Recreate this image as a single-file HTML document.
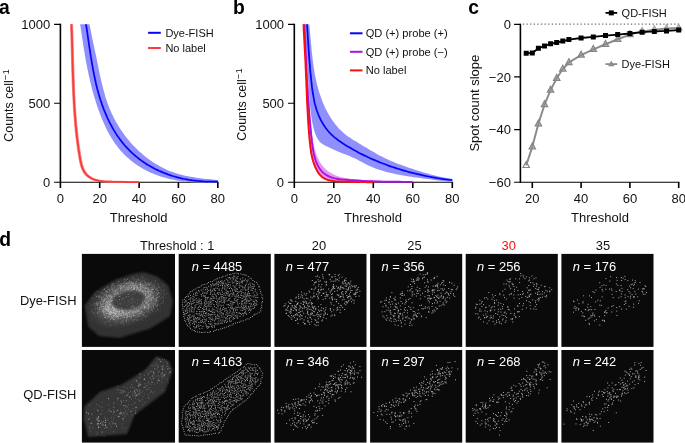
<!DOCTYPE html>
<html lang="en"><head><meta charset="utf-8"><title>Figure</title>
<style>html,body{margin:0;padding:0;background:#fff}svg{display:block}</style></head>
<body>
<svg width="685" height="443" viewBox="0 0 685 443" font-family='"Liberation Sans", sans-serif' fill="#111">
<rect width="685" height="443" fill="#fff"/>
<g id="pa">
<path d="M60.4 23.7V182.8" fill="none" stroke="#000" stroke-width="1.6"/>
<path d="M60.4 182.2H218.6" fill="none" stroke="#000" stroke-width="1.15"/>
<path d="M60.4 182.2v5.9M99.7 182.2v5.9M139.1 182.2v5.9M178.4 182.2v5.9M217.8 182.2v5.9" fill="none" stroke="#000" stroke-width="1.6"/>
<path d="M60.4 182.2h-6.300000000000001M60.4 103.2h-6.300000000000001M60.4 24.3h-6.300000000000001" fill="none" stroke="#000" stroke-width="1.15"/>
<text x="60.4" y="202.9" text-anchor="middle" font-size="13.0">0</text>
<text x="99.7" y="202.9" text-anchor="middle" font-size="13.0">20</text>
<text x="139.1" y="202.9" text-anchor="middle" font-size="13.0">40</text>
<text x="178.4" y="202.9" text-anchor="middle" font-size="13.0">60</text>
<text x="217.8" y="202.9" text-anchor="middle" font-size="13.0">80</text>
<text x="50.2" y="186.9" text-anchor="end" font-size="13.0">0</text>
<text x="50.2" y="108" text-anchor="end" font-size="13.0">500</text>
<text x="50.2" y="29.1" text-anchor="end" font-size="13.0">1000</text>
<text x="138.6" y="221.7" text-anchor="middle" font-size="13.0">Threshold</text>
<text transform="translate(12.9 105.5) rotate(-90)" text-anchor="middle" font-size="12.45">Counts cell<tspan font-size="9.6" dy="-4.3">−1</tspan></text>
<clipPath id="ca"><rect x="60.35" y="24.3" width="170" height="159.89999999999998"/></clipPath>
<g clip-path="url(#ca)">
<path d="M86.9 9.6 L87.2 11.6 L87.5 13.6 L87.9 15.6 L88.2 17.6 L88.6 19.6 L88.9 21.5 L89.3 23.5 L89.7 25.5 L90.1 27.5 L90.5 29.5 L90.9 31.4 L91.3 33.4 L91.7 35.4 L92.1 37.4 L92.5 39.3 L92.9 41.3 L93.3 43.3 L93.8 45.3 L94.2 47.2 L94.6 49.2 L95 51.2 L95.4 53.2 L95.9 55.1 L96.3 57.1 L96.7 59.1 L97.1 61.1 L97.5 63.1 L97.9 65 L98.3 67 L98.7 69 L99.1 71 L99.5 73 L99.9 75 L100.4 76.9 L100.8 78.9 L101.3 80.9 L101.7 82.9 L102.2 84.8 L102.7 86.8 L103.2 88.8 L103.7 90.7 L104.2 92.6 L104.8 94.6 L105.3 96.5 L105.9 98.4 L106.6 100.3 L107.2 102.2 L107.9 104.1 L108.6 106 L109.3 107.9 L110.1 109.7 L110.9 111.6 L111.7 113.4 L112.6 115.3 L113.5 117.1 L114.4 118.9 L115.3 120.6 L116.3 122.4 L117.3 124.1 L118.4 125.9 L119.4 127.6 L120.5 129.3 L121.7 131 L122.8 132.6 L124 134.3 L125.2 135.9 L126.4 137.5 L127.7 139.1 L129 140.6 L130.3 142.2 L131.7 143.7 L133 145.2 L134.4 146.6 L135.9 148.1 L137.3 149.5 L138.8 150.9 L140.3 152.3 L141.8 153.6 L143.3 154.9 L144.9 156.2 L146.5 157.4 L148.1 158.7 L149.7 159.9 L151.4 161 L153 162.2 L154.7 163.2 L156.4 164.3 L158.2 165.3 L159.9 166.3 L161.7 167.3 L163.5 168.2 L165.3 169.1 L167.1 169.9 L168.9 170.7 L170.8 171.4 L172.7 172.1 L174.6 172.7 L176.5 173.4 L178.4 173.9 L180.3 174.5 L182.3 175 L184.3 175.4 L186.2 175.9 L188.2 176.3 L190.2 176.7 L192.2 177 L194.2 177.3 L196.2 177.7 L198.2 177.9 L200.2 178.2 L202.2 178.5 L204.3 178.7 L206.3 178.9 L208.3 179.1 L210.3 179.3 L212.3 179.5 L214.3 179.7 L216.3 179.9 L218.3 180.1 L217.3 182.6 L215.2 182.6 L213.2 182.7 L211.1 182.7 L209 182.7 L206.9 182.7 L204.7 182.7 L202.6 182.6 L200.5 182.6 L198.3 182.5 L196.2 182.4 L194 182.3 L191.9 182.2 L189.7 182 L187.5 181.8 L185.4 181.6 L183.2 181.3 L181.1 181.1 L178.9 180.7 L176.8 180.4 L174.7 180 L172.5 179.6 L170.4 179.2 L168.3 178.7 L166.2 178.1 L164.2 177.6 L162.1 176.9 L160.1 176.3 L158 175.6 L156 174.8 L154 174.1 L152.1 173.2 L150.1 172.4 L148.2 171.5 L146.3 170.5 L144.4 169.5 L142.6 168.5 L140.8 167.4 L139 166.3 L137.2 165.2 L135.5 164 L133.8 162.7 L132.1 161.5 L130.5 160.2 L128.9 158.8 L127.3 157.4 L125.7 156 L124.2 154.5 L122.8 153 L121.4 151.5 L120 149.9 L118.6 148.3 L117.3 146.6 L116.1 144.9 L114.8 143.2 L113.7 141.5 L112.5 139.7 L111.4 137.9 L110.3 136 L109.2 134.2 L108.2 132.3 L107.2 130.4 L106.2 128.5 L105.3 126.5 L104.4 124.6 L103.5 122.6 L102.6 120.6 L101.8 118.6 L101 116.6 L100.2 114.6 L99.5 112.6 L98.7 110.5 L98 108.5 L97.3 106.5 L96.6 104.4 L96 102.4 L95.3 100.3 L94.7 98.3 L94.1 96.2 L93.5 94.2 L92.9 92.1 L92.3 90.1 L91.8 88 L91.3 85.9 L90.8 83.8 L90.3 81.8 L89.8 79.7 L89.3 77.6 L88.8 75.5 L88.4 73.4 L88 71.3 L87.5 69.3 L87.1 67.2 L86.7 65.1 L86.3 63 L85.9 60.9 L85.5 58.8 L85.2 56.7 L84.8 54.6 L84.5 52.5 L84.1 50.4 L83.8 48.3 L83.4 46.2 L83.1 44.1 L82.8 42 L82.5 39.9 L82.1 37.8 L81.8 35.7 L81.5 33.6 L81.2 31.4 L80.9 29.3 L80.6 27.2 L80.3 25.1 L80 23 L79.7 20.9 L79.4 18.8 L79 16.7 L78.7 14.6 L78.4 12.5 L78.1 10.5Z" fill="#9090fc"/>
<path d="M83.5 10.2 L83.9 12.2 L84.3 14.1 L84.6 16.1 L85 18.1 L85.3 20.1 L85.6 22.1 L86 24.1 L86.3 26.1 L86.6 28.1 L86.9 30.2 L87.2 32.2 L87.5 34.2 L87.8 36.3 L88.1 38.3 L88.4 40.4 L88.7 42.4 L89 44.5 L89.3 46.6 L89.6 48.6 L90 50.7 L90.3 52.8 L90.6 54.8 L90.9 56.9 L91.3 59 L91.6 61 L91.9 63.1 L92.3 65.2 L92.7 67.2 L93 69.3 L93.4 71.4 L93.8 73.4 L94.2 75.5 L94.7 77.5 L95.1 79.6 L95.6 81.6 L96 83.7 L96.5 85.7 L97 87.7 L97.5 89.7 L98.1 91.8 L98.6 93.8 L99.2 95.8 L99.8 97.8 L100.4 99.8 L101.1 101.8 L101.8 103.7 L102.4 105.7 L103.2 107.6 L103.9 109.6 L104.7 111.5 L105.5 113.4 L106.3 115.4 L107.1 117.3 L108 119.1 L108.9 121 L109.8 122.9 L110.8 124.7 L111.8 126.5 L112.8 128.3 L113.8 130.1 L114.9 131.9 L116 133.6 L117.1 135.4 L118.3 137.1 L119.5 138.7 L120.7 140.4 L122 142 L123.3 143.6 L124.6 145.2 L125.9 146.7 L127.3 148.2 L128.7 149.7 L130.2 151.1 L131.7 152.6 L133.2 153.9 L134.7 155.3 L136.3 156.6 L137.9 157.9 L139.5 159.2 L141.2 160.4 L142.8 161.6 L144.5 162.7 L146.3 163.9 L148 165 L149.8 166 L151.6 167 L153.4 168 L155.2 169 L157.1 169.9 L159 170.8 L160.9 171.6 L162.8 172.4 L164.7 173.2 L166.7 173.9 L168.6 174.7 L170.6 175.3 L172.6 176 L174.6 176.5 L176.6 177.1 L178.6 177.6 L180.7 178.1 L182.7 178.6 L184.8 179 L186.8 179.4 L188.9 179.8 L191 180.1 L193 180.4 L195.1 180.6 L197.2 180.9 L199.3 181.1 L201.3 181.2 L203.4 181.4 L205.5 181.5 L207.6 181.5 L209.6 181.6 L211.7 181.6 L213.8 181.6 L215.8 181.5 L217.9 181.5" fill="none" stroke="#0505f8" stroke-width="1.75"/>
<path d="M72 9.5 L72.1 11.3 L72.2 13.2 L72.3 15 L72.3 16.9 L72.4 18.7 L72.5 20.6 L72.5 22.4 L72.6 24.3 L72.7 26.1 L72.7 27.9 L72.8 29.8 L72.9 31.6 L72.9 33.5 L73 35.3 L73 37.2 L73.1 39 L73.1 40.9 L73.2 42.7 L73.2 44.5 L73.3 46.4 L73.3 48.2 L73.4 50.1 L73.4 51.9 L73.5 53.8 L73.5 55.6 L73.6 57.5 L73.6 59.3 L73.7 61.2 L73.7 63 L73.8 64.8 L73.8 66.7 L73.9 68.5 L73.9 70.4 L74 72.2 L74 74.1 L74.1 75.9 L74.2 77.8 L74.2 79.6 L74.3 81.5 L74.4 83.3 L74.4 85.1 L74.5 87 L74.6 88.8 L74.7 90.7 L74.7 92.5 L74.8 94.4 L74.9 96.2 L75 98.1 L75.1 99.9 L75.2 101.7 L75.3 103.6 L75.4 105.4 L75.5 107.3 L75.7 109.1 L75.8 111 L75.9 112.8 L76 114.6 L76.2 116.5 L76.3 118.3 L76.5 120.2 L76.6 122 L76.8 123.8 L77 125.7 L77.1 127.5 L77.3 129.3 L77.5 131.2 L77.7 133 L77.9 134.8 L78.1 136.7 L78.3 138.5 L78.6 140.3 L78.8 142.2 L79 144 L79.3 145.8 L79.5 147.6 L79.8 149.5 L80.1 151.3 L80.4 153.1 L80.7 154.9 L81 156.8 L81.3 158.7 L81.7 160.5 L82.1 162.4 L82.5 164.3 L83.1 166.1 L83.7 167.9 L84.4 169.5 L85.3 171.1 L86.3 172.6 L87.4 174 L88.7 175.3 L90.1 176.4 L91.6 177.3 L93.1 178.2 L94.8 178.9 L96.5 179.5 L98.2 180 L100 180.3 L101.9 180.6 L103.7 180.9 L105.6 181 L107.6 181.1 L109.5 181.2 L111.4 181.2 L113.3 181.3 L115.2 181.3 L117.1 181.3 L118.9 181.3 L120.8 181.3 L122.5 181.4 L124.3 181.4 L126.1 181.5 L127.9 181.5 L129.7 181.6 L131.5 181.6 L133.3 181.7 L135.2 181.8 L137.1 181.8 L139 181.9 L139 182.4 L137.1 182.5 L135.1 182.6 L133.2 182.6 L131.4 182.6 L129.5 182.6 L127.7 182.6 L125.9 182.6 L124.1 182.5 L122.3 182.5 L120.5 182.4 L118.7 182.3 L116.9 182.3 L115 182.3 L113.1 182.3 L111.2 182.2 L109.3 182.2 L107.3 182.2 L105.4 182.1 L103.4 182 L101.5 181.8 L99.6 181.6 L97.8 181.3 L96 180.9 L94.2 180.4 L92.5 179.8 L90.9 179.1 L89.3 178.2 L87.8 177.2 L86.4 176.1 L85.2 174.8 L84 173.4 L83 171.9 L82.2 170.2 L81.5 168.5 L80.8 166.7 L80.3 164.9 L79.9 163 L79.5 161.1 L79.1 159.2 L78.8 157.3 L78.5 155.5 L78.2 153.6 L77.9 151.8 L77.6 149.9 L77.4 148.1 L77.1 146.3 L76.9 144.4 L76.6 142.6 L76.4 140.7 L76.2 138.9 L75.9 137 L75.7 135.2 L75.5 133.3 L75.3 131.5 L75.1 129.6 L75 127.8 L74.8 125.9 L74.6 124.1 L74.5 122.2 L74.3 120.4 L74.2 118.5 L74 116.6 L73.9 114.8 L73.7 112.9 L73.6 111.1 L73.5 109.2 L73.4 107.3 L73.3 105.5 L73.2 103.6 L73.1 101.8 L73 99.9 L72.9 98 L72.8 96.2 L72.7 94.3 L72.6 92.5 L72.5 90.6 L72.4 88.7 L72.4 86.9 L72.3 85 L72.2 83.1 L72.1 81.3 L72.1 79.4 L72 77.6 L72 75.7 L71.9 73.8 L71.8 72 L71.8 70.1 L71.7 68.2 L71.7 66.4 L71.6 64.5 L71.6 62.7 L71.5 60.8 L71.5 58.9 L71.4 57.1 L71.4 55.2 L71.3 53.3 L71.3 51.5 L71.2 49.6 L71.2 47.7 L71.1 45.9 L71.1 44 L71 42.2 L71 40.3 L70.9 38.4 L70.9 36.6 L70.8 34.7 L70.8 32.8 L70.7 31 L70.6 29.1 L70.6 27.3 L70.5 25.4 L70.5 23.5 L70.4 21.7 L70.3 19.8 L70.2 17.9 L70.2 16.1 L70.1 14.2 L70 12.4 L69.9 10.5Z" fill="#fb8c8c" stroke="#fb8c8c" stroke-width="1"/>
<path d="M70.9 10 L71 11.9 L71.1 13.7 L71.2 15.6 L71.2 17.4 L71.3 19.3 L71.4 21.1 L71.4 23 L71.5 24.8 L71.6 26.7 L71.6 28.5 L71.7 30.4 L71.8 32.2 L71.8 34.1 L71.9 36 L71.9 37.8 L72 39.7 L72 41.5 L72.1 43.4 L72.1 45.2 L72.2 47.1 L72.2 48.9 L72.3 50.8 L72.3 52.6 L72.4 54.5 L72.4 56.4 L72.5 58.2 L72.5 60.1 L72.6 61.9 L72.6 63.8 L72.7 65.6 L72.7 67.5 L72.8 69.3 L72.8 71.2 L72.9 73 L72.9 74.9 L73 76.8 L73.1 78.6 L73.1 80.5 L73.2 82.3 L73.3 84.2 L73.3 86 L73.4 87.9 L73.5 89.7 L73.6 91.6 L73.7 93.4 L73.7 95.3 L73.8 97.1 L73.9 99 L74 100.9 L74.1 102.7 L74.2 104.6 L74.4 106.4 L74.5 108.3 L74.6 110.1 L74.7 112 L74.8 113.8 L75 115.7 L75.1 117.5 L75.3 119.4 L75.4 121.2 L75.6 123.1 L75.7 124.9 L75.9 126.8 L76.1 128.6 L76.3 130.4 L76.5 132.3 L76.7 134.1 L76.9 136 L77.1 137.8 L77.3 139.6 L77.5 141.5 L77.8 143.3 L78 145.1 L78.3 147 L78.5 148.8 L78.8 150.6 L79.1 152.5 L79.4 154.3 L79.7 156.2 L80 158 L80.3 159.9 L80.7 161.8 L81.1 163.7 L81.6 165.5 L82.2 167.3 L82.9 169.1 L83.7 170.7 L84.6 172.3 L85.7 173.8 L86.9 175.1 L88.2 176.3 L89.7 177.3 L91.2 178.3 L92.8 179 L94.5 179.7 L96.2 180.2 L98 180.6 L99.8 181 L101.7 181.2 L103.6 181.4 L105.5 181.6 L107.4 181.7 L109.4 181.7 L111.3 181.7 L113.2 181.8 L115.1 181.8 L117 181.8 L118.8 181.8 L120.6 181.9 L122.4 181.9 L124.2 182 L126 182 L127.8 182.1 L129.6 182.1 L131.4 182.1 L133.3 182.2 L135.2 182.2 L137.1 182.1 L139 182.1" fill="none" stroke="#f83c3c" stroke-width="1.8"/>
</g>
<text x="-1.1" y="13.9" font-size="19.3" font-weight="bold" fill="#000">a</text>
<path d="M148.1 32.8h12.7" stroke="#0505f8" stroke-width="2"/><text x="165.4" y="36.9" font-size="11">Dye-FISH</text>
<path d="M148.1 48h12.7" stroke="#f83c3c" stroke-width="2"/><text x="165.4" y="52.2" font-size="11">No label</text>
</g>
<g id="pb">
<path d="M294.3 23.7V182.8" fill="none" stroke="#000" stroke-width="1.6"/>
<path d="M294.3 182.2H453.1" fill="none" stroke="#000" stroke-width="1.15"/>
<path d="M294.3 182.2v5.9M333.8 182.2v5.9M373.3 182.2v5.9M412.8 182.2v5.9M452.3 182.2v5.9" fill="none" stroke="#000" stroke-width="1.6"/>
<path d="M294.3 182.2h-6.300000000000001M294.3 103.2h-6.300000000000001M294.3 24.3h-6.300000000000001" fill="none" stroke="#000" stroke-width="1.15"/>
<text x="294.3" y="202.9" text-anchor="middle" font-size="13.0">0</text>
<text x="333.8" y="202.9" text-anchor="middle" font-size="13.0">20</text>
<text x="373.3" y="202.9" text-anchor="middle" font-size="13.0">40</text>
<text x="412.8" y="202.9" text-anchor="middle" font-size="13.0">60</text>
<text x="452.3" y="202.9" text-anchor="middle" font-size="13.0">80</text>
<text x="284.1" y="186.9" text-anchor="end" font-size="13.0">0</text>
<text x="284.1" y="108" text-anchor="end" font-size="13.0">500</text>
<text x="284.1" y="29.1" text-anchor="end" font-size="13.0">1000</text>
<text x="373" y="221.7" text-anchor="middle" font-size="13.0">Threshold</text>
<text transform="translate(246.4 104.5) rotate(-90)" text-anchor="middle" font-size="12.45">Counts cell<tspan font-size="9.6" dy="-4.3">−1</tspan></text>
<clipPath id="cb"><rect x="294.3" y="24.3" width="170" height="159.89999999999998"/></clipPath>
<g clip-path="url(#cb)">
<path d="M307.7 10.1 L308 12.1 L308.2 14.2 L308.5 16.2 L308.7 18.3 L308.9 20.4 L309.1 22.4 L309.3 24.5 L309.5 26.6 L309.7 28.7 L309.9 30.8 L310.1 32.9 L310.3 35 L310.4 37.1 L310.6 39.2 L310.8 41.3 L311 43.4 L311.2 45.6 L311.4 47.7 L311.6 49.8 L311.8 51.9 L312 54 L312.3 56.1 L312.5 58.2 L312.8 60.3 L313 62.5 L313.3 64.6 L313.6 66.7 L313.9 68.7 L314.3 70.8 L314.6 72.9 L315 75 L315.4 77.1 L315.8 79.1 L316.3 81.2 L316.7 83.2 L317.2 85.3 L317.8 87.3 L318.3 89.3 L318.9 91.3 L319.5 93.3 L320.2 95.3 L320.9 97.3 L321.6 99.3 L322.3 101.2 L323.1 103.2 L323.9 105.1 L324.8 107 L325.7 108.9 L326.7 110.8 L327.7 112.7 L328.7 114.5 L329.8 116.3 L330.9 118.1 L332.1 119.9 L333.3 121.6 L334.6 123.3 L335.9 125 L337.2 126.6 L338.6 128.2 L340.1 129.7 L341.6 131.1 L343.1 132.5 L344.7 133.9 L346.3 135.2 L348 136.4 L349.7 137.6 L351.5 138.8 L353.3 139.9 L355.1 141 L356.9 142.1 L358.7 143.2 L360.5 144.3 L362.3 145.4 L364.1 146.4 L365.9 147.5 L367.7 148.6 L369.5 149.7 L371.3 150.7 L373.2 151.8 L375 152.8 L376.8 153.9 L378.6 154.9 L380.5 155.9 L382.3 156.8 L384.2 157.8 L386.1 158.7 L387.9 159.6 L389.9 160.5 L391.8 161.3 L393.7 162.1 L395.7 162.9 L397.6 163.7 L399.6 164.4 L401.6 165.1 L403.5 165.8 L405.5 166.5 L407.5 167.2 L409.5 167.9 L411.5 168.6 L413.5 169.2 L415.5 169.9 L417.5 170.6 L419.5 171.2 L421.5 171.8 L423.5 172.5 L425.6 173.1 L427.6 173.6 L429.6 174.2 L431.6 174.8 L433.7 175.3 L435.7 175.8 L437.8 176.3 L439.8 176.7 L441.9 177.1 L444 177.5 L446 177.9 L448.1 178.2 L450.2 178.5 L452.3 178.8 L452.3 181.6 L450 181.5 L447.7 181.4 L445.4 181.2 L443.1 181 L440.8 180.8 L438.5 180.5 L436.2 180.2 L434 179.9 L431.7 179.6 L429.4 179.3 L427.1 179 L424.8 178.7 L422.6 178.4 L420.3 178.1 L418 177.8 L415.7 177.5 L413.4 177.2 L411.2 176.8 L408.9 176.5 L406.6 176.1 L404.4 175.7 L402.1 175.3 L399.8 174.9 L397.6 174.5 L395.3 174 L393.1 173.5 L390.8 173 L388.6 172.5 L386.4 171.9 L384.1 171.3 L381.9 170.6 L379.8 169.9 L377.6 169.2 L375.4 168.4 L373.3 167.6 L371.2 166.7 L369.1 165.8 L367 164.8 L364.9 163.7 L362.9 162.6 L360.8 161.5 L358.8 160.4 L356.8 159.3 L354.7 158.3 L352.6 157.4 L350.5 156.5 L348.4 155.6 L346.3 154.8 L344.1 154 L342 153.2 L339.9 152.3 L337.8 151.4 L335.7 150.5 L333.5 149.5 L331.4 148.6 L329.2 147.6 L327 146.6 L324.9 145.5 L322.9 144.3 L321.1 143 L319.5 141.4 L318.2 139.7 L317 137.8 L316 135.8 L315.2 133.7 L314.5 131.5 L313.8 129.3 L313.3 127 L312.8 124.7 L312.3 122.5 L311.9 120.2 L311.5 117.9 L311.2 115.6 L310.9 113.3 L310.6 111.1 L310.3 108.8 L310.1 106.5 L309.9 104.2 L309.7 101.9 L309.5 99.6 L309.3 97.3 L309.1 95 L309 92.7 L308.8 90.4 L308.7 88.1 L308.5 85.8 L308.4 83.5 L308.2 81.2 L308 78.9 L307.9 76.6 L307.7 74.4 L307.5 72.1 L307.4 69.8 L307.2 67.5 L307 65.2 L306.8 62.9 L306.7 60.6 L306.5 58.3 L306.3 56 L306.2 53.7 L306 51.4 L305.9 49.1 L305.7 46.8 L305.6 44.5 L305.4 42.2 L305.3 39.9 L305.1 37.6 L305 35.3 L304.9 33 L304.8 30.7 L304.6 28.4 L304.5 26.1 L304.4 23.8 L304.4 21.5 L304.3 19.2 L304.2 16.9 L304.2 14.6 L304.1 12.3 L304.1 10Z" fill="#9090fc"/>
<path d="M306.2 10 L306.4 12.2 L306.5 14.4 L306.6 16.6 L306.8 18.8 L306.9 21 L307 23.2 L307.1 25.4 L307.3 27.6 L307.4 29.7 L307.5 31.9 L307.7 34.1 L307.8 36.3 L307.9 38.5 L308.1 40.6 L308.2 42.8 L308.3 45 L308.5 47.1 L308.6 49.3 L308.8 51.5 L308.9 53.7 L309.1 55.8 L309.2 58 L309.4 60.2 L309.6 62.3 L309.8 64.5 L310 66.7 L310.1 68.9 L310.3 71.1 L310.5 73.3 L310.8 75.4 L311 77.6 L311.2 79.8 L311.4 82 L311.7 84.2 L311.9 86.4 L312.2 88.6 L312.5 90.8 L312.8 93 L313.2 95.2 L313.6 97.4 L314 99.6 L314.4 101.7 L314.9 103.9 L315.5 106 L316.1 108.1 L316.7 110.2 L317.5 112.3 L318.2 114.3 L319.1 116.3 L320 118.3 L320.9 120.2 L322 122.2 L323.1 124 L324.2 125.8 L325.4 127.6 L326.7 129.3 L328.1 131 L329.5 132.6 L331 134.1 L332.6 135.6 L334.2 137.1 L335.9 138.4 L337.6 139.8 L339.4 141.1 L341.2 142.3 L343 143.5 L344.9 144.7 L346.8 145.9 L348.7 147 L350.6 148.1 L352.5 149.2 L354.4 150.3 L356.3 151.3 L358.3 152.4 L360.2 153.4 L362.2 154.4 L364.2 155.4 L366.2 156.3 L368.1 157.2 L370.1 158.2 L372.1 159.1 L374.1 159.9 L376.2 160.8 L378.2 161.6 L380.2 162.5 L382.3 163.3 L384.3 164 L386.4 164.8 L388.4 165.6 L390.5 166.3 L392.5 167 L394.6 167.7 L396.7 168.4 L398.8 169 L400.9 169.7 L403 170.3 L405.1 170.9 L407.2 171.5 L409.3 172.1 L411.4 172.6 L413.5 173.2 L415.7 173.7 L417.8 174.2 L419.9 174.7 L422.1 175.2 L424.2 175.6 L426.4 176.1 L428.5 176.5 L430.6 176.9 L432.8 177.3 L435 177.7 L437.1 178.1 L439.3 178.4 L441.4 178.8 L443.6 179.1 L445.8 179.4 L447.9 179.7 L450.1 180 L452.3 180.2" fill="none" stroke="#0505f8" stroke-width="1.75"/>
<path d="M304.6 10 L304.6 12.1 L304.7 14.2 L304.7 16.4 L304.8 18.5 L304.9 20.6 L304.9 22.7 L305 24.8 L305.1 26.9 L305.2 29 L305.3 31.2 L305.4 33.3 L305.5 35.4 L305.6 37.5 L305.8 39.6 L305.9 41.7 L306 43.9 L306.1 46 L306.3 48.1 L306.4 50.2 L306.6 52.3 L306.7 54.4 L306.8 56.5 L307 58.7 L307.1 60.8 L307.3 62.9 L307.4 65 L307.5 67.1 L307.7 69.2 L307.8 71.3 L307.9 73.5 L308.1 75.6 L308.2 77.7 L308.3 79.8 L308.5 81.9 L308.6 84 L308.7 86.1 L308.8 88.3 L309 90.4 L309.1 92.5 L309.2 94.6 L309.3 96.7 L309.4 98.8 L309.6 100.9 L309.7 103 L309.8 105.1 L309.9 107.3 L310 109.4 L310.1 111.5 L310.2 113.6 L310.3 115.7 L310.4 117.8 L310.5 119.9 L310.7 122 L310.8 124.1 L311 126.2 L311.2 128.3 L311.4 130.4 L311.6 132.5 L311.9 134.6 L312.2 136.7 L312.5 138.8 L312.9 140.9 L313.3 143 L313.7 145.1 L314.2 147.2 L314.8 149.3 L315.4 151.4 L316.1 153.5 L316.8 155.5 L317.6 157.5 L318.5 159.4 L319.5 161.3 L320.6 163.1 L321.8 164.8 L323.1 166.4 L324.6 167.9 L326 169.4 L327.6 170.7 L329.3 171.9 L331 173 L332.9 174 L334.7 174.9 L336.7 175.7 L338.6 176.4 L340.7 177 L342.7 177.5 L344.8 177.9 L346.9 178.3 L349.1 178.6 L351.2 178.9 L353.4 179.1 L355.6 179.3 L357.7 179.4 L359.9 179.6 L362 179.7 L364.1 179.9 L366.3 180 L368.4 180.2 L370.5 180.3 L372.6 180.4 L374.7 180.5 L376.8 180.7 L378.8 180.8 L380.9 180.9 L383 181 L385.2 181.1 L387.3 181.2 L389.4 181.3 L391.5 181.3 L393.6 181.4 L395.7 181.5 L397.9 181.6 L400 181.6 L402.1 181.7 L404.2 181.7 L406.3 181.7 L408.5 181.8 L410.6 181.8 L412.7 181.8 L373 182.2 L371.1 182.2 L369.2 182.2 L367.4 182.2 L365.5 182.1 L363.6 182.1 L361.8 182 L359.9 182 L358.1 181.9 L356.2 181.9 L354.4 181.9 L352.6 181.8 L350.7 181.8 L348.9 181.8 L347 181.7 L345.1 181.7 L343.3 181.7 L341.4 181.6 L339.5 181.5 L337.5 181.4 L335.6 181.3 L333.7 181.1 L331.7 180.8 L329.9 180.4 L328.1 180 L326.3 179.4 L324.7 178.6 L323.2 177.7 L321.8 176.7 L320.5 175.4 L319.3 174.1 L318.2 172.6 L317.3 171.1 L316.4 169.4 L315.6 167.7 L314.8 166 L314.2 164.2 L313.6 162.5 L313 160.7 L312.5 158.9 L312.1 157 L311.7 155.2 L311.3 153.4 L311 151.5 L310.8 149.7 L310.5 147.8 L310.3 145.9 L310.1 144.1 L309.9 142.2 L309.7 140.3 L309.5 138.5 L309.3 136.6 L309.2 134.7 L309 132.8 L308.9 131 L308.7 129.1 L308.6 127.2 L308.5 125.4 L308.3 123.5 L308.2 121.7 L308.1 119.8 L308 117.9 L307.9 116.1 L307.8 114.2 L307.7 112.4 L307.6 110.5 L307.5 108.6 L307.4 106.8 L307.3 104.9 L307.2 103.1 L307.1 101.2 L307 99.4 L307 97.5 L306.9 95.6 L306.8 93.8 L306.7 91.9 L306.7 90.1 L306.6 88.2 L306.5 86.4 L306.4 84.5 L306.4 82.7 L306.3 80.8 L306.2 78.9 L306.1 77.1 L306.1 75.2 L306 73.4 L305.9 71.5 L305.8 69.6 L305.7 67.8 L305.6 65.9 L305.6 64.1 L305.5 62.2 L305.4 60.3 L305.3 58.5 L305.2 56.6 L305.1 54.7 L305 52.9 L304.9 51 L304.8 49.1 L304.7 47.3 L304.6 45.4 L304.5 43.5 L304.4 41.7 L304.3 39.8 L304.2 37.9 L304.1 36.1 L304 34.2 L303.9 32.3 L303.8 30.5 L303.7 28.6 L303.7 26.7 L303.6 24.9 L303.5 23 L303.4 21.2 L303.3 19.3 L303.2 17.4 L303.2 15.6 L303.1 13.7 L303 11.9 L303 10Z" fill="#e49af0"/>
<path d="M303.7 10 L303.8 12.1 L303.9 14.3 L304 16.5 L304.1 18.6 L304.2 20.8 L304.3 23 L304.4 25.1 L304.5 27.3 L304.6 29.5 L304.7 31.6 L304.8 33.8 L304.9 35.9 L305 38.1 L305.1 40.2 L305.2 42.4 L305.3 44.6 L305.4 46.7 L305.5 48.9 L305.6 51 L305.7 53.2 L305.8 55.3 L305.9 57.5 L306 59.6 L306.1 61.8 L306.2 63.9 L306.3 66.1 L306.4 68.2 L306.5 70.3 L306.6 72.5 L306.7 74.6 L306.8 76.8 L306.9 78.9 L307.1 81.1 L307.2 83.2 L307.3 85.4 L307.4 87.5 L307.6 89.7 L307.7 91.8 L307.8 94 L308 96.1 L308.1 98.3 L308.3 100.4 L308.4 102.6 L308.6 104.7 L308.7 106.9 L308.9 109 L309.1 111.2 L309.2 113.3 L309.4 115.5 L309.6 117.6 L309.8 119.8 L310 121.9 L310.2 124.1 L310.4 126.3 L310.6 128.4 L310.8 130.6 L311 132.7 L311.2 134.9 L311.5 137.1 L311.7 139.2 L311.9 141.4 L312.2 143.6 L312.5 145.7 L312.8 147.9 L313.1 150 L313.5 152.1 L313.9 154.3 L314.5 156.3 L315 158.4 L315.7 160.5 L316.5 162.5 L317.3 164.4 L318.3 166.4 L319.4 168.2 L320.6 170 L322 171.6 L323.5 173 L325.2 174.3 L326.9 175.4 L328.8 176.4 L330.8 177.2 L332.8 177.9 L334.9 178.4 L337.1 178.8 L339.2 179.2 L341.4 179.4 L343.7 179.6 L345.9 179.8 L348.1 180 L350.3 180.1 L352.5 180.2 L354.6 180.4 L356.8 180.5 L358.9 180.6 L361 180.8 L363.2 180.9 L365.3 181 L367.4 181.1 L369.5 181.2 L371.7 181.3 L373.8 181.4 L376 181.4 L378.1 181.5 L380.3 181.5 L382.4 181.6 L384.6 181.6 L386.8 181.7 L389 181.7 L391.1 181.7 L393.3 181.8 L395.5 181.8 L397.6 181.8 L399.8 181.8 L402 181.9 L404.1 181.9 L406.3 181.9 L408.4 181.9 L410.6 182 L412.7 182" fill="none" stroke="#a812e2" stroke-width="1.9"/>
<path d="M303 10 L303 11.9 L303.1 13.7 L303.2 15.6 L303.2 17.4 L303.3 19.3 L303.4 21.2 L303.5 23 L303.6 24.9 L303.7 26.7 L303.7 28.6 L303.8 30.5 L303.9 32.3 L304 34.2 L304.1 36.1 L304.2 37.9 L304.3 39.8 L304.4 41.7 L304.5 43.5 L304.6 45.4 L304.7 47.3 L304.8 49.1 L304.9 51 L305 52.9 L305.1 54.7 L305.2 56.6 L305.3 58.5 L305.4 60.3 L305.5 62.2 L305.6 64.1 L305.6 65.9 L305.7 67.8 L305.8 69.6 L305.9 71.5 L306 73.4 L306.1 75.2 L306.1 77.1 L306.2 78.9 L306.3 80.8 L306.4 82.7 L306.4 84.5 L306.5 86.4 L306.6 88.2 L306.7 90.1 L306.7 91.9 L306.8 93.8 L306.9 95.6 L307 97.5 L307 99.4 L307.1 101.2 L307.2 103.1 L307.3 104.9 L307.4 106.8 L307.5 108.6 L307.6 110.5 L307.7 112.4 L307.8 114.2 L307.9 116.1 L308 117.9 L308.1 119.8 L308.2 121.7 L308.3 123.5 L308.5 125.4 L308.6 127.2 L308.7 129.1 L308.9 131 L309 132.8 L309.2 134.7 L309.3 136.6 L309.5 138.5 L309.7 140.3 L309.9 142.2 L310.1 144.1 L310.3 145.9 L310.5 147.8 L310.8 149.7 L311 151.5 L311.3 153.4 L311.7 155.2 L312.1 157 L312.5 158.9 L313 160.7 L313.6 162.5 L314.2 164.2 L314.8 166 L315.6 167.7 L316.4 169.4 L317.3 171.1 L318.2 172.6 L319.3 174.1 L320.5 175.4 L321.8 176.7 L323.2 177.7 L324.7 178.6 L326.3 179.4 L328.1 180 L329.9 180.4 L331.7 180.8 L333.7 181.1 L335.6 181.3 L337.5 181.4 L339.5 181.5 L341.4 181.6 L343.3 181.7 L345.1 181.7 L347 181.7 L348.9 181.8 L350.7 181.8 L352.6 181.8 L354.4 181.9 L356.2 181.9 L358.1 181.9 L359.9 182 L361.8 182 L363.6 182.1 L365.5 182.1 L367.4 182.2 L369.2 182.2 L371.1 182.2 L373 182.2" fill="none" stroke="#fa0f0f" stroke-width="2"/>
</g>
<text x="232.9" y="13.9" font-size="19.3" font-weight="bold" fill="#000">b</text>
<path d="M349.9 33.3h12.6" stroke="#0505f8" stroke-width="2"/><text x="365.7" y="37.1" font-size="11.1">QD (+) probe (+)</text>
<path d="M349.9 51.8h12.6" stroke="#a812e2" stroke-width="2"/><text x="365.7" y="55.6" font-size="11.1">QD (+) probe (−)</text>
<path d="M349.9 70.4h12.6" stroke="#fa0f0f" stroke-width="2"/><text x="365.7" y="74.2" font-size="11.1">No label</text>
</g>
<g id="pc">
<path d="M522.9 24.1H679" stroke="#6e6e6e" stroke-width="1.3" stroke-dasharray="1.3 2.3" fill="none"/>
<path d="M526.2 165.4 L532.3 146.7 L538.4 123.8 L544.5 104.6 L550.6 90.1 L556.7 78.2 L562.8 69 L568.9 62.5 L581.1 55.1 L593.3 49.3 L605.5 44.3 L617.7 39.3 L629.9 34.6 L642.1 31.4 L654.3 29.7 L666.5 28.6 L678.7 28" fill="none" stroke="#8c8c8c" stroke-width="2"/>
<path d="M526.2 161.6L529.4 167.5H523Z" fill="#8c8c8c" fill-opacity="0.0" stroke="#858585" stroke-width="1.2" stroke-linejoin="miter"/>
<path d="M532.3 142.9L535.5 148.8H529.1Z" fill="#8c8c8c" fill-opacity="0.5" stroke="#858585" stroke-width="1.2" stroke-linejoin="miter"/>
<path d="M538.4 120L541.6 125.9H535.2Z" fill="#8c8c8c" fill-opacity="0.5" stroke="#858585" stroke-width="1.2" stroke-linejoin="miter"/>
<path d="M544.5 100.8L547.7 106.7H541.3Z" fill="#8c8c8c" fill-opacity="0.5" stroke="#858585" stroke-width="1.2" stroke-linejoin="miter"/>
<path d="M550.6 86.3L553.8 92.2H547.4Z" fill="#8c8c8c" fill-opacity="0.5" stroke="#858585" stroke-width="1.2" stroke-linejoin="miter"/>
<path d="M556.7 74.4L559.9 80.3H553.5Z" fill="#8c8c8c" fill-opacity="0.5" stroke="#858585" stroke-width="1.2" stroke-linejoin="miter"/>
<path d="M562.8 65.2L566 71.1H559.6Z" fill="#8c8c8c" fill-opacity="0.5" stroke="#858585" stroke-width="1.2" stroke-linejoin="miter"/>
<path d="M568.9 58.7L572.1 64.6H565.7Z" fill="#8c8c8c" fill-opacity="0.5" stroke="#858585" stroke-width="1.2" stroke-linejoin="miter"/>
<path d="M581.1 51.3L584.3 57.2H577.9Z" fill="#8c8c8c" fill-opacity="0.5" stroke="#858585" stroke-width="1.2" stroke-linejoin="miter"/>
<path d="M593.3 45.5L596.5 51.4H590.1Z" fill="#8c8c8c" fill-opacity="0.5" stroke="#858585" stroke-width="1.2" stroke-linejoin="miter"/>
<path d="M605.5 40.5L608.7 46.4H602.3Z" fill="#8c8c8c" fill-opacity="0.5" stroke="#858585" stroke-width="1.2" stroke-linejoin="miter"/>
<path d="M617.7 35.5L620.9 41.4H614.5Z" fill="#8c8c8c" fill-opacity="0.5" stroke="#858585" stroke-width="1.2" stroke-linejoin="miter"/>
<path d="M629.9 30.8L633.1 36.7H626.7Z" fill="#8c8c8c" fill-opacity="0.5" stroke="#858585" stroke-width="1.2" stroke-linejoin="miter"/>
<path d="M642.1 27.6L645.3 33.5H638.9Z" fill="#8c8c8c" fill-opacity="0.5" stroke="#a4a4a4" stroke-width="1.2" stroke-linejoin="miter"/>
<path d="M654.3 25.9L657.5 31.8H651.1Z" fill="#8c8c8c" fill-opacity="0.5" stroke="#a4a4a4" stroke-width="1.2" stroke-linejoin="miter"/>
<path d="M666.5 24.8L669.7 30.7H663.3Z" fill="#8c8c8c" fill-opacity="0.5" stroke="#a4a4a4" stroke-width="1.2" stroke-linejoin="miter"/>
<path d="M678.7 24.2L681.9 30.1H675.5Z" fill="#8c8c8c" fill-opacity="0.5" stroke="#a4a4a4" stroke-width="1.2" stroke-linejoin="miter"/>
<path d="M526.2 53.2 L532.3 53 L538.4 48.2 L544.5 45.9 L550.6 43.8 L556.7 42.5 L562.8 41.1 L568.9 39.6 L581.1 38 L593.3 36.9 L605.5 35.6 L617.7 34.6 L629.9 33.5 L642.1 32.2 L654.3 31.4 L666.5 30.9 L678.7 30.1" fill="none" stroke="#000" stroke-width="1.8"/>
<path d="M523.7 50.7h5v5h-5zM529.8 50.5h5v5h-5zM535.9 45.7h5v5h-5zM542 43.4h5v5h-5zM548.1 41.3h5v5h-5zM554.2 40h5v5h-5zM560.3 38.6h5v5h-5zM566.4 37.1h5v5h-5zM578.6 35.5h5v5h-5zM590.8 34.4h5v5h-5zM603 33.1h5v5h-5zM615.2 32.1h5v5h-5zM627.4 31h5v5h-5zM639.6 29.7h5v5h-5zM651.8 28.9h5v5h-5zM664 28.4h5v5h-5zM676.2 27.6h5v5h-5z" fill="#000"/>
<path d="M520.4 23.7V182.8" fill="none" stroke="#000" stroke-width="1.6"/>
<path d="M520.4 182.2H679.5" fill="none" stroke="#000" stroke-width="1.15"/>
<path d="M532.3 182.2v5.9M581.1 182.2v5.9M629.9 182.2v5.9M678.7 182.2v5.9" fill="none" stroke="#000" stroke-width="1.6"/>
<path d="M520.4 24.3h-6.300000000000001M520.4 76.9h-6.300000000000001M520.4 129.6h-6.300000000000001M520.4 182.2h-6.300000000000001" fill="none" stroke="#000" stroke-width="1.15"/>
<text x="532.3" y="202.9" text-anchor="middle" font-size="13.0">20</text>
<text x="581.1" y="202.9" text-anchor="middle" font-size="13.0">40</text>
<text x="629.9" y="202.9" text-anchor="middle" font-size="13.0">60</text>
<text x="678.7" y="202.9" text-anchor="middle" font-size="13.0">80</text>
<text x="510.9" y="29.1" text-anchor="end" font-size="13.0">0</text>
<text x="510.9" y="81.7" text-anchor="end" font-size="13.0">−20</text>
<text x="510.9" y="134.3" text-anchor="end" font-size="13.0">−40</text>
<text x="510.9" y="186.9" text-anchor="end" font-size="13.0">−60</text>
<text x="600" y="221.7" text-anchor="middle" font-size="13.0">Threshold</text>
<text transform="translate(479.4 103.2) rotate(-90)" text-anchor="middle" font-size="13.0">Spot count slope</text>
<text x="468.3" y="13.9" font-size="19.3" font-weight="bold" fill="#000">c</text>
<path d="M605.5 12.9h11.7" stroke="#000" stroke-width="1.8"/><rect x="608.8" y="10.4" width="5" height="5" fill="#000"/><text x="621.6" y="16.9" font-size="11">QD-FISH</text>
<path d="M605.5 64.1h11.7" stroke="#8c8c8c" stroke-width="1.8"/><path d="M611.3 60.5l3.2 5.8h-6.4z" fill="#8c8c8c"/><text x="621.6" y="68.3" font-size="11">Dye-FISH</text>
</g>
<g id="pd">
<text x="-0.8" y="246.2" font-size="19.3" font-weight="bold" fill="#000">d</text>
<text x="214.3" y="250.2" text-anchor="end" font-size="12.75">Threshold : 1</text>
<text x="319" y="250.2" text-anchor="middle" font-size="12.9" fill="#111">20</text>
<text x="414.5" y="250.2" text-anchor="middle" font-size="12.9" fill="#111">25</text>
<text x="508.7" y="250.2" text-anchor="middle" font-size="12.9" fill="#f01414">30</text>
<text x="602.9" y="250.2" text-anchor="middle" font-size="12.9" fill="#111">35</text>
<text x="76.5" y="304.6" text-anchor="end" font-size="12.9">Dye-FISH</text>
<text x="76.3" y="399.4" text-anchor="end" font-size="12.9">QD-FISH</text>
<rect x="81.9" y="253.9" width="93.1" height="93" fill="#0a0a0a"/>
<rect x="178.7" y="253.9" width="92.1" height="93" fill="#0a0a0a"/>
<rect x="274.4" y="253.9" width="92.1" height="93" fill="#0a0a0a"/>
<rect x="370.1" y="253.9" width="92.1" height="93" fill="#0a0a0a"/>
<rect x="465.7" y="253.9" width="92.1" height="93" fill="#0a0a0a"/>
<rect x="561.4" y="253.9" width="92.1" height="93" fill="#0a0a0a"/>
<rect x="81.9" y="350" width="93.1" height="92.6" fill="#0a0a0a"/>
<rect x="178.7" y="350" width="92.1" height="92.6" fill="#0a0a0a"/>
<rect x="274.4" y="350" width="92.1" height="92.6" fill="#0a0a0a"/>
<rect x="370.1" y="350" width="92.1" height="92.6" fill="#0a0a0a"/>
<rect x="465.7" y="350" width="92.1" height="92.6" fill="#0a0a0a"/>
<rect x="561.4" y="350" width="92.1" height="92.6" fill="#0a0a0a"/>
<defs><filter id="bl" x="-10%" y="-10%" width="120%" height="120%"><feGaussianBlur stdDeviation="0.9"/></filter><filter id="bl2" x="-20%" y="-20%" width="140%" height="140%"><feGaussianBlur stdDeviation="2.2"/></filter><filter id="bl3" x="-20%" y="-20%" width="140%" height="140%"><feGaussianBlur stdDeviation="0.35"/></filter><filter id="bl5" x="-10%" y="-10%" width="120%" height="120%"><feGaussianBlur stdDeviation="0.8"/></filter><filter id="bl6" x="-10%" y="-10%" width="120%" height="120%"><feGaussianBlur stdDeviation="0.65"/></filter><filter id="bl4" x="-5%" y="-5%" width="110%" height="110%"><feGaussianBlur stdDeviation="0.5"/></filter></defs>
<g transform="translate(82 253.9)">
<path d="M62.2 18.3 L74.7 22.4 L86.1 31.1 L91 47.7 L88.2 62.2 L68.5 74.7 L37.3 84 L16.6 82 L6.2 72.6 L2.5 51.9 L12.4 38.4 L33.2 25.9 L51.9 19.7Z" fill="#303030" filter="url(#bl)"/>
<defs><radialGradient id="rg"><stop offset="0" stop-color="#777" stop-opacity="1"/><stop offset="0.45" stop-color="#707070" stop-opacity="0.9"/><stop offset="0.75" stop-color="#606060" stop-opacity="0.4"/><stop offset="1" stop-color="#555" stop-opacity="0"/></radialGradient></defs>
<ellipse cx="44" cy="49" rx="40" ry="24" transform="rotate(-20 44 49)" fill="url(#rg)" opacity="0.95"/>
<g filter="url(#bl)"><ellipse cx="46.6" cy="46.4" rx="16" ry="9" transform="rotate(-10 46.6 46.4)" fill="#3c3c3c"/></g>
<g filter="url(#bl6)"><path d="M34.2 37.8h0.75M62.5 32.7h0.75M52.4 31.3h0.75M30.2 36.6h0.75M54.3 60.7h0.75M41.6 60.5h0.75M68.9 53.3h0.75M61.7 34.1h0.75M66 40.9h0.75M41.3 58.1h0.75M40.8 65.6h0.75M28.4 45.5h0.75M74.8 41h0.75M34.3 58.6h0.75M78.1 37.1h0.75M24.3 64.6h0.75M28.4 57.9h0.75M24.7 52.6h0.75M47.6 33.9h0.75M52.9 59.5h0.75M73.5 50.6h0.75M62.8 51.4h0.75M53.6 25.8h0.75M65.2 43.7h0.75M69.6 34.4h0.75M26.9 58.5h0.75M31.7 56.1h0.75M30.5 30.2h0.75M30.5 30.6h0.75M66.8 53h0.75M39.1 60.7h0.75M49.3 35.1h0.75M26.8 60.4h0.75M23.4 57.3h0.75M47.4 26.7h0.75M54.1 29.3h0.75M49.5 57.9h0.75M65.9 39h0.75M29.9 52.4h0.75M11 49.1h0.75M62.9 36.1h0.75M31.3 57h0.75M62 35.3h0.75M31.4 55.9h0.75M27.4 36.4h0.75M27 61.9h0.75M44.8 33.9h0.75M54.4 32.1h0.75M36.6 58.7h0.75M23.9 44.2h0.75M24.3 42.5h0.75M49.2 31.6h0.75M48.5 63.1h0.75M26.6 49.4h0.75M38.1 34.4h0.75M37.9 59.8h0.75M18.5 48.4h0.75M75.7 49.5h0.75M32.3 37.7h0.75M27.5 51h0.75M66.7 51.9h0.75M57.2 62.1h0.75M55.2 32.8h0.75M28.4 46.9h0.75M24.4 41.2h0.75M33.7 35.9h0.75M42.8 60.9h0.75M68.6 40.9h0.75M57.8 34.4h0.75M44.3 33.4h0.75M44 55.5h0.75M71.4 51.5h0.75M69.8 41.3h0.75M59.8 35.9h0.75M42.1 25.6h0.75M23.6 47.4h0.75M40.5 59h0.75M43.7 24.8h0.75M39 46.7h0.75M40.5 61.7h0.75M63.5 49.7h0.75M24.7 60.5h0.75M38.5 37h0.75M29.2 40.4h0.75M50.1 43.6h0.75M31.1 53.9h0.75M79 44.4h0.75M40.7 58.1h0.75M73.4 51.5h0.75M19.6 56.2h0.75M22.5 57.3h0.75M24.4 51.4h0.75M76.6 50.3h0.75M62.3 37.3h0.75M65 36.6h0.75M29.7 53.7h0.75M64.5 45h0.75M38.6 64.6h0.75M24.7 54.7h0.75M50.5 31.7h0.75M57.6 29h0.75M49.5 28.2h0.75M31.7 56.2h0.75M15 60.3h0.75M50.7 51.7h0.75M61.5 60.4h0.75M36.5 66.1h0.75M22.4 49.7h0.75M51.8 59.3h0.75M32 57.6h0.75M68.3 47.5h0.75M66.8 52.4h0.75M49.2 65h0.75M56.5 37.2h0.75M14.4 37.5h0.75M62.3 54.6h0.75M29.4 38.7h0.75M56.7 57.3h0.75M69.3 44.8h0.75M23.3 53.2h0.75M30.5 58.8h0.75M28.4 41.9h0.75M45.1 32.9h0.75M16.1 43.5h0.75M51.6 33.2h0.75M60.3 33.2h0.75M78.1 53.8h0.75M54.2 30.4h0.75M51.3 61.1h0.75M50.6 32.5h0.75M52 62h0.75M50.3 57.4h0.75M23.2 53.9h0.75M54.9 24.6h0.75M66.3 42.1h0.75M55.9 35.2h0.75M53.9 25.9h0.75M27.5 48.5h0.75M34 64.5h0.75M62.4 46.2h0.75M67.7 43.2h0.75M38.5 33.7h0.75M58.6 34.9h0.75M21.1 52h0.75M52 57.6h0.75M28.6 32.5h0.75M50.4 59.4h0.75M48.9 31.7h0.75M21.8 58.2h0.75M47.6 56.6h0.75M47.7 57.6h0.75M51.7 28.6h0.75M70.9 36.3h0.75M67.7 54.5h0.75M30.2 62.6h0.75M23.7 61.9h0.75M66.1 40.7h0.75M52.2 28.3h0.75M69.3 40.2h0.75M22 38.6h0.75M70.1 44.9h0.75M29.9 51.1h0.75M63 36.8h0.75M62.2 34.5h0.75M38.6 32.6h0.75M72.1 37.7h0.75M26.2 63.5h0.75M63.8 48.6h0.75M15 53.5h0.75M57.8 54.7h0.75M65 55.1h0.75M36.9 33.1h0.75M30.9 33.4h0.75M40.3 36.9h0.75M33.6 71.1h0.75M42.7 30.6h0.75M23.2 53.3h0.75M20.7 49.6h0.75M49.6 37.9h0.75M63.9 32.1h0.75M33.4 59.8h0.75M26.1 45h0.75M25.6 37.7h0.75M49 33.9h0.75M41.7 56.8h0.75M34.1 59.5h0.75M33.2 37h0.75M15.3 59.7h0.75M33.3 57.7h0.75M36.7 58.2h0.75M22.5 45.9h0.75M28.2 43.8h0.75M32.4 55h0.75M64.6 39.7h0.75M61.3 35.7h0.75M61.4 62h0.75M66.9 51.2h0.75M25.5 54.6h0.75M55.7 22.4h0.75M48.5 60.6h0.75M48.8 57.8h0.75M43 60.9h0.75M44.5 65.9h0.75M38.2 42.9h0.75M29.6 55.9h0.75M75.1 44.7h0.75M56.2 54.1h0.75M32.1 65.2h0.75M62.8 32h0.75M70.9 58.8h0.75M69 53.3h0.75M21.6 45.5h0.75M50.7 60.2h0.75M13.2 41.4h0.75M30 59.8h0.75M65.8 33.4h0.75M35 60.1h0.75M51.4 32.6h0.75M70.3 51.4h0.75M17.9 54.5h0.75M51.8 31.1h0.75M43.2 59.5h0.75M23.6 54.1h0.75M25.9 44.9h0.75M54.3 58.3h0.75M65.9 41.2h0.75M70.3 38.9h0.75M62.4 27.8h0.75M58 34.5h0.75M48.4 36.6h0.75M29.8 44.5h0.75M44.3 58h0.75M31.6 56.6h0.75M23.4 51.2h0.75M42.5 61.4h0.75M58.3 31h0.75M27.8 57.6h0.75M16.1 59.2h0.75M25 56.5h0.75M71 53.1h0.75M46.1 58h0.75M50.8 23.5h0.75M40.7 65h0.75M52.4 33.3h0.75M55.2 62.5h0.75M67.6 35.3h0.75M72.8 34.3h0.75M28.5 60.3h0.75M24.3 63h0.75M71.6 49.6h0.75M47 47.8h0.75M25.4 38.1h0.75M54.2 56.4h0.75M53.5 55.2h0.75M57.2 35.4h0.75M50.8 28.8h0.75M66.5 51.7h0.75M69.5 48.3h0.75M41.6 33h0.75M45.7 64.4h0.75M16.3 53.5h0.75M34.9 32.5h0.75M69.1 48.9h0.75M54 56.4h0.75M24 59h0.75M31 39.4h0.75M49.5 61.9h0.75M17.2 53.6h0.75M28.2 41h0.75M34.5 59.9h0.75M35.6 35.7h0.75M66.4 32.6h0.75M74.5 43.9h0.75M57.4 52.9h0.75M63 36.4h0.75M42.5 35.9h0.75M43.1 33.7h0.75M38.6 61.7h0.75M25.3 46.8h0.75M71.8 33.2h0.75M60.4 66.7h0.75M34.4 35.2h0.75M77.3 34.1h0.75M24.6 45.3h0.75M35.2 35.8h0.75M41 63.9h0.75M40 33.5h0.75M28.6 55.3h0.75M36 34h0.75M81.1 31.6h0.75M21.6 48h0.75M32.7 32.3h0.75M54.1 37.2h0.75M46.6 31.5h0.75M40.4 63.6h0.75M17.6 59h0.75M71.1 52.2h0.75M29.9 63.6h0.75M73.3 35.7h0.75M47.8 31.1h0.75M52 35.1h0.75M35.5 34.1h0.75M71.1 51.4h0.75M26.7 52h0.75M63.5 47.2h0.75M49.1 41h0.75M55.4 60.8h0.75M45.2 40.5h0.75M62.9 31.7h0.75M29.1 64.6h0.75M76.3 32.6h0.75M29.2 60.2h0.75M66 42.2h0.75M79.1 36.7h0.75M35.7 59.8h0.75M49.1 35.7h0.75M65.4 45.6h0.75M31.1 37h0.75M47.4 61.5h0.75M62.5 34.7h0.75M59.6 31.5h0.75M36.8 45.9h0.75M20.8 57.1h0.75M64.7 33.9h0.75M44.9 59.6h0.75M26.6 55.7h0.75M84.7 39.4h0.75M29 33.4h0.75M66.8 63.1h0.75M69.9 38.4h0.75M40.9 59.2h0.75M20.4 43h0.75M29.6 44.1h0.75M78.4 44.7h0.75M53 32.1h0.75M24.6 52.3h0.75M29.7 58.3h0.75M58.2 31.4h0.75M20.5 54.3h0.75M63.4 41.4h0.75M74.1 44.1h0.75M35 35.9h0.75M33.7 29.8h0.75M54.9 34h0.75M51.1 35h0.75M64.9 48.2h0.75M22.7 55.9h0.75M69.5 31.5h0.75M75.3 47.2h0.75M49.5 28.2h0.75M68.5 45.8h0.75M30.4 57.5h0.75M68.2 46.2h0.75M40.2 66.6h0.75M32.8 31.1h0.75M40.3 57.4h0.75M71 42.5h0.75M28 52h0.75M64 33.5h0.75M30 56.2h0.75M54.5 33.6h0.75M64.1 39.6h0.75M65 43.1h0.75M31.5 37h0.75M14.6 41.5h0.75M36.1 61.5h0.75M68.6 42.9h0.75M31.2 58.5h0.75M46.4 42.6h0.75M34.2 36.1h0.75M35.4 56h0.75M63.6 55.3h0.75M23 44h0.75M75.4 43.5h0.75M27.8 44.2h0.75M25 57.6h0.75M25.1 55.7h0.75M43.6 59.2h0.75M40 30.5h0.75M63.6 49.9h0.75M46.2 36.4h0.75M59.3 32.6h0.75M55.2 56.2h0.75M69.7 33.3h0.75M20.6 50.6h0.75M65.6 54.4h0.75M43.8 31.8h0.75M61.8 52.4h0.75M67.1 50.5h0.75M29.4 59.6h0.75M16.4 45.1h0.75M19.7 50.3h0.75M33 40.2h0.75M33.4 36.2h0.75M31.8 58.7h0.75M50.7 58.5h0.75M37.9 60.3h0.75M47.6 58.6h0.75M21.6 54.2h0.75M22.3 52.9h0.75M17.5 48.4h0.75M51.2 55.6h0.75M68.8 39.4h0.75M63.1 28.4h0.75M33.5 57.7h0.75M32.3 58.7h0.75M65.5 29.2h0.75M20.1 43.2h0.75M65.3 32.7h0.75M30 56.6h0.75M29.1 59.2h0.75M71.3 35h0.75M66.7 52.2h0.75M54.7 36.4h0.75M50.9 51.7h0.75M67.8 45.5h0.75M35 38.7h0.75M23 59.8h0.75M53.3 31.9h0.75M28.4 44.3h0.75M68.6 30.6h0.75M38.6 50.6h0.75M55.8 55.6h0.75M33.6 57.6h0.75M34.2 62.6h0.75M52.2 59.4h0.75M65.6 38.6h0.75M58.1 34.1h0.75M27.3 36.8h0.75M38.3 65.2h0.75M46.9 62.5h0.75M50.7 62.3h0.75M24.2 37.9h0.75M78.8 33.7h0.75M57.6 57h0.75M18.8 38.6h0.75M42.4 44.6h0.75M49.2 49.7h0.75M53.5 64h0.75M66.4 30.5h0.75M21.7 58.1h0.75M25.3 57.5h0.75M48.1 27.6h0.75M19.4 48.6h0.75M50.8 46.4h0.75M41.5 59h0.75M29.8 56.9h0.75M64.9 49.4h0.75M48.6 32.5h0.75M60.8 31.4h0.75M65.4 37.9h0.75M46.6 29h0.75M24.4 62.7h0.75M62.8 62.5h0.75M24.5 50.9h0.75M17.1 59.1h0.75M25.3 58.9h0.75M23.6 57.4h0.75M41.6 62.2h0.75M67.3 40.9h0.75M23.1 53h0.75M14.9 48.2h0.75M55.7 33.4h0.75M46.7 28.5h0.75M17 58.9h0.75M24.8 52.5h0.75M49.7 58.4h0.75M69.4 46.5h0.75M51.7 25.1h0.75M23.3 48.6h0.75M46.6 58.4h0.75M31.5 34.9h0.75M64.2 41.7h0.75M66.1 49.4h0.75M30.7 57.4h0.75M76.8 40h0.75M51.6 56.2h0.75M31.4 37.8h0.75M66.8 33.9h0.75M66.1 39.5h0.75M51.3 35.2h0.75M50 31.2h0.75M44.4 58.1h0.75M63 52.8h0.75M43.8 37.3h0.75M42.4 40.8h0.75M57.5 57.8h0.75M21 45.8h0.75M77.2 39.3h0.75M67.6 52.2h0.75M23.3 52.9h0.75M55.4 31.3h0.75M71.2 41.4h0.75M49.9 23.5h0.75M21.7 60.4h0.75M75.4 52.2h0.75M29.9 31.7h0.75M24.1 57.5h0.75M20.3 52.5h0.75M52.3 45.3h0.75M60.3 37.7h0.75M63.4 57.7h0.75M54.3 57h0.75M65.9 54h0.75M46.3 29.5h0.75M50.1 61.9h0.75M39.3 31.6h0.75M51 29h0.75M48.5 56.6h0.75M29.3 43.2h0.75M27.8 35.7h0.75M21.4 44.3h0.75M28.9 51h0.75M68.7 49.9h0.75M24.4 55.6h0.75M30.4 34.2h0.75M57.5 60h0.75M70.5 41.3h0.75M73.8 44.8h0.75M61 59.3h0.75M15.6 47.4h0.75M34.7 64.9h0.75M64.9 38.6h0.75M26.3 52.8h0.75M37.6 35.4h0.75M52.4 48.6h0.75M59 61.3h0.75M44.9 29.3h0.75M71.8 37.4h0.75M30.1 35.2h0.75M52.5 58.4h0.75M12.4 49.6h0.75M56.8 55.4h0.75M33.6 59.1h0.75M45.4 24.9h0.75M70.6 51.9h0.75M65.3 43.4h0.75M35.2 66h0.75M55.8 29.3h0.75M69.2 34.8h0.75M75.2 36.2h0.75M40.6 33.7h0.75M26.9 38.9h0.75M30.6 56.9h0.75M58.4 35h0.75M41.8 59.9h0.75M54.3 62.2h0.75M65.4 37.5h0.75M28.1 53.8h0.75M39.8 44.3h0.75M47.5 58.9h0.75M54.2 29.5h0.75M24.2 51.3h0.75M29.5 57.9h0.75M28.3 64.1h0.75M26.3 47.6h0.75M25.2 59.4h0.75M21.7 54.1h0.75M44.3 59.3h0.75M31.6 56.7h0.75M31.2 61.7h0.75M16 49.5h0.75M58.2 55.2h0.75M43.5 31.3h0.75M43.8 28.6h0.75M71.6 49.6h0.75M23 45.4h0.75M43.9 27.2h0.75M45.4 33.3h0.75M24.9 32.4h0.75M28.4 53.1h0.75M26.3 38.8h0.75M57.4 26.3h0.75M14.8 58.7h0.75M60.3 31.4h0.75M30.4 34.7h0.75M80.9 48.9h0.75M56.7 56.1h0.75M61.5 50.5h0.75M17.4 55.4h0.75M67.5 49.7h0.75M77.9 41.5h0.75M51.9 61.5h0.75M38 57.6h0.75M73.3 26.9h0.75M35 68.7h0.75M30.1 51.3h0.75M39.2 35.5h0.75M56.8 46h0.75M29.4 62.5h0.75M35.1 59.2h0.75M24 59.9h0.75M25.9 54.1h0.75M21.9 46.2h0.75M30 32.6h0.75M75.3 39h0.75M24.1 55.2h0.75M45.7 62.6h0.75M35.2 26h0.75M39.3 39.4h0.75M24.8 38.3h0.75M60.4 35.1h0.75M33.1 62.5h0.75M31.4 59.8h0.75M56.2 57.5h0.75M47.1 32.8h0.75M31.2 65.5h0.75M26.8 44.9h0.75M33.2 52.1h0.75M23.3 48.6h0.75M65.5 40.8h0.75M31.7 55.3h0.75M26.8 58.1h0.75M20.4 37.9h0.75M30.6 61.9h0.75M58.7 59.2h0.75M32.1 63.3h0.75M24.4 59.9h0.75M74.9 48.4h0.75M70.5 37.9h0.75M14 49.3h0.75M43.6 32.4h0.75M61.9 52.5h0.75M51.4 32.4h0.75M52.1 27.4h0.75M54 36.6h0.75M64.5 53.6h0.75M35.5 57.4h0.75M35.4 62.7h0.75M16.3 57.7h0.75M24.6 55.7h0.75M66.5 50.5h0.75M33.9 57.9h0.75M63.2 41.5h0.75M80.4 46.9h0.75M24 47.4h0.75M19.1 55.6h0.75M42.6 56.2h0.75M31.2 62.6h0.75M74.8 52.9h0.75M30.9 62.8h0.75M55.7 60.3h0.75M47.3 60.5h0.75M24.9 50.7h0.75M25 47.4h0.75M31.7 63.8h0.75M66.4 50.2h0.75M53.6 62.9h0.75M49.4 32.9h0.75M28.2 32.3h0.75M22.5 50.7h0.75M61.3 57.1h0.75M23.7 50.8h0.75M71 35.3h0.75M18.2 43.9h0.75M25.8 59.3h0.75M68.2 41.1h0.75M67.5 41.4h0.75M56.4 30.8h0.75M63.6 46h0.75M48.7 65h0.75M26.4 37.2h0.75M71.6 31.7h0.75M60.3 56h0.75M66.7 64.6h0.75M56.4 58.3h0.75M50.8 61.4h0.75M17.2 41.7h0.75M56.2 59.2h0.75M68.9 51h0.75M55.2 32.2h0.75M21.8 36h0.75M70 45.7h0.75M24 44.3h0.75M32.3 58.4h0.75M59.3 32.6h0.75M13.8 42.7h0.75M37.9 35.5h0.75M29.4 64.6h0.75M42.7 61.5h0.75M40.2 55.8h0.75M50.5 66.9h0.75M39.8 61.9h0.75M59.3 38.1h0.75M74 33.9h0.75M33.9 59.6h0.75M70.3 43.7h0.75M21.6 41.9h0.75M69.9 54.8h0.75M59 60.5h0.75M61.2 31.4h0.75M37.1 60.6h0.75M67.8 46.9h0.75M30.5 59.9h0.75M28.3 58.6h0.75M32.5 31.9h0.75M42.6 68.4h0.75M80.6 42.7h0.75M65.8 48h0.75M67.7 51.5h0.75M41.4 65.8h0.75M68.2 32.6h0.75M53 33.7h0.75M74 46h0.75M48.2 43.6h0.75M43.3 30h0.75M27.2 41.8h0.75M22.3 60.3h0.75M54.3 31.5h0.75M74.6 46.7h0.75M22.8 48.3h0.75M64.4 52.3h0.75M77.9 35h0.75M31.1 32.4h0.75M34.3 53h0.75M69.3 44.5h0.75M19.1 57.8h0.75M35.9 39.6h0.75M53.6 29.8h0.75M56.2 36.6h0.75M24.7 51h0.75M30.8 65.5h0.75M18.9 46.4h0.75M17.3 43.9h0.75M27.6 58.6h0.75M26.6 60.9h0.75M22 41.3h0.75M56.1 45.8h0.75M21.1 60.9h0.75M73.2 39.7h0.75M80.5 42.6h0.75M41.9 32.5h0.75M46.5 32.6h0.75M32.1 61.3h0.75M34.3 58h0.75M26.6 62.7h0.75M61.6 53.4h0.75M42.1 48.8h0.75M19.6 43h0.75M18.9 53.1h0.75M63.7 38.9h0.75M70.2 47.2h0.75M29.9 60.5h0.75M41.3 59.8h0.75M69.3 45.1h0.75M34.2 61h0.75M40.8 62.1h0.75M47.2 34.6h0.75M80.7 32.1h0.75M34.7 57.1h0.75M24.8 59.7h0.75M26.3 61.9h0.75M31.1 65.6h0.75M50.2 59.7h0.75M62.9 41.8h0.75M25.5 62.8h0.75M62.3 50.5h0.75M23.8 48.1h0.75M39.9 54.7h0.75M43.4 25.8h0.75M43.5 60.3h0.75M10.2 63.5h0.75M40.8 29.7h0.75M40.7 33.6h0.75M34.4 54.5h0.75M69.5 29.5h0.75M67.7 40.7h0.75M45.5 61.1h0.75M69 39.3h0.75M78.4 45.2h0.75M21.4 56.7h0.75M50 56.5h0.75M19.9 57.3h0.75M32.5 58.5h0.75M33.9 61.9h0.75M70.6 48.7h0.75M59.3 30.5h0.75M66.8 51.3h0.75M31.1 62.2h0.75M34.2 59.4h0.75M58.2 59.7h0.75M60.9 34.2h0.75M38.8 35.3h0.75M67.9 48.7h0.75M36 58.2h0.75M28.5 46.9h0.75M30.6 38.5h0.75M57.1 57.6h0.75M62.9 49.3h0.75M74.4 39.9h0.75M49.8 36h0.75M9.2 43.7h0.75M36.2 35h0.75M32.4 57.9h0.75M31.8 61.1h0.75M46.3 33.6h0.75M26.7 48.3h0.75M15 48.5h0.75M24 52.7h0.75M32.1 40.6h0.75M45.5 70.2h0.75M44.2 30h0.75M51.9 33.4h0.75M18.3 52.3h0.75M70.7 43.3h0.75M55.4 34.1h0.75M35.9 63.8h0.75M61.1 36.9h0.75M59.1 34.6h0.75M53.2 57h0.75M47.2 56.9h0.75M37.9 34.8h0.75M47.5 31.7h0.75M54.4 34.8h0.75M63.7 44h0.75M70.7 49.9h0.75M31.7 55.7h0.75M62.6 53.5h0.75M40.4 63.1h0.75M36.3 64.4h0.75M67.6 30.6h0.75M23.9 51h0.75M37.6 61.4h0.75M67.6 37.3h0.75M58.4 56.2h0.75M70.7 52.3h0.75M45 34.3h0.75M69 37.8h0.75M33.1 60.6h0.75M59.6 32.4h0.75M65 37.7h0.75M49.8 30.9h0.75M19.9 47.4h0.75M30.8 62.7h0.75M34 56.9h0.75M31.2 52.9h0.75M64.3 51.6h0.75M24.5 38.8h0.75M34.5 53h0.75M31.2 54.2h0.75M27.7 47.8h0.75M36.1 36.3h0.75M10.2 57h0.75M37.6 31.9h0.75M55.9 31.9h0.75M38.8 55.8h0.75M55.2 45.9h0.75M26.5 38.3h0.75M24.2 47.9h0.75M75.7 39.1h0.75M55.1 48h0.75M56.8 58.1h0.75M56.6 34.7h0.75M65.6 39.4h0.75M23.3 45.2h0.75M56.9 30.8h0.75M43.6 59.4h0.75M37.8 49.6h0.75M29.3 64.3h0.75M46 35.9h0.75M40.8 58.5h0.75M21.9 54.5h0.75M25.2 53.5h0.75M40.4 39.8h0.75M27.5 36h0.75M66.3 51.1h0.75M21.1 43.9h0.75M27.8 41.3h0.75M24.1 41.4h0.75M48.3 57.4h0.75M31.4 55.1h0.75M64.3 58.9h0.75M70.5 48.3h0.75M69.1 35.4h0.75M18.8 51.3h0.75M26.9 37h0.75M44.3 30.4h0.75M65 34.2h0.75M76.7 41.2h0.75M29.3 54.2h0.75M23 48.5h0.75M66.5 42.5h0.75M69.6 49.9h0.75M71.4 34.5h0.75M51.8 64.9h0.75M57.4 33.6h0.75M66.6 44h0.75M25 43.4h0.75M43.6 64.2h0.75M30.9 60.5h0.75M38.6 60.4h0.75M29.9 31.7h0.75M62.4 34.4h0.75M41 59.7h0.75M40.7 56.9h0.75M49.6 61.5h0.75M24.7 45.3h0.75M48.2 57h0.75M56.3 56h0.75M25.1 47.7h0.75M23 53.7h0.75M69.4 44.3h0.75M51 61.7h0.75M22.8 40.9h0.75M30.6 46.6h0.75M40.6 59.8h0.75M44.6 59.6h0.75M61 50.6h0.75M70.4 38.6h0.75M37.9 65h0.75M21.6 56.1h0.75M47.8 29.3h0.75M48.4 29h0.75M63.8 56.6h0.75M27.8 45.1h0.75M66.9 41.7h0.75M43.1 58.3h0.75M31.3 56.3h0.75M26.6 63.4h0.75M19.2 59.3h0.75M25.8 59h0.75M62.2 54.6h0.75M37.5 62.1h0.75M38.9 60.3h0.75M59.1 58.1h0.75M48.8 59.8h0.75M75.7 33.4h0.75M72.6 45h0.75M46.3 66.2h0.75M56.2 62.3h0.75M76.4 47h0.75M63.4 41.4h0.75M60.8 32h0.75M46.6 58.1h0.75M64.4 51.5h0.75M24.2 49.2h0.75M24 40.9h0.75M24.8 32.5h0.75M49.6 62.1h0.75M78.9 49.3h0.75M38.2 49.8h0.75M38.6 61.8h0.75M49.9 57.3h0.75M57.7 53.9h0.75M42.8 60.3h0.75M69.7 39.3h0.75M22.1 60.2h0.75M32.7 61.9h0.75M37.9 34.4h0.75M60.6 37.5h0.75M33.1 36.4h0.75M66.8 51.2h0.75M56.6 57h0.75M31.5 37h0.75M67.3 59.5h0.75M23.9 63.2h0.75M23.6 61.3h0.75M26.8 60.3h0.75M67.9 45.5h0.75M14.7 58.6h0.75M37.4 68.3h0.75M68.1 37.2h0.75M25.4 55.7h0.75M29.3 44.4h0.75M18 57.5h0.75M26.8 58.9h0.75M65 35.4h0.75M67.6 53.9h0.75M45.9 67.8h0.75M53.5 33.4h0.75M42.9 51.4h0.75M45.8 31.9h0.75M55.6 32.3h0.75M76.2 33.1h0.75M62.2 26.9h0.75M25.9 63.2h0.75M31.1 59.4h0.75M50.6 22.6h0.75M67.1 43.9h0.75M29.5 41.1h0.75M25.1 49.1h0.75M41.6 47.6h0.75M40.7 66.3h0.75M44 65.2h0.75M54.6 36.2h0.75M58.5 30.7h0.75M32 62.5h0.75M41.1 57.2h0.75M75.3 36.8h0.75M23.4 43.5h0.75M20.8 54.7h0.75M26.1 42.6h0.75M58.2 33.4h0.75M35.2 57.3h0.75M45.1 52.4h0.75M72.5 47.7h0.75M23.9 50.5h0.75M70.2 32h0.75M38.1 32.7h0.75M38.8 30.8h0.75M72.7 45.5h0.75M66.9 45h0.75M74.6 34.6h0.75M22.9 52.5h0.75M29.2 58.2h0.75M67.5 37.8h0.75M27.9 41.2h0.75M52.5 31.3h0.75M56.2 61.8h0.75M59.6 32.6h0.75M34.2 56.8h0.75M64.7 29.8h0.75M62.6 52.8h0.75M63.7 51.1h0.75M22.7 61.1h0.75M47.1 62.8h0.75M70.6 43.3h0.75M33.9 58.7h0.75M50 58.9h0.75M55.4 56.2h0.75M62.9 48.8h0.75M29.3 57h0.75M36 40.1h0.75M25.2 57.6h0.75M68.5 44.2h0.75M33 69.9h0.75M23.8 45.1h0.75M57.8 47.2h0.75M24.6 58.8h0.75M24.8 55h0.75M38.7 34.3h0.75M59.9 30.9h0.75M23.9 59.1h0.75M8.8 50.5h0.75M9 55.6h0.75M65.5 45.7h0.75M29.2 60.7h0.75M47.7 30.2h0.75M74.4 52.3h0.75M56.9 31.2h0.75M31 59.3h0.75M67.7 34.6h0.75M34 34.9h0.75M20.3 64.4h0.75M22.5 55.5h0.75M26.6 47.7h0.75M39.7 35.4h0.75M31 56.7h0.75M44.3 32.2h0.75M66 53.1h0.75M29.8 58.5h0.75M64.6 46.3h0.75M52.6 61.8h0.75M42 31.4h0.75M81.9 41h0.75M23.2 55.5h0.75M43.6 34.8h0.75M52.9 30.3h0.75M65 49h0.75M43.6 63.6h0.75M35.3 63.1h0.75M20.6 41.4h0.75M76 48.7h0.75M62.9 37.2h0.75M32.8 58.9h0.75M52.6 30.1h0.75M27.8 50.5h0.75M33.6 39.2h0.75M57.7 28.6h0.75M54.4 36h0.75M22.3 54.1h0.75M66.1 52.8h0.75M21.2 36.7h0.75M71.3 41.3h0.75M76.2 38.6h0.75M42.9 57.8h0.75M65 39.4h0.75M29.5 43.6h0.75M22.5 51.6h0.75M50.3 60.2h0.75M59.8 59.3h0.75M36 38.6h0.75M33.3 62.7h0.75M39.2 60.1h0.75M53 30.7h0.75M25.1 52.1h0.75M23.4 67.7h0.75M43.1 35.5h0.75M63.3 53.6h0.75M52.1 33h0.75M48.9 28h0.75M15.7 37.7h0.75M26.5 62.5h0.75M47 32.5h0.75M21.2 43.9h0.75M16.6 42.3h0.75M54.6 58.2h0.75M19.4 46.1h0.75M66.5 39.7h0.75M64.6 34.9h0.75M41.4 59.1h0.75M42.1 56.4h0.75M30 52.5h0.75M58.3 27.5h0.75M73.5 40.9h0.75M24.5 58.5h0.75M54 34.1h0.75M44.7 57.5h0.75M49.9 33.3h0.75M28.5 53.7h0.75M31.5 56.4h0.75M36.6 43.9h0.75M64.7 43.1h0.75M47.5 32.8h0.75M26.7 61.8h0.75M68.1 56.8h0.75M49.7 30.9h0.75M49.2 56.7h0.75M84.7 40h0.75M86.8 44.4h0.75M43.3 26.3h0.75M22.4 42h0.75M38.4 62.5h0.75M63.1 33.8h0.75M52.2 35.5h0.75M27.6 48.6h0.75M34 34.5h0.75M46.2 33h0.75M41.9 34.3h0.75M22.2 45.9h0.75M55.2 31.4h0.75M47.7 38.5h0.75M58 32.1h0.75M28.3 62.7h0.75M66.8 44.9h0.75M10.4 50.4h0.75M32.1 33.9h0.75M32.4 64.8h0.75M52.6 33.2h0.75M33.2 57.8h0.75M15 58.3h0.75M32.8 34.1h0.75M25.9 41.1h0.75M16.2 49.6h0.75M34.7 58.9h0.75M21 55.1h0.75M68.5 41h0.75M19.5 61.9h0.75M33 41h0.75M52.9 61.1h0.75M69.2 46.4h0.75M57.2 34.5h0.75M62.7 62.7h0.75M35.6 36.5h0.75M28.2 54.5h0.75M37.4 34h0.75M34.6 33.9h0.75M27.4 50.2h0.75M32.4 63.8h0.75M40.3 56.7h0.75M65.5 41.5h0.75M35.3 49.3h0.75M64.5 43.8h0.75M30.3 52.7h0.75M28.3 65.1h0.75M26 62.5h0.75M13.2 62.5h0.75M29.6 28.4h0.75M34.6 37.6h0.75M48.9 33.8h0.75M68.7 43.6h0.75M40.9 34.4h0.75M59.9 32.2h0.75M67.6 41.6h0.75M57.8 33.7h0.75M27.4 34.7h0.75M23.3 55.2h0.75M28.8 60.1h0.75M47.9 64.3h0.75M36.9 47.1h0.75M34.6 29.9h0.75M31.2 56h0.75M43.9 49.7h0.75M64 48.1h0.75M60.3 60.9h0.75M38.1 31.2h0.75M67.7 58.5h0.75M54.1 34.2h0.75M52.3 61.5h0.75M58.5 35.9h0.75M64.6 45.7h0.75M72.3 40.8h0.75M69.5 52.9h0.75M51.5 33.8h0.75M39.6 57.6h0.75M33.1 56.9h0.75M60.1 54h0.75M63.3 42.4h0.75M54 34.3h0.75M31.2 54.1h0.75M74.5 44.6h0.75M21.4 61h0.75M74.9 55.6h0.75M74.1 41.4h0.75M69.2 38.6h0.75M55.4 32.2h0.75M28.9 51.4h0.75M50.5 29.7h0.75M28.5 50.5h0.75M60.2 36.2h0.75M62.5 53.6h0.75M67 45.9h0.75M54 29.4h0.75M27.3 42.9h0.75M22.4 64.1h0.75M69.6 37.4h0.75M37.3 36.2h0.75M47.8 63.5h0.75M64.6 50.9h0.75M64.8 34.2h0.75M29.2 56.9h0.75M62.4 37.2h0.75M32.1 56.9h0.75M30.2 40.9h0.75M47.1 66.2h0.75M78.6 40.4h0.75M20 55.3h0.75M55.2 49.8h0.75M16.5 42.9h0.75M62 31.1h0.75M74.2 51.8h0.75M22.7 60.7h0.75M58.7 34.1h0.75M51.9 34.4h0.75M68.5 30.6h0.75M51.6 65.6h0.75M27.6 58.5h0.75M22.9 46.2h0.75M45.8 48.2h0.75M48.3 29.9h0.75M29 56.4h0.75M63.2 62.1h0.75M23 36.5h0.75M37.9 61.7h0.75M78.9 35.7h0.75M32.2 59.9h0.75M63.8 61.6h0.75M36.9 31.2h0.75M21 50.6h0.75M61.7 32h0.75M33 60.5h0.75M30.3 63.9h0.75M33.8 57.5h0.75M37 61.1h0.75M22.5 38.8h0.75M18.9 53.5h0.75M20.5 49.6h0.75M44.1 57.6h0.75M58.9 36h0.75M53.7 58.6h0.75M66.3 43.2h0.75M37.4 57h0.75M82.9 43.5h0.75M32.4 37.9h0.75M26.3 52.5h0.75M58 59.8h0.75M77.5 52.2h0.75M36.6 61.6h0.75M36 34.2h0.75M67.2 47.2h0.75M59.9 59h0.75M61.6 47.6h0.75M28 55.1h0.75M51.2 33.6h0.75M19.1 51.4h0.75M25.6 44.3h0.75M48.7 36.2h0.75M63.1 54h0.75M18.6 59.4h0.75M56 28.1h0.75M62.7 61.4h0.75M32.3 29.6h0.75M40.7 57.2h0.75M73 49.1h0.75M31 57.3h0.75M57.8 36.5h0.75M31.7 65.1h0.75M24.8 52.3h0.75M44.8 30.6h0.75M39.9 58h0.75M32.6 63.2h0.75M42.2 31h0.75M16.9 53.3h0.75M42.6 27.7h0.75M37 58.9h0.75M16.8 46h0.75M55 31h0.75M29.3 31.2h0.75M27.9 52.7h0.75M68.4 54.4h0.75M24.1 53.6h0.75M29.5 63.5h0.75M22.8 56.8h0.75M69.9 49.2h0.75M27.6 43.3h0.75M35.6 62.3h0.75M49.8 57.3h0.75M34.7 40.6h0.75M47.7 59h0.75M52.6 38.6h0.75M25.3 62.3h0.75M27.1 49.8h0.75M51.9 57.7h0.75M48.3 31.4h0.75M28.4 58.5h0.75M36.6 29.2h0.75M63.9 39.4h0.75M28.1 49.7h0.75M36.8 57.6h0.75M70.4 30h0.75M33.2 40.1h0.75M43.1 67.4h0.75M76.2 44.5h0.75M65.5 55.2h0.75M67.6 49.2h0.75M57.6 37.3h0.75M26.6 47.9h0.75M38.6 60.2h0.75M16 42.8h0.75M68 41.4h0.75M21.4 56h0.75M64.2 51.8h0.75M32.3 35.6h0.75M30 61.2h0.75M29.7 56h0.75M56.9 35.5h0.75M81.5 30.7h0.75M45.1 33.1h0.75M26.1 53.6h0.75M24.2 47.6h0.75M28.4 35.3h0.75M17.9 56.4h0.75M52.4 39.6h0.75M50.1 31.6h0.75M69.5 42.9h0.75M53.8 59.5h0.75M71.1 47.8h0.75M54.8 58.2h0.75M66.8 43.2h0.75M20.8 63.1h0.75M27.9 50.6h0.75M41.4 63.1h0.75M46.7 60.4h0.75M67.2 53.9h0.75M19.6 67.3h0.75M22.9 58.7h0.75M38.1 36.4h0.75M25.7 67.5h0.75M74.3 35.8h0.75M48.1 58.5h0.75M25.2 46.7h0.75M28.7 35.2h0.75M33.5 61h0.75M32.7 59.2h0.75M61.4 28.8h0.75M68.1 36.7h0.75M35.7 29.1h0.75M43.8 62.2h0.75M37.7 61.2h0.75M14.7 51.6h0.75M49.8 47.4h0.75M34.9 34.5h0.75M39 37.2h0.75M23.5 61.4h0.75M58.4 65.8h0.75M18.7 50.7h0.75M55.9 56.9h0.75M65.7 57.5h0.75M70.6 43.7h0.75M65.7 41.3h0.75M52.5 57.3h0.75M66.5 39.9h0.75M19.5 51.7h0.75M39.1 56.9h0.75M23.8 62.9h0.75M27.2 59.2h0.75M69.2 48.5h0.75M37.9 60.1h0.75M68.1 44.2h0.75M32.7 54.9h0.75M32.2 39h0.75M53.3 33.2h0.75M18.3 52.8h0.75M65.3 38.2h0.75M36 63.9h0.75M31.7 38.4h0.75M52.4 30.8h0.75M21.7 57.4h0.75M24.9 56.7h0.75M57.5 58.5h0.75M20.8 60.9h0.75M19.1 56.9h0.75M56.6 31.5h0.75M66.1 54.3h0.75M60.6 29.8h0.75M66.6 42.3h0.75M47 60.4h0.75M70 55.7h0.75M60.7 43.9h0.75M69.4 35.7h0.75M37.1 58h0.75M66.9 56.9h0.75M27.7 34.4h0.75M76.1 36.6h0.75M41.3 58.5h0.75M27.2 67.5h0.75M60.7 37.5h0.75M66.3 51.7h0.75M44.8 63.1h0.75M49.6 24.8h0.75M65.2 33.3h0.75M13.8 48.6h0.75M40.6 34.1h0.75M17.7 49.9h0.75M58.9 56.9h0.75M31.3 34.6h0.75M63.6 40.7h0.75M13.6 44.1h0.75M46.2 61.5h0.75M18.2 62.8h0.75M37.6 32.2h0.75M32.2 55.8h0.75M61.8 59.5h0.75M43.2 36.6h0.75M24.4 49.4h0.75M49.6 54.3h0.75M25.9 56.8h0.75M23.5 42.5h0.75M54.8 32.6h0.75M17.6 50.5h0.75M21.2 60.7h0.75M74.4 42.1h0.75M54.4 33.9h0.75M46.5 69.2h0.75M38.3 61.6h0.75M69.1 37h0.75M58 24h0.75M33.3 61.8h0.75M28.1 42h0.75M26.6 58.7h0.75M57.1 56.5h0.75M38.4 35.6h0.75M54.3 54.8h0.75M38.3 35.6h0.75M40 58.6h0.75M68.6 36.2h0.75M36.6 58h0.75M59 51.1h0.75M23.1 64.9h0.75M41 61.1h0.75M18 52h0.75M74.3 32h0.75M17.8 54.9h0.75M21.2 46h0.75M34.1 57.6h0.75M28.5 52.1h0.75M17.8 38.7h0.75M27.3 59.7h0.75M27.3 39.6h0.75M29.5 45.3h0.75M58.1 30.9h0.75M72.7 46.1h0.75M23.3 51.3h0.75M32.8 67.8h0.75M44.2 57.1h0.75M31.2 58.9h0.75M68.1 40.5h0.75M51.6 34.2h0.75M23.1 39.4h0.75M23.4 45.6h0.75M26.1 49.7h0.75M80.6 48.9h0.75M24.1 52.8h0.75M19.7 55.2h0.75M26.6 46.1h0.75M26.9 42.7h0.75M31.8 59.7h0.75M45.7 34.9h0.75M34.6 62.5h0.75M29.3 65.3h0.75M33.6 65.3h0.75M32.2 57.7h0.75M60.1 32.5h0.75M47.9 62.1h0.75M73.5 38.3h0.75M41.3 30.6h0.75M16.5 57.2h0.75M57.5 32.9h0.75M71.9 50.5h0.75M54.7 58.4h0.75M48.4 30.3h0.75M73.2 49.9h0.75M65.5 45.4h0.75M68.3 50.4h0.75M77 38.3h0.75M64.1 66.6h0.75M20.5 38.8h0.75M26.4 44.7h0.75M66.7 33h0.75M32.9 36.5h0.75M57.7 41.1h0.75M39.5 33.7h0.75M26.8 45.2h0.75M33.7 57.3h0.75M26.2 41.6h0.75M58 39.4h0.75M18.3 50.5h0.75M66.4 44.4h0.75M66.5 30.7h0.75M25.6 60.3h0.75M69.4 43.8h0.75M66.4 50.4h0.75M68.5 58.4h0.75M53.5 58.3h0.75M69.4 56.2h0.75M71 40.1h0.75M27 63.1h0.75M24.3 44.7h0.75M25.4 60h0.75M16.4 48.4h0.75M63.3 50.2h0.75M18 53.3h0.75M59.1 51.1h0.75M24.5 55.2h0.75M45.5 46.9h0.75M58 33.9h0.75M68.3 47.1h0.75M32.3 37.1h0.75M62.4 26.5h0.75M70.5 34.6h0.75M46.4 62.5h0.75M16.4 50.5h0.75M44.4 58.7h0.75M45.7 58.7h0.75M67.6 46.1h0.75M59.8 31.4h0.75M75.1 30h0.75M45.8 59.6h0.75M54.9 34.6h0.75M33.8 32.4h0.75M22.8 52h0.75M35 61.1h0.75M68.2 35.8h0.75M31.9 38.7h0.75M66.1 48.3h0.75M22.3 44.4h0.75M25.4 38.2h0.75M64 39.5h0.75M64.7 61.6h0.75M27.7 61.6h0.75M30.4 38.4h0.75M18.8 51.4h0.75M58.4 28.6h0.75M63.7 55.3h0.75M70.1 43h0.75M48.6 59.9h0.75M44.2 58.2h0.75M27.8 65.8h0.75M65.5 48.2h0.75M22.7 43.8h0.75M56.7 62.1h0.75M24.9 57.1h0.75M37.6 56.9h0.75M43.6 64.1h0.75M31.3 65.7h0.75M60.7 49.4h0.75M33.3 37.5h0.75M54.3 62.2h0.75M50.5 35.5h0.75M75.5 51.2h0.75M63.8 32.5h0.75M29.9 33.3h0.75M75.7 42.5h0.75M55.9 30.6h0.75M66.2 55.1h0.75M74.3 52.9h0.75M58.8 30.2h0.75M28.6 54.6h0.75M61.7 50.9h0.75M33 57h0.75M73.1 34.9h0.75M35.5 47.8h0.75M72.2 38.4h0.75M25.2 43.3h0.75M31.1 60.6h0.75M54.3 31.1h0.75M66.7 37.5h0.75M18.5 56h0.75M65.9 57.7h0.75M54.2 32.4h0.75M21.8 34.2h0.75M48 33.3h0.75M60.9 26.7h0.75M65.8 30.6h0.75M45.9 27.9h0.75M51.3 27.9h0.75M30 58.2h0.75M59.1 30h0.75M63.1 43h0.75M44.5 34.6h0.75M41.4 62.9h0.75M60.8 25.1h0.75M25.7 34.5h0.75M76.3 32.9h0.75M29.1 63.3h0.75M67.3 53.7h0.75M64.9 31.6h0.75M50.9 57.9h0.75M24.3 40.9h0.75M64.3 54.1h0.75M35.6 30h0.75M40.4 29.6h0.75M51.4 48.2h0.75M28.7 47.4h0.75M69.1 45.3h0.75M46.7 34.6h0.75M58.7 32.7h0.75M34.4 62.1h0.75M35 33.9h0.75M36.1 62.1h0.75M57.6 56.1h0.75M52.7 59.6h0.75M62.4 33.5h0.75M27 56.2h0.75M58.2 28.7h0.75M18.4 62.2h0.75M46.8 33h0.75M60.6 33.6h0.75M42.3 36.2h0.75M28.4 58.7h0.75M65.8 39h0.75M74.1 46.7h0.75M65.5 33.6h0.75M35.3 60.7h0.75M49.5 33.5h0.75M53.7 32.1h0.75M40.2 34.4h0.75M28.2 58.3h0.75M48.8 31.6h0.75M33.2 64.6h0.75M8.4 51.9h0.75M57.9 31.8h0.75M10.9 60h0.75M36.1 56h0.75M60.4 38.5h0.75M71.7 38.2h0.75M46.7 34h0.75M65.3 53.5h0.75M29.4 54.9h0.75M21.9 45.7h0.75M21.6 50.7h0.75M64.6 53.7h0.75M35.2 64.4h0.75M23.4 51.9h0.75M52.9 29.6h0.75M45.2 35.2h0.75M52 61.5h0.75M23.2 36.6h0.75M25 37.9h0.75M69.1 48.7h0.75M21.7 57.3h0.75M55.2 57.7h0.75M19.9 48h0.75M31.1 37h0.75M48.8 60.5h0.75M38.5 34.4h0.75M79.1 38.8h0.75M53.2 40h0.75M55.8 57.4h0.75M27 40.8h0.75M39.5 59h0.75M44.6 33h0.75M35.8 33.9h0.75M31.3 30.9h0.75M69.1 27.5h0.75M54 27.3h0.75M67.9 28.7h0.75M24.8 52.1h0.75M49.1 31h0.75M25.4 52.9h0.75M57.9 59.7h0.75M41 59.1h0.75M25.8 47.5h0.75M78.5 49.8h0.75M54.2 33.3h0.75M36.6 58.2h0.75M71.7 50.8h0.75M27.9 56.1h0.75M37.4 60.5h0.75M21.3 42.3h0.75M66 35.1h0.75M55.8 63.2h0.75M61.5 32.5h0.75M64.6 55.5h0.75M57.7 57.2h0.75M67.9 42.8h0.75M54.5 56.7h0.75M15.1 60.2h0.75M50.9 60.9h0.75M19.9 44.2h0.75M35.3 37.4h0.75M34.3 55.5h0.75M52.6 30.5h0.75M28.6 41.4h0.75M21.6 40.3h0.75M67.7 38.6h0.75M51 61.9h0.75M59.3 37.6h0.75M57.9 26h0.75M50.3 60.1h0.75M23.2 36.9h0.75M47.1 29.9h0.75M75.4 40.2h0.75M65.4 39.8h0.75M67.9 51.3h0.75M25.4 52.8h0.75M61.5 34.8h0.75M54.4 31.6h0.75M69 46.8h0.75M67.8 43.9h0.75M55.7 30h0.75M28 56.9h0.75M28.7 50.7h0.75M44.6 61.8h0.75M29.7 54.7h0.75M69 50.2h0.75M61.4 49.1h0.75M29.7 40.6h0.75M36.1 61.4h0.75M77.6 35.8h0.75M17 53.3h0.75M30 65.1h0.75M38.6 36.1h0.75M59.9 64.7h0.75M24.3 59.2h0.75M24.8 53.4h0.75M81.1 36.8h0.75M63.7 31.1h0.75M10 44.4h0.75M73.9 42.9h0.75M62.3 51.9h0.75M65.1 40.5h0.75M42 29h0.75M51.4 40.8h0.75M16.5 49h0.75M47.3 37.4h0.75M62.9 24.7h0.75M56.8 26.5h0.75M68.9 36.3h0.75M52.5 55.8h0.75M36.3 55.6h0.75M75.2 42.7h0.75M62.6 40.3h0.75M23.3 59.2h0.75M27.7 42.3h0.75M23.7 56.8h0.75M38.5 39.9h0.75M61.7 47.1h0.75M52.4 32.7h0.75M34 57.4h0.75M68 33.4h0.75M38.5 58.8h0.75M21.9 45.1h0.75M20.1 45.4h0.75M64.9 50.8h0.75M45.2 52.1h0.75M67.9 47.4h0.75M23 62.8h0.75M59.7 28.1h0.75M55 31.6h0.75M61.5 37.4h0.75M43.3 35.2h0.75M24.1 50.4h0.75M28.1 59.4h0.75M52.4 59.8h0.75M19.5 39.4h0.75M31.1 61.5h0.75M29.4 58.3h0.75M58.8 27.3h0.75M27.2 57h0.75M57.5 58.8h0.75M26.3 51.4h0.75M24.6 49.7h0.75M43.5 62h0.75M54.9 28.1h0.75M34.6 33.1h0.75M51.3 57.8h0.75M29.8 31.3h0.75M82.1 55.7h0.75M79.6 49.7h0.75M37.4 33.6h0.75M38.3 39h0.75M38.4 29.4h0.75M26.3 54.5h0.75M36.9 57.7h0.75M19.3 53.1h0.75M55.8 34.3h0.75M16.8 65.1h0.75M40.6 56.2h0.75M55.8 56.9h0.75M24.5 40.3h0.75M66 39.8h0.75M38.9 62.9h0.75M46 46.4h0.75M60.8 33.4h0.75M33.8 64.9h0.75M27.2 58h0.75M56 60.4h0.75M42.9 42.2h0.75M59.5 63.8h0.75M32.6 33h0.75M52.6 34.9h0.75M37.9 24.5h0.75M51.1 23.3h0.75M66.9 41.1h0.75M73.3 28.7h0.75M29.9 64h0.75M39 34.3h0.75M52.7 27.7h0.75M48.5 28.6h0.75M70.3 38.4h0.75M40.9 54.1h0.75M64.6 42.3h0.75M50.5 27.9h0.75M68.9 31.5h0.75M65.3 51h0.75M73.7 52.8h0.75M25.8 55.8h0.75M41.5 34.5h0.75M51.3 58.4h0.75M24.8 32.5h0.75M57.2 56.4h0.75M19.7 49h0.75M66.4 39.1h0.75M32.6 63h0.75M39.6 37.2h0.75M41.6 37.4h0.75M62.7 36.7h0.75M60.3 26.5h0.75M54 54.5h0.75M30.4 53.2h0.75M63.8 48.2h0.75M43.9 35.9h0.75M29.1 42h0.75M26.4 62.4h0.75M41.1 61.9h0.75M64.3 37.9h0.75M36.9 60.1h0.75M39.2 64.3h0.75M51 32.3h0.75M60.6 63.2h0.75M56 56.6h0.75M69.9 36.4h0.75M58.6 55.8h0.75M18.5 43.7h0.75M74.6 34.4h0.75M75 35.5h0.75M17.3 51.9h0.75M30.2 56.3h0.75M22.6 56.8h0.75M67.6 57.8h0.75M24.1 36.9h0.75M51.6 62.5h0.75M25.9 44.4h0.75M41.4 61.1h0.75M36.8 60.8h0.75M62.9 42h0.75M56.4 56.8h0.75M44 66.4h0.75M25.5 57.2h0.75M47.9 49.3h0.75M60.1 44.9h0.75M22.1 46.3h0.75M78.2 56.1h0.75M24.4 57.2h0.75M25.8 55.1h0.75M33.5 54.2h0.75M16.4 62.6h0.75M20.6 60.7h0.75M21.6 48.2h0.75M29.5 63.4h0.75M55.9 57.2h0.75M36.5 59.5h0.75M65.2 51.7h0.75M34.2 61.5h0.75M24.7 53h0.75M69 47.1h0.75M67.6 30.3h0.75M29 43.1h0.75M25.7 59.5h0.75M46.6 30.3h0.75M68.3 50.4h0.75M20 47.6h0.75M28.5 56.1h0.75M26.3 55.3h0.75M27.1 58.4h0.75M56.5 35.4h0.75M44.4 34.7h0.75M22.5 60h0.75M16.5 55.7h0.75M44.6 59h0.75M66.9 54.8h0.75M74.2 43.7h0.75M71.5 41.3h0.75M27.9 55.5h0.75M36.1 59.5h0.75M41.1 27.7h0.75M22.7 55.2h0.75M45.5 39.9h0.75M21.2 65h0.75M38.7 59.7h0.75M69.7 55h0.75M50.5 35h0.75M24.9 64.5h0.75M51.7 33.2h0.75M31.5 33.6h0.75M48.1 30.3h0.75M28.5 61.7h0.75M74.3 46.1h0.75M30.1 57.4h0.75M57.6 29.5h0.75M54.6 33.2h0.75M54.3 55.7h0.75M25.5 38.1h0.75M67.6 44.8h0.75M26.9 43h0.75M29.6 55.4h0.75M44.3 32.8h0.75M45 61.7h0.75M49.8 58.5h0.75M18.6 49.1h0.75M35.5 31h0.75M58.5 35.7h0.75M23 70.9h0.75M29.2 59h0.75M56.9 30.9h0.75M65.4 58.6h0.75M22.6 53.2h0.75M48 61.2h0.75M30.2 42.3h0.75M18.1 55.3h0.75M50.3 33.4h0.75M64.6 34.9h0.75M30.4 61.2h0.75M58.5 53h0.75M53.7 65.4h0.75M52.1 31.5h0.75M68.4 47.2h0.75M32.5 59h0.75M47.5 60.2h0.75M41.1 66.8h0.75M47 33.9h0.75M55.5 56.9h0.75M18.4 41.9h0.75M58.8 34.8h0.75M29.4 57.9h0.75M64.9 31.3h0.75M66.9 30.2h0.75M25.4 49.1h0.75M64.4 53.2h0.75M69.8 51h0.75M37.6 37.6h0.75M18.7 47.5h0.75M40.2 63.6h0.75M31.7 40.8h0.75M62.2 62h0.75M34.1 58h0.75M51.8 56.6h0.75M51.3 45.1h0.75M47.9 30.3h0.75M44.4 57.5h0.75M65.8 55.9h0.75M23.1 58h0.75M22.9 55.2h0.75M58.3 33h0.75M79.8 48.3h0.75M61.4 60.7h0.75M36.5 56.7h0.75M21.7 59.2h0.75M29.6 59.1h0.75M50.5 30.6h0.75M20.8 47.7h0.75M43.6 34.5h0.75M69.2 44.7h0.75M35.5 62.6h0.75M43.5 33.8h0.75M43.1 37.1h0.75M20.7 59.5h0.75M69.8 40.5h0.75M62.3 31.8h0.75M41.9 60.8h0.75M56.3 53.2h0.75M49.2 30.1h0.75M22.4 61.5h0.75M29.1 38.5h0.75M49 63.8h0.75M43.5 34.2h0.75M23.1 50.7h0.75M67.1 40.6h0.75M22.8 54.2h0.75M10.2 66.2h0.75M28.4 52.3h0.75M65.9 43.1h0.75M53.2 31.9h0.75M55.8 57.9h0.75M53.8 29.3h0.75M37.1 34.4h0.75M60.4 35.1h0.75M17.8 63.6h0.75M23.1 50.1h0.75M54.3 32.9h0.75M75.6 39.3h0.75M22.5 46.5h0.75M36.5 29h0.75M52.5 32.1h0.75M52.6 56.6h0.75M68.2 40.3h0.75M67 44.1h0.75M50.3 33.5h0.75M49.7 41.3h0.75M71.8 30.8h0.75M37.8 56.8h0.75M52.3 34.9h0.75M27.2 63.9h0.75M26.4 52.8h0.75M49.1 30.7h0.75M24.5 40.9h0.75M47.2 57.8h0.75M60.4 53.4h0.75M31.3 63h0.75M70.9 37.8h0.75M27.8 51h0.75M36.9 54.7h0.75M38.7 55.9h0.75M77.5 51.5h0.75M71 50.6h0.75M37.7 34.7h0.75M39.8 44h0.75M62.7 51.9h0.75M66.1 47.5h0.75M36.5 34.8h0.75M58.1 30.5h0.75M34.7 39.1h0.75M37.2 59.7h0.75M20.4 55.4h0.75M38.1 63.7h0.75M72.2 51.9h0.75M74.5 42.3h0.75M64.1 36.9h0.75M54.3 56h0.75M29.6 61.3h0.75M31.7 56.4h0.75M29.6 57.3h0.75M16.4 56.1h0.75M64.9 37.1h0.75M70.9 34.3h0.75M21.8 35.6h0.75M45.2 65.3h0.75M25.3 62h0.75M27.7 55h0.75M51.6 35.5h0.75M48.1 48.4h0.75M21.6 55.4h0.75M37.6 59h0.75M55.4 49.5h0.75M35.4 48.1h0.75M27.6 60h0.75M21.5 49.6h0.75M19.4 43.3h0.75M29.8 31.6h0.75M68.9 41.6h0.75M25.7 48.4h0.75M26.5 46.6h0.75M31.4 56.7h0.75M29.1 34.6h0.75M47.8 34.4h0.75M50.7 60.2h0.75M24 53h0.75M39.3 57.4h0.75M31.7 40.7h0.75M36.1 31.7h0.75M45.1 60.3h0.75M64.5 45.5h0.75M44.9 64.1h0.75M33.4 58.8h0.75M53.2 63.4h0.75M50.9 58h0.75M27 53.8h0.75M29.2 42.4h0.75M23.9 57.8h0.75M26.3 53.4h0.75M26.1 57.2h0.75M61.2 31.9h0.75M76.8 46.4h0.75M53 33.9h0.75M40.1 61.1h0.75M54 36h0.75M27.1 53.9h0.75M67.8 39.5h0.75M76.4 56.6h0.75M30.6 65.4h0.75M38.5 29.9h0.75M50.4 56.9h0.75M66.7 43.2h0.75M63 34.5h0.75M31.1 58.2h0.75M16.8 41.3h0.75M24.7 55h0.75M50.7 58.7h0.75M61.1 60.6h0.75M35.6 63.1h0.75M61 53.9h0.75M19.5 38.9h0.75M45.2 33.6h0.75M35.2 55.7h0.75M24.3 43.6h0.75M49.1 33.7h0.75M53.6 30.6h0.75M67.5 36.9h0.75M26.3 57.3h0.75M54.8 33.7h0.75M28.5 46.6h0.75M47.7 34.5h0.75M23.5 45.5h0.75M38.6 36.6h0.75M59 35.2h0.75M29.9 54.4h0.75M75.4 54.6h0.75M43.8 27.9h0.75M25.3 47.4h0.75M23 57.8h0.75M25.1 56.3h0.75M21.6 53.7h0.75M69 47.5h0.75M72.5 33.8h0.75M73.8 39h0.75M43.5 33.3h0.75M33.8 38.1h0.75M50.8 30.5h0.75M70.8 52.3h0.75M34 59.7h0.75M21.4 49.9h0.75M56.5 30.9h0.75M20.5 55.9h0.75M41.2 56.9h0.75M49.6 64.1h0.75M57.4 33.6h0.75M37.2 60.6h0.75M55.6 33.1h0.75M54.8 26.7h0.75M66.5 35.8h0.75M54.6 64.3h0.75M70.7 32.5h0.75M29.4 36.6h0.75M46.2 59.1h0.75M61.7 35.3h0.75M66.7 28.2h0.75M18.5 54h0.75M70.4 37.9h0.75M35 58.1h0.75M45.9 35.5h0.75M46.4 32.4h0.75M30.9 51.1h0.75M56.2 60.1h0.75M24.7 41.8h0.75M71.9 44.7h0.75M76.3 41.1h0.75M26.4 59.8h0.75M23.3 49.5h0.75M58.9 54.4h0.75M37.9 50.3h0.75M57.9 54.7h0.75M51 59.2h0.75M53.3 65.4h0.75M55.8 59.9h0.75M34.7 37.6h0.75M24 39h0.75M37.6 32.8h0.75M39.5 34.4h0.75M64.1 47.4h0.75M73.9 44.2h0.75M39.6 58.4h0.75M66.7 59.8h0.75M50.7 32.5h0.75M23.6 40.3h0.75M54.4 61h0.75M70.3 40.1h0.75M34.9 68.3h0.75M26 57.6h0.75M23.5 41.8h0.75M36.6 39.2h0.75M24.6 60.2h0.75M24.7 52.2h0.75M52.4 34.4h0.75M57 39.1h0.75M33.8 58.1h0.75M58.2 62.6h0.75M46.8 50.8h0.75M29.4 57.9h0.75M45.7 35.6h0.75M59.2 37h0.75M36 57.8h0.75M63 53.5h0.75M20.7 56.8h0.75M69.1 44h0.75M73.5 47.1h0.75M20.6 49.9h0.75M26.8 49.3h0.75M58.4 35.7h0.75M16.9 54.3h0.75M16.2 59.2h0.75M61.2 39.1h0.75M65.5 39.5h0.75M34.6 68.6h0.75M27.7 43.1h0.75M23.8 48.6h0.75M34.5 60.1h0.75M22.5 52.8h0.75M62.4 38h0.75M39.9 63.7h0.75M39 61.1h0.75M28.8 38.8h0.75M68 53.7h0.75M73.8 44.8h0.75M63 25h0.75M65.2 54.1h0.75M24.7 56.9h0.75M56.2 34.1h0.75M24.2 59.3h0.75M30.3 57.5h0.75M31.4 38.5h0.75M55 29.2h0.75M61.4 40.8h0.75M50.5 35.1h0.75M26.3 41.3h0.75M73.9 38h0.75M64.5 57.6h0.75M55.8 65.3h0.75M35.6 31.9h0.75M43.4 36.5h0.75M50.9 56.2h0.75M50.8 29.8h0.75M54 20.9h0.75M58.9 51.1h0.75M49.5 27.8h0.75M14.3 47.9h0.75M30.2 37.9h0.75M58.3 34.8h0.75M71.8 49.2h0.75M22.6 45.3h0.75M47 62.1h0.75M55.5 35.3h0.75M30 59.4h0.75M48.1 61.3h0.75M64.4 46h0.75M62.5 45.3h0.75M49.7 32.5h0.75M37.6 57.7h0.75M32.5 61.7h0.75M46 56.5h0.75M28 42.3h0.75M62.3 50.8h0.75M38.7 59.2h0.75M72.6 42.5h0.75M51.9 57.3h0.75M53.8 28.4h0.75M40.4 30.1h0.75M68.5 41.7h0.75M51.2 59.5h0.75M42.8 30.5h0.75M46.8 60.9h0.75M55.6 29.2h0.75M64.4 53.7h0.75M46.4 34.3h0.75M53 29.2h0.75M36 55.8h0.75M14.3 50.2h0.75M51 57.7h0.75M69.5 34.8h0.75M69 43.8h0.75M39.7 31.5h0.75M30.8 59.6h0.75M66.5 43.2h0.75M74.8 45.6h0.75M58.7 30.7h0.75M36.1 62.8h0.75M32.5 59.8h0.75M32.7 55.7h0.75M31.6 59.9h0.75M53.5 61.3h0.75M63.4 41.7h0.75M71.6 44.9h0.75M43.1 59.3h0.75M38 56.5h0.75M22.9 52.2h0.75M49.1 62.8h0.75M67.8 30.3h0.75M26 64.3h0.75M59.4 59.8h0.75M24.5 42.7h0.75M69.6 46.3h0.75M40 62.2h0.75M22.2 57.1h0.75M69.9 33.2h0.75M41.5 59.9h0.75M26.4 54.4h0.75M50.2 59h0.75M66 40.4h0.75M28.1 49.2h0.75M71.6 44.9h0.75M24.8 40.1h0.75M74.2 50.1h0.75M25.2 45.7h0.75M42.3 38.4h0.75M41.7 59.5h0.75M42.8 60.8h0.75M60.9 39.1h0.75M28.5 45.8h0.75M53.4 57.6h0.75M44.7 59.4h0.75M24.9 52.9h0.75M18.7 60.7h0.75M32 54.8h0.75M47 27.5h0.75M61.8 28.6h0.75M32 66h0.75M63.6 35.2h0.75M50 29.7h0.75M36.1 49.9h0.75M63.8 39.2h0.75M51.1 29.7h0.75M38 59.6h0.75M24.9 53.1h0.75M46.5 59.9h0.75M21.7 49h0.75M46.1 61.8h0.75M56.4 26h0.75M68.6 40h0.75M29.7 29.8h0.75M32.2 40.5h0.75M53.9 25.9h0.75M43.4 59.5h0.75M31.8 59.1h0.75M51.6 48h0.75M65.6 41.6h0.75M39 59.8h0.75M63.8 48.8h0.75M27.4 58.2h0.75M44.5 35.3h0.75M26.5 41.7h0.75M29.3 51.2h0.75M22.8 52.6h0.75M59.8 33.5h0.75M65.2 61.7h0.75M28.3 61.1h0.75M66.2 30.9h0.75M44.2 64.1h0.75M53.9 32.1h0.75M29.1 52.1h0.75M47.9 35.9h0.75M28.1 55.8h0.75M50.4 61.2h0.75M17.1 61.8h0.75M72.3 54.8h0.75M64.3 49.7h0.75M72.6 40.2h0.75M22.1 54.6h0.75M64.6 29.5h0.75M54.7 57.4h0.75M25.9 52.1h0.75M32.5 58.9h0.75M49.8 33.2h0.75M61.2 48.1h0.75M41.7 62.1h0.75M19.6 45.8h0.75M63.2 51.5h0.75M37 50h0.75M50.7 66.5h0.75M46.3 42.6h0.75M44.6 60.4h0.75M18.6 49.3h0.75M32.3 34.3h0.75M23.3 38h0.75M26.3 56h0.75M57.1 36.2h0.75M56.2 57.2h0.75M55 33.8h0.75M51.6 29.2h0.75M63.1 33.6h0.75M44.3 60.5h0.75M61.9 51.9h0.75M41.3 31.5h0.75M79.3 43.3h0.75M34.3 57.2h0.75M26.7 62h0.75M28.1 51.1h0.75M45.3 57.1h0.75M26.9 43.4h0.75M57.4 33.3h0.75M32.4 41.1h0.75M44.9 62.9h0.75M27.7 64.6h0.75M32.9 60.6h0.75M45 34.9h0.75M24.1 47.4h0.75M39.1 49.2h0.75M52.1 33h0.75M52 65.6h0.75M37.8 33.2h0.75M64.7 53.1h0.75M58.2 36.3h0.75M68.7 38.5h0.75M56.2 25.5h0.75M53.6 29.7h0.75M70.6 51.4h0.75M28.8 44.1h0.75M65.9 33.5h0.75M22.3 46.9h0.75M82.4 34.9h0.75M33.1 60.5h0.75M38.7 34h0.75M27.9 60.5h0.75M36.9 28h0.75M55.4 63.2h0.75M52.6 30.5h0.75M30 53.7h0.75M34.8 56h0.75M67.6 41.2h0.75M67.6 35.6h0.75M40.5 45.6h0.75M46 29h0.75M55.8 34.8h0.75M68.6 45.6h0.75M41.9 58.8h0.75M28.1 37.2h0.75M44.7 58.3h0.75M64.5 37.5h0.75M21.7 52.3h0.75M34.2 61.5h0.75M26.4 44.1h0.75M19.8 56.5h0.75M24.1 42.5h0.75M58.5 57.9h0.75M77.5 39.5h0.75M60.4 52.6h0.75M22.1 34.5h0.75M60.5 26.8h0.75M67.7 43.1h0.75M29.6 57h0.75M40.1 58.2h0.75M47.5 53.8h0.75M60.1 61.7h0.75M65.5 37.4h0.75M17.6 49.3h0.75M13.4 39.9h0.75M56.5 30.4h0.75M60.4 32.4h0.75M44.1 65.4h0.75M31 40.9h0.75M23.9 41.5h0.75M65.8 36.2h0.75M71.6 51.7h0.75M51.3 33.5h0.75M65 56.1h0.75M59.6 54.4h0.75M71.2 44.7h0.75M73.3 47.3h0.75M19.6 52.5h0.75M39.1 56.4h0.75M68.2 45h0.75M32 39.5h0.75M38.2 59.1h0.75M27.6 48.4h0.75M30 54.7h0.75M61.8 33.2h0.75M21.8 45.5h0.75M52.3 26.8h0.75M35.5 61.1h0.75M74.7 34.3h0.75M31.7 59.1h0.75M61.8 59.3h0.75M25.3 53.4h0.75M65.2 30h0.75M35.4 55.4h0.75M66.4 29.4h0.75M30.6 62h0.75M47.3 32.1h0.75M36.4 60h0.75M23.8 47.2h0.75M45.4 61.1h0.75M70.5 42.2h0.75M68 49.9h0.75M35 65.2h0.75M64.7 46.1h0.75M63.9 40.3h0.75M44.2 63.4h0.75M69.8 61.2h0.75M60.8 22.2h0.75M28.3 42.7h0.75M75.3 43.2h0.75M36.8 61.9h0.75M63 54.5h0.75M64.1 47.2h0.75M48.7 34.8h0.75M44 63.9h0.75M65.3 42.1h0.75M48.5 30h0.75M25 57h0.75M70.3 45.7h0.75M17.3 53.9h0.75M31.6 57.4h0.75M36.4 38.8h0.75M35.4 34.1h0.75M66.3 35.1h0.75M64 48.4h0.75M28.8 65.3h0.75M58.1 35.5h0.75M58.9 37.5h0.75M59.4 58.9h0.75M49.8 66.2h0.75M26.6 53.5h0.75M71.7 56.5h0.75M66.4 59.4h0.75M72 45.7h0.75M67.6 39.3h0.75M32.2 61.4h0.75M41.4 58.4h0.75M47.8 65.4h0.75M41.4 61.7h0.75M58.4 33h0.75M21.5 54.2h0.75M19.2 61.6h0.75M39.7 57.7h0.75M40.9 32.3h0.75M65.9 38.7h0.75M19.6 50.7h0.75M32.1 45.1h0.75M64.1 34.5h0.75M64.7 47.4h0.75M37.5 36.9h0.75M50.1 29.3h0.75M66.9 53.1h0.75M61.7 55.4h0.75M46.4 32h0.75M30.2 59h0.75M71.1 45.4h0.75M38.8 61.3h0.75M36.3 31.2h0.75M32.1 57h0.75M32.1 66.1h0.75M21.9 54h0.75M23.3 55.8h0.75M22.2 56.4h0.75M60.8 36.7h0.75M51.1 29.8h0.75M41.3 57.3h0.75M63.3 31.5h0.75M62.7 28.6h0.75M59.7 35.1h0.75M48.6 31h0.75M22.2 61h0.75M60.3 49.9h0.75M54.1 56.4h0.75M46.8 35.9h0.75M65.9 57.1h0.75M47.3 27h0.75M26.4 57.3h0.75M56 28.9h0.75M19.6 52.3h0.75M35.3 38.8h0.75M44.5 62.6h0.75M31.2 35.7h0.75M28.3 44.9h0.75M12 52.3h0.75M63.6 31.2h0.75M61.9 40.9h0.75M73.8 35.3h0.75M27.8 47.4h0.75M25.4 45.4h0.75M37.8 31.4h0.75M31.7 60.4h0.75M60.5 52.8h0.75M37.9 29.6h0.75M74 39.3h0.75M21.7 55.2h0.75M19 50.3h0.75M43.7 61.2h0.75M32.5 59.6h0.75M69.9 56.1h0.75M54.8 35.7h0.75M23.4 46.4h0.75M38.7 61.9h0.75M32.7 59.5h0.75M50.1 45.1h0.75M48.5 29h0.75M56.4 34.4h0.75M38.5 61h0.75M40.1 57.3h0.75M44 59.4h0.75M70.2 33.3h0.75M34.5 57.5h0.75M67.5 40.8h0.75M55.9 34.4h0.75M27.7 58.4h0.75M69.1 56.2h0.75M65.8 35.4h0.75M67.7 52.7h0.75M36.3 51.8h0.75M51.6 34.1h0.75M24 56.2h0.75M25.1 55.5h0.75M36.7 58.7h0.75M60.1 33.8h0.75M27.7 58.8h0.75M57.1 54.9h0.75M27.1 60h0.75M11.6 44.6h0.75M50.2 49.5h0.75M38.4 39.4h0.75M49.2 27.2h0.75M48 34.5h0.75M43.1 58.1h0.75M74 46.5h0.75M80.8 38.9h0.75M64.3 34.6h0.75M27.5 61.2h0.75M65.9 38h0.75M60.4 33.6h0.75M58.3 32.5h0.75M23.4 50h0.75M51 31.8h0.75M21.1 49.6h0.75M48.4 60.3h0.75M57.9 58.6h0.75M19.9 42.4h0.75M64.7 51.6h0.75M68.8 42.8h0.75M37.5 34.2h0.75M24.4 55.8h0.75M51.6 33.8h0.75M70.2 38.4h0.75M39.3 41.6h0.75M59.1 33.4h0.75M67 37.3h0.75M57.8 60.8h0.75M32.7 57.3h0.75M55.7 33.7h0.75M21.3 43.1h0.75M61.9 28h0.75M32.3 61.4h0.75M43.8 34.3h0.75M66.1 44h0.75M48 55.5h0.75M68.8 55.5h0.75M47.9 35.4h0.75M64.2 56h0.75M70.8 35h0.75M26.3 50.8h0.75M32.4 41.9h0.75M61.4 35.7h0.75M73.9 46.9h0.75M58.9 55.3h0.75M42.7 59.8h0.75M43 28h0.75M62.1 39.5h0.75M57.2 59.5h0.75M14.9 59.4h0.75M65.8 46.7h0.75M53.7 58h0.75M62.9 49.2h0.75M33 60.7h0.75M24.4 45.1h0.75M12.5 60.8h0.75M31.6 53.5h0.75M45 29.2h0.75M60.3 57.5h0.75M62.6 35.6h0.75M68.9 35.5h0.75M62.6 39.1h0.75M33.4 60h0.75M10.9 50.9h0.75M65.4 42h0.75M61.3 33.7h0.75M33.3 59.1h0.75M37.2 57.4h0.75M40.6 59.1h0.75M58.3 50.3h0.75M69.6 38.8h0.75M15.8 37.9h0.75M49.9 31.5h0.75M48.8 53.6h0.75M46.8 30.4h0.75M15.7 49.1h0.75M21.9 43.7h0.75M29.5 30.5h0.75M44 60.4h0.75M26 41.9h0.75M46.5 28.3h0.75M65.8 33.5h0.75M47 58.7h0.75M45.5 61.9h0.75M59.6 32.3h0.75M57 34.2h0.75M24.2 59.2h0.75M62.1 55.1h0.75M57.7 30.5h0.75M58.2 33h0.75M25.2 42.7h0.75M24.9 34.8h0.75M40.1 61.2h0.75M37.9 64.9h0.75M69.7 43.3h0.75M51 58.5h0.75M50.1 36.1h0.75M28.9 35.6h0.75M60.7 55.3h0.75M22.5 57.6h0.75M58.1 35.1h0.75M58.1 52.5h0.75M25.9 56.4h0.75M66.5 44.9h0.75M57.3 62.5h0.75M68.5 52.6h0.75M58.8 65.2h0.75M38.5 60.4h0.75M31.3 58.8h0.75M61.8 56.4h0.75M39.6 36.8h0.75M40.6 57.9h0.75M63.2 28.8h0.75M60.4 49.7h0.75M29.1 53.8h0.75M48.7 59.9h0.75M24.4 59.7h0.75M45.6 62.5h0.75M66.1 48.5h0.75M44.6 36.4h0.75M61.3 36.7h0.75M39.1 56.6h0.75M54 58.1h0.75M35.7 36.4h0.75M20.2 52.6h0.75M49.9 36.4h0.75M65.1 44.1h0.75M31.3 59.7h0.75M53.9 65.4h0.75M26.1 64.1h0.75M64.4 30.5h0.75M33.3 63h0.75M29.7 34.1h0.75M32.6 65.3h0.75M59.5 32.4h0.75M59.1 58.2h0.75M73.4 38.3h0.75M69.9 42h0.75M57.6 29.7h0.75M57.6 59h0.75M21.1 58.9h0.75M40.1 58.6h0.75M30.9 67.3h0.75M48.6 62.8h0.75M49.6 45.8h0.75M42.4 28.1h0.75M22.5 55.7h0.75M17.1 42.9h0.75M28.6 36.8h0.75M37.4 30.8h0.75M38.5 35.9h0.75M55.1 32.6h0.75M42.9 35.7h0.75M55.9 29.6h0.75M39.3 29.8h0.75M18.7 42h0.75M47.5 34.2h0.75M32.3 54.4h0.75M23.4 44.3h0.75M27.2 62.8h0.75M37.2 33h0.75M40.6 61.6h0.75M64.6 57.5h0.75M19.7 54h0.75M15.4 57.7h0.75M38.9 62.1h0.75M40.3 32.5h0.75M59.3 34.3h0.75M63.4 33.7h0.75M44 62.2h0.75M50.8 33.2h0.75M67.8 35.3h0.75M29.3 62.8h0.75M47.8 31.7h0.75M33.1 55.9h0.75M59.7 58.9h0.75M53.2 48.9h0.75M67 30.3h0.75M34.2 35.5h0.75M34.6 63.2h0.75M50.8 59.9h0.75M57.8 29.7h0.75M74.2 45.4h0.75M41.6 58.5h0.75M54.1 32.1h0.75M20.3 46h0.75M47 33.9h0.75M38.5 37.3h0.75M46.1 35.4h0.75M41.3 32h0.75M30.8 38.9h0.75M39.7 31.2h0.75M25.7 42.2h0.75M70.9 53h0.75M69.1 55.2h0.75M60.8 31.5h0.75M36.2 63.1h0.75M53.6 28.6h0.75M34.9 36.2h0.75M56.5 24.5h0.75M25 36h0.75M61.4 40.1h0.75M57.6 37h0.75M63.4 34.6h0.75M43.3 33.5h0.75M28.8 56.7h0.75M29.1 32.4h0.75M63.7 33.9h0.75M73.5 35.8h0.75M75.7 46.8h0.75M31.5 63.9h0.75M72.6 38.8h0.75M65.6 54.6h0.75M64.4 53h0.75M24.8 51.2h0.75M33.5 59.5h0.75M42.8 60h0.75M18.5 52.8h0.75M64.1 58.3h0.75M80.1 32.8h0.75M59.6 57.3h0.75M65.1 49.5h0.75M71 46.8h0.75M22.7 54.5h0.75M27.6 60.9h0.75M68.2 44.7h0.75M61.1 50.9h0.75M35.1 55.9h0.75M61.5 52.2h0.75M39.2 62h0.75M59.4 53.2h0.75M55.8 33.9h0.75M62.6 31.1h0.75M32.8 56.8h0.75M66.4 45.9h0.75M66.8 38.1h0.75M73.5 48.2h0.75M33.3 35.7h0.75M50.7 59.3h0.75M27.9 58.1h0.75M50 25.8h0.75M40.3 33.6h0.75M23.8 54.9h0.75M63 37.9h0.75M34.4 41h0.75M63.2 55.6h0.75M64.3 25.5h0.75M32 34.1h0.75M28.6 56.7h0.75M29.9 59.9h0.75M21.6 45.6h0.75M24.7 65h0.75M48.3 29.1h0.75M32.3 57.1h0.75M51.5 61.4h0.75M70 44.5h0.75M62.3 47.5h0.75M69.3 46.7h0.75M31.3 39.8h0.75M66.9 49.8h0.75M57.7 54.9h0.75M33.2 56.9h0.75M68.9 44.9h0.75M38.7 61.8h0.75M55.4 59.1h0.75M19.7 51.7h0.75M43.2 44h0.75M32.1 56.3h0.75M22.5 34.7h0.75M62.4 33.2h0.75M58.9 24.1h0.75M37.1 59.6h0.75M23.6 51.9h0.75" stroke="#e0e0e0" stroke-width="0.75" fill="none" opacity="0.2"/><path d="M27.5 52.2h0.85M62.5 52.7h0.85M69.6 50.3h0.85M76 30.3h0.85M35 31.8h0.85M51.7 34.8h0.85M63.1 36.9h0.85M30.1 35.5h0.85M72.3 30.4h0.85M22.7 40.8h0.85M73.5 44.1h0.85M29.1 58.1h0.85M28.1 57.6h0.85M26.1 55.9h0.85M26.8 55.2h0.85M66.7 36.8h0.85M54.6 66.5h0.85M27.2 37h0.85M27.7 59.5h0.85M61.8 52.2h0.85M38.9 56.9h0.85M25.4 53.6h0.85M20.7 58.1h0.85M35.9 60h0.85M71.1 44.8h0.85M19.2 45.2h0.85M25.1 49.5h0.85M33.3 38.1h0.85M37.5 32h0.85M23.3 53.2h0.85M33.6 39.3h0.85M28.3 57.2h0.85M24.8 42.5h0.85M28.4 43.2h0.85M46.1 58.6h0.85M36.4 64.9h0.85M57.3 36.5h0.85M47.8 32.1h0.85M57.5 36.7h0.85M48.7 57.7h0.85M76.1 38.6h0.85M49.3 36.2h0.85M59.5 38h0.85M29.6 42.8h0.85M24.8 55.2h0.85M24 59.9h0.85M66.4 47.5h0.85M42.8 56.5h0.85M23.1 49.2h0.85M25.1 52.4h0.85M55.4 57h0.85M41.6 29.3h0.85M21.2 54.8h0.85M41.3 31.8h0.85M75.7 43.6h0.85M23.1 63.4h0.85M63.6 48.8h0.85M28 57.3h0.85M68.8 37.8h0.85M34.7 62.5h0.85M67.4 40.3h0.85M43.1 29.6h0.85M30.9 55.9h0.85M18.8 54.6h0.85M31.3 56.5h0.85M64.7 49.4h0.85M36.3 62.7h0.85M44 42.7h0.85M28.2 41.4h0.85M63.4 63.2h0.85M60.1 34h0.85M39.3 33.5h0.85M18.8 52.7h0.85M62.7 53.9h0.85M32.1 36.2h0.85M67.5 41.9h0.85M41.4 36.1h0.85M26.8 42h0.85M69.7 49.1h0.85M44.1 29.8h0.85M71.4 54.2h0.85M20.7 52.6h0.85M67.2 49.8h0.85M68.3 38.2h0.85M66.2 42.4h0.85M32.5 40.8h0.85M53.5 34h0.85M29.6 54.8h0.85M68.7 36.9h0.85M32.5 56.3h0.85M51.3 35.1h0.85M35.5 62.9h0.85M33.4 59.4h0.85M58.6 32.7h0.85M72.7 50.1h0.85M48.7 63.4h0.85M24.6 55.9h0.85M37 57.7h0.85M35.3 57.5h0.85M69.9 35.4h0.85M28.8 44.4h0.85M64.2 31.1h0.85M32.2 54.7h0.85M69.4 33.6h0.85M66.6 45.4h0.85M51.8 31.5h0.85M32 61.3h0.85M45 29.3h0.85M41 32.7h0.85M27.9 60.5h0.85M31.3 52.4h0.85M66.2 37.8h0.85M25.1 63h0.85M61.3 51.9h0.85M55.7 35.2h0.85M21.8 35.4h0.85M56.5 36.5h0.85M31.6 65.5h0.85M70.6 39.5h0.85M26.3 54.3h0.85M50.9 30.2h0.85M66.4 36.3h0.85M27.3 50.7h0.85M25.6 50.8h0.85M21.4 46.9h0.85M47.2 27.2h0.85M48 31.1h0.85M61.9 53.9h0.85M33.2 58.2h0.85M58 29.6h0.85M53.6 58.9h0.85M42.2 63.4h0.85M26.1 57.5h0.85M14.9 50.7h0.85M36.1 59.8h0.85M26.3 57.4h0.85M66.1 55.9h0.85M71.2 31.9h0.85M38.3 31.9h0.85M33 62.7h0.85M65.9 34.7h0.85M20.5 56.3h0.85M59.2 57.6h0.85M45 25.6h0.85M28.9 55.3h0.85M44.8 61.1h0.85M14.1 42.6h0.85M52.4 31.9h0.85M58.8 53.5h0.85M27.4 49.2h0.85M42.8 35.3h0.85M26 35.6h0.85M22.9 55.8h0.85M27.3 59h0.85M61.3 39.3h0.85M39.7 32.8h0.85M63.3 30.9h0.85M51.5 66.2h0.85M51.4 32.2h0.85M40.5 44.8h0.85M62 46.9h0.85M64.3 43.2h0.85M26.9 48.6h0.85M23.6 55.7h0.85M51.3 58.5h0.85M47.1 56.8h0.85M35.3 58.5h0.85M21 52.9h0.85M21.5 52.4h0.85M44.3 61.9h0.85M68.7 29.2h0.85M21.6 59h0.85M13.5 51.4h0.85M65.4 47.9h0.85M65.7 46.8h0.85M29.3 34h0.85M24 37.3h0.85M15.2 54.5h0.85M66.6 52h0.85M70.2 35.8h0.85M43.8 59.2h0.85M71.1 42.1h0.85M68.7 55.2h0.85M34.1 55.9h0.85M63.2 41.1h0.85M52.3 54.2h0.85M36 27.7h0.85M23.5 51.6h0.85M42.5 31.7h0.85M57.8 33.5h0.85M35 57.6h0.85M44.4 60.4h0.85M69 45.7h0.85M12.6 49.9h0.85M60.5 37.7h0.85M39.4 60.2h0.85M20.7 56.9h0.85M45 63.1h0.85M56.9 31.1h0.85M81.5 36.7h0.85M73.8 46h0.85M36.7 31.5h0.85M70.8 35.5h0.85M33.1 37.2h0.85M20.2 50.6h0.85M29.1 47.5h0.85M54.6 34.3h0.85M42.1 33.7h0.85M42.2 63.5h0.85M28.2 65.2h0.85M41.6 60.8h0.85M53.6 31.6h0.85M25.7 47.2h0.85M11.8 58.8h0.85M40.3 34.9h0.85M47.7 59.8h0.85M29.6 42.7h0.85M31.8 59.2h0.85M64 34.5h0.85M65.3 53h0.85M53.2 58.5h0.85M23.8 38.2h0.85M55.3 60.2h0.85M70.9 47.1h0.85M32.8 59.7h0.85M54.1 35.4h0.85M27.3 50.3h0.85M53.9 27.5h0.85M14.1 49.9h0.85M25.8 59.5h0.85M37 45.6h0.85M25.2 48.3h0.85M35.2 63.2h0.85M46.2 29.5h0.85M77.1 42.6h0.85M52.2 34.3h0.85M33.1 56.2h0.85M34.1 61.4h0.85M67.1 42.9h0.85M59.1 28.2h0.85M56.1 37h0.85M60.6 54.4h0.85M61.7 30.1h0.85M48.9 45.7h0.85M59.6 36.6h0.85M81 47h0.85M51.9 25.2h0.85M36.6 42.7h0.85M65 43.7h0.85M46.3 35h0.85M24.7 50.5h0.85M46.7 29h0.85M20.3 57.6h0.85M42.2 32.2h0.85M26.9 56.2h0.85M71.1 43.3h0.85M67.1 46.2h0.85M60.5 31.3h0.85M63.8 49.3h0.85M56.1 25.9h0.85M50.9 31.2h0.85M72.3 47.5h0.85M28.9 60h0.85M51.1 61.8h0.85M42.7 60.5h0.85M30.9 54.4h0.85M60.4 61.6h0.85M26.8 57.1h0.85M76.8 33.1h0.85M50.4 31.2h0.85M58.2 30.4h0.85M45.1 35.6h0.85M59.7 51.8h0.85M23.9 55.2h0.85M29.9 58.7h0.85M19.2 45.1h0.85M65.8 42.8h0.85M18.4 51h0.85M30.7 58.5h0.85M32.4 55.7h0.85M35.5 60.9h0.85M45.3 33.8h0.85M25.3 56.4h0.85M36.9 60.9h0.85M12.8 55.1h0.85M40.8 58.2h0.85M28.5 62.3h0.85M63.3 37.5h0.85M41.2 70h0.85M69.9 43.6h0.85M73.6 57.9h0.85M63.7 29.4h0.85M59.7 30.4h0.85M61.9 52.8h0.85M28.1 71.3h0.85M58.5 30.7h0.85M30.2 53.7h0.85M26.3 53.1h0.85M28.3 46.6h0.85M27.3 47.7h0.85M61.9 36h0.85M70.1 57.1h0.85M67.9 39.8h0.85M33.3 60.7h0.85M60.2 48.8h0.85M65.9 35.5h0.85M29.3 46.8h0.85M75.6 39.4h0.85M72.3 33.2h0.85M23.7 41.9h0.85M17.2 57.4h0.85M65.9 50.5h0.85M62.8 40h0.85M61.5 33.1h0.85M29.7 46.5h0.85M14.8 49.7h0.85M73.2 46.2h0.85M19.1 43.9h0.85M40 57.4h0.85M26.2 60.2h0.85M27 46.1h0.85M28.7 62.5h0.85M9.6 58h0.85M73.4 49h0.85M49.3 33.8h0.85M66.7 30.4h0.85M60.1 37.5h0.85M51.6 53h0.85M51.5 34h0.85M22.7 54.8h0.85M32.5 32h0.85M63 34.2h0.85M46.3 40.5h0.85M25 52.4h0.85M34.8 39.6h0.85M68.6 41.4h0.85M54.6 57.3h0.85M40 59.6h0.85M37.4 42.4h0.85M31.8 61.8h0.85M75.1 40.6h0.85M27 59.7h0.85M72.4 44.9h0.85M44 32.2h0.85M50.5 52.1h0.85M64.4 43.5h0.85M20.2 53.2h0.85M63.1 33.9h0.85M62.6 54.1h0.85M61.7 58.8h0.85M26.9 55.2h0.85M70.6 43.3h0.85M18.3 49.5h0.85M43.7 66.9h0.85M26.4 41h0.85M34.2 55.2h0.85M48.7 33.9h0.85M36.5 57.4h0.85M21.7 58.3h0.85M60.7 37.4h0.85M25.9 47.2h0.85M55.2 33.1h0.85M58.6 59.5h0.85M75.3 55.8h0.85M26.5 67.3h0.85M45.3 63.3h0.85M36.8 56.3h0.85M16.5 55.6h0.85M25.8 49.3h0.85M30.8 62h0.85M38.5 69.1h0.85M22.3 44.8h0.85M30.6 30h0.85M18.8 48h0.85M28 59.5h0.85M40.1 56.8h0.85M28.8 58.9h0.85M51.3 35.2h0.85M63.1 39.7h0.85M74.6 51.8h0.85M48.8 28.6h0.85M48.9 62.3h0.85M56.5 62.2h0.85M21.9 46.8h0.85M21.1 56.6h0.85M56.8 59.9h0.85M73.8 35.9h0.85M30.2 63.9h0.85M24 47.6h0.85M27.3 50.9h0.85M29.7 63.5h0.85M44.8 29.5h0.85M58.5 31.7h0.85M31.3 55.1h0.85M34.1 63h0.85M23.8 48.9h0.85M30.3 53.9h0.85M33.6 46.3h0.85M65.9 29.1h0.85M39 30.9h0.85M63.3 47.7h0.85M45.3 31.4h0.85M33.5 66.3h0.85M52.6 57.5h0.85M58.9 57.9h0.85M51.3 35.3h0.85M25.1 43.9h0.85M66.9 37.4h0.85M40.5 67.5h0.85M42.3 25.9h0.85M46.5 33.8h0.85M38.3 34.6h0.85M64.5 34.9h0.85M65.3 50.6h0.85M39.2 68.2h0.85M17.3 55.1h0.85M31.5 59h0.85M46.8 58.7h0.85M26.7 51.8h0.85M21.1 48.4h0.85M17.7 47.6h0.85M59.9 46.6h0.85M22.7 63.1h0.85M26.9 54.3h0.85M71 53.4h0.85M63 44.5h0.85M66.6 31.5h0.85M69.4 52.7h0.85M65.9 38.1h0.85M64.9 37.3h0.85M60 23.3h0.85M45.8 32.1h0.85M30.2 36.9h0.85M26.5 60.9h0.85M62.3 38.1h0.85M41.3 32.3h0.85M49.7 29.5h0.85M49.3 33.2h0.85M48.9 52.7h0.85M66 54.4h0.85M32.5 54.9h0.85M26.7 58.2h0.85M19.6 39.5h0.85M15.1 51.4h0.85M20.6 47.2h0.85M74.8 36.6h0.85M34.5 36.2h0.85M52.5 61.9h0.85M71.3 50h0.85M21.3 46.5h0.85M37.8 61.8h0.85M49 28.9h0.85M22.3 61.2h0.85M24.3 54.6h0.85M22 63.6h0.85M40.7 58.4h0.85M21.4 58.4h0.85M47 62.6h0.85M36 40.3h0.85M24.5 55.6h0.85M31.9 42.5h0.85M63.9 44.6h0.85M15.9 42.3h0.85M44.2 67.8h0.85M27.2 53.9h0.85M65.7 53.5h0.85M36.9 58.6h0.85M58.4 35.8h0.85M72.8 27.2h0.85M53.1 29.6h0.85M23.1 54.2h0.85M68.6 38.3h0.85M30.1 52.9h0.85M38.7 33.8h0.85M30.9 64.8h0.85M23.4 57.2h0.85M73.5 41.4h0.85M22.4 69h0.85M80.8 44.2h0.85M63.9 37.8h0.85M38.9 54h0.85M26.2 56.1h0.85M82.3 40.3h0.85M46.7 31.2h0.85M38.5 32.6h0.85M26.3 52.5h0.85M45.5 59.8h0.85M19.6 58.3h0.85M66.3 52h0.85M73.9 47.6h0.85M30.7 53.9h0.85M34.4 39.1h0.85M62 53.3h0.85M25.3 33.4h0.85M29.2 58.6h0.85M28.1 60.6h0.85M17.1 43.2h0.85M21.4 40.1h0.85M75 51h0.85M49.8 29.2h0.85" stroke="#f4f4f4" stroke-width="0.85" fill="none" opacity="0.4"/></g>
</g>
<g transform="translate(82 350)">
<path d="M74.5 6.3 L87.1 10.9 L90.6 21 L82.9 42 L52.5 65 L45.1 83.9 L6.3 87.1 L1.7 69.2 L2.1 56.7 L17.8 42 L39.9 34.6 L62.9 19.9Z" fill="#363636" filter="url(#bl5)"/>
<g filter="url(#bl3)"><path d="M50.6 42.2h0.9M74 26.3h0.9M59.3 42.6h0.9M38.5 62.4h0.9M84.7 16.6h0.9M75.8 25.6h0.9M77 21.1h0.9M47.9 37.3h0.9M31.4 52.5h0.9M27.2 60.3h0.9M6.7 55.1h0.9M87.7 18.5h0.9M37 67h0.9M86.6 23.3h0.9M70.9 28.5h0.9M61.3 37.5h0.9M66.6 48.1h0.9M9.4 64.8h0.9M68.7 41.4h0.9M52.9 42.8h0.9M79.9 18.3h0.9M60.2 46.5h0.9M30.3 73h0.9M65.9 47.7h0.9M42 58.4h0.9M61.3 29.6h0.9M50 37.3h0.9M62 25.2h0.9M67.9 21.9h0.9M31.4 57h0.9M69.6 21.3h0.9M57.6 44.3h0.9M79.2 32.1h0.9M25.7 61.7h0.9M39 62.5h0.9M45 38.1h0.9M50.1 65.1h0.9M63.5 36.1h0.9M80.6 19.8h0.9M21.1 71.4h0.9M31.3 72.9h0.9M77.3 9.7h0.9M62.3 37.1h0.9M15.6 68.8h0.9M72.5 18.8h0.9M25.3 68.4h0.9M68.5 40.4h0.9M85.7 32.7h0.9M64.4 35.6h0.9M19.3 63.7h0.9M57 33.6h0.9M85 13.9h0.9M53.7 45.4h0.9M81.7 19.3h0.9M62.3 52.5h0.9M66.2 31.8h0.9M38.7 42.2h0.9M57.6 41.9h0.9M52 41.8h0.9M74.7 19h0.9M72.4 19.9h0.9M39.7 43.7h0.9M46.2 42.5h0.9M70.4 42.7h0.9M14 54.2h0.9M68 42.4h0.9M40.8 69.3h0.9M49.3 34.6h0.9M49 49.6h0.9M19.2 75.2h0.9M43.2 60.8h0.9M14.6 68.8h0.9M84 16.3h0.9M53.2 60.7h0.9M57.7 32.6h0.9M42.3 65.9h0.9M25 77.7h0.9M57.7 40.3h0.9M70.8 24h0.9M26.2 54.8h0.9M37.8 60.1h0.9M20.2 73.8h0.9M82.2 9.6h0.9M80.6 24.6h0.9M75.5 14.9h0.9M43 55.6h0.9M42.5 66.2h0.9M43.7 50.7h0.9M39.3 64.2h0.9M68.8 29.9h0.9M80.7 15.8h0.9M39.4 42.7h0.9M20.9 71.2h0.9M57 39.9h0.9M75.5 22.3h0.9M41.5 40.8h0.9M31.5 67.3h0.9M53.2 42.8h0.9M53.5 57.7h0.9M45.4 43.7h0.9M57.1 35h0.9M80 9.6h0.9M21.7 85.7h0.9M67.4 27.7h0.9M62.5 37.5h0.9M29 76.8h0.9M33.5 65.2h0.9M79.9 22.2h0.9M26.8 59.3h0.9M46.9 46.9h0.9M51.8 38.1h0.9M19.9 60.7h0.9M44.2 50.8h0.9M80.2 17.1h0.9M52.1 30.6h0.9M39.7 64.9h0.9M42.1 46.6h0.9M70.7 29h0.9M19.9 82.4h0.9M27.8 74.2h0.9M54.4 44.5h0.9M16.3 77.2h0.9M27.2 73.1h0.9M34.7 39.6h0.9M17.6 77.3h0.9M53.4 43.7h0.9M52.8 46.2h0.9M60.4 41.1h0.9M31 81.7h0.9M14.6 74h0.9M9.5 63.6h0.9M35.7 66.5h0.9M14.6 84.6h0.9M69.7 26.7h0.9M40.7 70.2h0.9M18.7 84.9h0.9M57.9 27.6h0.9M55.5 33h0.9M38.3 50.7h0.9M35 49.8h0.9M66.4 38.8h0.9M80.8 15.9h0.9M65.4 25.1h0.9M76 29.1h0.9M65.8 44.7h0.9M46.3 54.6h0.9M76.4 26.9h0.9M50.6 58.6h0.9M7.1 77h0.9M83.2 11.3h0.9M48.2 41.7h0.9M71.6 28.1h0.9M30.7 64.2h0.9M34.8 36.3h0.9M40.8 50.6h0.9M56.1 36.6h0.9M80.2 40.1h0.9M53 48.1h0.9M45.2 57.2h0.9M7.8 81h0.9M10.4 78h0.9M59.7 49.8h0.9M9.4 73h0.9M52.2 52.6h0.9M22.5 67h0.9M43.5 62.1h0.9M60.2 54.8h0.9M57.2 50.5h0.9M50.4 43.7h0.9M70.5 26.7h0.9M54.3 30.4h0.9M65.3 33.1h0.9M16.5 55.6h0.9M45.6 45.8h0.9M37.8 40.4h0.9M17.9 64.4h0.9M31.4 54.1h0.9M44.3 64.2h0.9M79.6 28.9h0.9M72 41.7h0.9M63.7 39.7h0.9M70.2 25.5h0.9M86.4 16.9h0.9M85.2 29.7h0.9M73.7 14.9h0.9M29.8 73.8h0.9M40.1 41h0.9M38.6 54.4h0.9M19.9 81.8h0.9M66.6 34.1h0.9M81.6 27.8h0.9M75.7 30.5h0.9M78.7 16.3h0.9M52.2 53.3h0.9M17.8 56.8h0.9M15.8 75.2h0.9M43.7 57.1h0.9M19.8 52.2h0.9M52.3 41.7h0.9M31.9 61.2h0.9M72.2 23h0.9M29.3 71.3h0.9M72.3 15.7h0.9M45.9 59.4h0.9M75.6 31.3h0.9M29 67.8h0.9M30.9 69.5h0.9M25.6 70.1h0.9M83.4 22h0.9M74 13h0.9M61.8 44.1h0.9M57.1 42.1h0.9M16.2 76.1h0.9M69.3 34.8h0.9M84.7 12.2h0.9M65.8 23.3h0.9M74.5 8.4h0.9M63.8 20.5h0.9M67.7 28.4h0.9M41.4 37h0.9M50.1 45.5h0.9M37.5 42.9h0.9M21.9 78.4h0.9M74.6 33h0.9M19 72h0.9M56.6 28h0.9M64.8 39.6h0.9M75.8 22h0.9M55.8 49.8h0.9M57.7 51.6h0.9M53.2 39.9h0.9M76.8 9.5h0.9M31.2 59.8h0.9M39.5 73.9h0.9M36.4 39.9h0.9M80 17h0.9M43.8 56h0.9M16 61.2h0.9M20 57.2h0.9M78.4 24.6h0.9M43 78.3h0.9M33.5 74h0.9M14.9 82.3h0.9M7 78.2h0.9M87.4 21.6h0.9M22.6 68.6h0.9M52.3 45.8h0.9M56.3 34.8h0.9M52.4 44.2h0.9M68.5 21.5h0.9M72 34h0.9M31.1 57.5h0.9M66.3 23.4h0.9M39.9 77.3h0.9M68.8 15.4h0.9M71.8 24.8h0.9M52.3 40.9h0.9M55.2 41.3h0.9M62 29.5h0.9M23.3 70.3h0.9M49.4 54.6h0.9M44.9 63.9h0.9M70.1 15.7h0.9M72.4 18.1h0.9M51.9 40.5h0.9M67.5 37.5h0.9M62.6 33.8h0.9M39.1 40.6h0.9M20 72.6h0.9M14.2 68h0.9" stroke="#c8c8c8" stroke-width="0.9" fill="none" opacity="0.36"/><path d="M14.6 69.8h1.0M71 22.3h1.0M48.5 61.3h1.0M4.2 62.5h1.0M39 52h1.0M15.2 60.2h1.0M23.1 75h1.0M57.5 24h1.0M37.3 63.7h1.0M57.9 34.8h1.0M41.5 55.7h1.0M85.4 18.9h1.0M15.3 74h1.0M53.6 57.3h1.0M16.7 70.9h1.0M32.6 73.8h1.0M41.3 63.1h1.0M81.7 25.7h1.0M35.4 48.3h1.0M79.5 23.2h1.0M82.4 24.4h1.0M79.5 26.2h1.0M41.5 41.9h1.0M56.3 44h1.0M22.8 72.5h1.0M15.8 70.9h1.0M16 77.5h1.0M87.7 22.1h1.0M75.5 16.8h1.0M54.3 45.6h1.0M34.9 60.4h1.0M47.4 47.3h1.0M76.6 30.3h1.0M15.7 73.4h1.0M15.7 68h1.0M28.6 61.6h1.0M54.6 39.9h1.0M54.1 30.9h1.0M6 63.8h1.0M23.1 70.4h1.0M31.4 62.2h1.0M69.5 32.4h1.0M38.4 63h1.0M26 48.6h1.0M40.5 68.4h1.0M79.7 19.3h1.0M20.6 75h1.0M23.6 77.3h1.0M34 76.2h1.0M18.1 73.3h1.0M36.2 66.3h1.0M56.2 35.6h1.0M78.3 11.5h1.0M53.2 63.2h1.0M16 66.7h1.0M62.1 29.1h1.0M6.4 69.1h1.0M8.6 73.6h1.0M22.9 75.3h1.0M44.4 45.3h1.0" stroke="#ececec" stroke-width="1.0" fill="none" opacity="0.62"/></g>
</g>
<path d="M242.3 278h1.0M235.7 288.7h1.0M205.2 306.6h1.0M254 301.9h1.0M214.4 294.5h1.0M210.2 289.3h1.0M246.6 295.2h1.0M206.3 301.9h1.0M236.7 291.6h1.0M209.6 318h1.0M214 306.4h1.0M220.6 296.4h1.0M225.7 317.7h1.0M196.3 325.3h1.0M212.4 314.5h1.0M241 293.3h1.0M216.4 324.1h1.0M214.4 314.7h1.0M204.4 319.6h1.0M200.5 311.9h1.0M247.6 293h1.0M203.1 322.8h1.0M231.6 313.1h1.0M239.3 291.9h1.0M209.8 315.7h1.0M240.5 310.2h1.0M251.6 288.6h1.0M238.4 297.3h1.0M223.6 317.1h1.0M252.7 308.5h1.0M218.3 321h1.0M242.7 315.8h1.0M189.2 305h1.0M249.6 287.2h1.0M242.4 289.9h1.0M205.2 301.2h1.0M200.1 322h1.0M223.2 297.5h1.0M211.5 303.1h1.0M230.3 315.4h1.0M227 316.4h1.0M198.6 319.5h1.0M220 308.2h1.0M224.2 280.8h1.0M215.5 295.7h1.0M231.7 314.9h1.0M187.8 315.5h1.0M228.1 284.5h1.0M189.5 314.4h1.0M237.1 293.6h1.0M250.5 303.3h1.0M190.7 303.1h1.0M221.5 282.4h1.0M195.8 292.1h1.0M211.2 311.6h1.0M203 312h1.0M212.8 289h1.0M226.1 322.5h1.0M253.4 284.4h1.0M200.7 294.6h1.0M184.5 315h1.0M245 290h1.0M189.6 324.9h1.0M255.4 305.5h1.0M224.6 299.4h1.0M215.2 290.7h1.0M210.1 292.9h1.0M236.7 307.5h1.0M207.8 297.4h1.0M230.3 278.1h1.0M238.8 283.7h1.0M229.1 309.9h1.0M212.3 320.2h1.0M204.9 296h1.0M254.7 291.2h1.0M204 305.4h1.0M215.8 307.7h1.0M195.2 321.3h1.0M228.7 296.7h1.0M191.1 304.2h1.0M211.5 325.2h1.0M193.9 321h1.0M220.9 315.4h1.0M231.4 305h1.0M208 321.5h1.0M208.4 290.5h1.0M194.9 293.3h1.0M227.3 293.4h1.0M242.7 297.1h1.0M235.7 277.8h1.0M212.9 300.7h1.0M233.3 282.7h1.0M208.4 301.7h1.0M193.7 302.5h1.0M217.4 308.9h1.0M205.6 312.4h1.0M248.2 310.4h1.0M240.3 290.1h1.0M248.2 284.5h1.0M237.2 316.9h1.0M230.6 293.6h1.0M198.1 301.3h1.0M202.1 321.2h1.0M196.4 311.5h1.0M254.7 300h1.0M225.1 318.7h1.0M240.2 295.1h1.0M245.8 284.2h1.0M189.3 311.8h1.0M218.4 303.2h1.0M189.1 303.5h1.0M210.1 284.6h1.0M220.2 301.3h1.0M224.3 289h1.0M193.7 308.1h1.0M202.1 293.6h1.0M197.6 304.1h1.0M204.1 302.3h1.0M226.7 300.9h1.0M242.1 287.8h1.0M219.2 317h1.0M239 313.1h1.0M248.8 303.6h1.0M199.1 311.6h1.0M205.9 308.4h1.0M229.5 317.4h1.0M188.7 308.6h1.0M189.9 298.9h1.0M203.2 313.7h1.0M234.8 315.7h1.0M194.1 324.4h1.0M209.9 311.4h1.0M222.7 314.8h1.0M214.1 288.9h1.0M244.3 296.8h1.0M242.2 310.4h1.0M254 307.6h1.0M229.7 285h1.0M211 326.6h1.0M220.7 312.6h1.0M243.6 287.3h1.0M200.8 290.1h1.0M252.8 292.9h1.0M244.3 288.9h1.0M243.2 296h1.0M202.6 292h1.0M230.3 301.6h1.0M253.6 303.3h1.0M244.2 293.9h1.0M191.6 311.9h1.0M235.1 310.7h1.0M232 294.2h1.0M196.7 314.1h1.0M209.5 319.2h1.0M219.4 292.7h1.0M191.8 315.8h1.0M189.3 322.6h1.0M219.1 299h1.0M245.2 306.5h1.0M235.9 294.9h1.0M208.6 303h1.0M246.2 301.6h1.0M247.9 288.1h1.0M216.1 296.8h1.0M217.4 305.1h1.0M195.7 313.5h1.0M216.2 317.9h1.0M225.8 297.8h1.0M198.4 322.5h1.0M225.6 308.7h1.0M243.8 309.2h1.0M213.8 323.3h1.0M245.4 313.2h1.0M242.3 313.5h1.0M220.6 283.9h1.0M192.4 303.5h1.0M190 295.4h1.0M204.9 313.5h1.0M220.9 305.8h1.0M206.6 288.1h1.0M201 301.9h1.0M198.8 291.8h1.0M221.1 298h1.0M217.9 294.4h1.0M229.9 307.4h1.0M228.7 295.5h1.0M239.2 303.3h1.0M245.4 298h1.0M246.5 308.8h1.0M245.1 309.9h1.0M219.3 313.8h1.0M202.2 308.4h1.0M227.6 282.2h1.0M208.3 304.2h1.0M226.1 312.8h1.0M195 317.8h1.0M195.5 304.7h1.0M239.9 279.1h1.0M216.1 304.2h1.0M248.8 297.1h1.0M237 283.7h1.0M185.4 300.5h1.0M199.1 306.2h1.0M222.7 282h1.0M218.5 318.9h1.0M246.4 303.1h1.0M241 301.2h1.0M231.6 302.9h1.0M221.1 300.2h1.0M215.1 316.4h1.0M188.5 299.4h1.0M251.3 287h1.0M208.7 326.7h1.0M189.8 320.8h1.0M236.8 309.9h1.0M223.6 288h1.0M234.3 276.2h1.0M211.8 300.3h1.0M194.4 327.9h1.0M237.8 307h1.0M233.9 312.8h1.0M220.6 310.5h1.0M237.4 276.6h1.0M238.8 285.7h1.0M202.2 319.7h1.0M200.8 299.6h1.0M232.8 311.9h1.0M212 283.9h1.0M250.6 304.6h1.0M199.5 303.4h1.0M224.4 308.4h1.0M238.6 282h1.0M226.6 287.9h1.0M249.3 308.1h1.0M221.6 294.5h1.0M221.5 302.7h1.0M193.5 297.1h1.0M241.6 298.5h1.0M190.7 306.4h1.0M201.3 303.6h1.0M201.6 311.3h1.0M226.9 285.5h1.0M244.9 279.1h1.0M207.6 305.7h1.0M194.4 318.9h1.0M241.6 286.2h1.0M215.5 310.7h1.0M206.9 328.2h1.0M234.4 298.5h1.0M222.7 305.2h1.0M199.3 301.7h1.0M214.2 298.1h1.0M208.6 306.2h1.0M223.4 295.1h1.0M225.5 292.2h1.0M213.4 309.6h1.0M241.5 307.9h1.0M219.5 305.1h1.0M212.1 290.7h1.0M216.8 293.5h1.0M234.2 302.6h1.0M212.4 319.1h1.0M234.5 296.4h1.0M235.2 291.4h1.0M249.1 293.6h1.0M239.4 307.8h1.0M238 295.3h1.0M204.4 309.3h1.0M204.6 300.1h1.0M221.7 288.7h1.0M183.9 306.7h1.0M256.9 294.8h1.0M224.9 320.6h1.0M217.6 292.5h1.0M247.8 289.3h1.0M242 301.7h1.0M208.6 309h1.0M241.2 304.8h1.0M211.1 298.7h1.0M202.6 326.5h1.0M229.4 298.4h1.0M236.4 300h1.0M229.2 320.1h1.0M209.7 299.9h1.0M203.8 315.5h1.0M212.2 308.2h1.0M200.7 305h1.0M249.7 295.6h1.0M203.7 296.7h1.0M190.4 297.8h1.0M244.9 299.2h1.0M239.5 316.2h1.0M234.3 286.4h1.0M239.8 297.5h1.0M203.4 317.8h1.0M236.9 318.3h1.0M237.2 296.2h1.0M210.5 286.9h1.0M196.1 326.5h1.0M185.6 301.7h1.0M220 281.5h1.0M256.4 301.8h1.0M250.2 310.8h1.0M205.6 320.8h1.0M244.5 302.3h1.0M212.3 294.4h1.0M235.2 279.9h1.0M222 292.1h1.0M193.7 309.9h1.0M211.2 319.3h1.0M252.6 286.6h1.0M238.8 287.6h1.0M211.2 285.7h1.0M194.9 295.1h1.0M192.1 307.5h1.0M217.9 299.1h1.0M250 285.2h1.0M247.6 300.5h1.0M206.5 303.2h1.0M217.4 323h1.0M216.9 311.1h1.0M222.1 287.1h1.0M205.8 325.3h1.0M255.5 295.8h1.0M203.3 295.4h1.0M187.8 305.9h1.0M229.3 305.5h1.0M227.5 313.1h1.0M210 290.9h1.0M228.9 288.5h1.0M255.9 300.4h1.0M253.9 295.1h1.0M224.4 285.3h1.0M226.6 304.7h1.0M233 310.2h1.0M227.8 307.3h1.0M237.8 292.1h1.0M232.6 309h1.0M248.2 307.8h1.0M218.2 281.4h1.0M232.9 317.6h1.0M256.4 293h1.0M214.2 312.8h1.0M210.4 306.4h1.0M188.2 321.3h1.0M249.9 298.8h1.0M219.9 285.5h1.0M211.4 291.7h1.0M235.9 283.2h1.0M255.4 297.5h1.0M193.4 316.5h1.0M206.8 289.7h1.0M200.9 314.1h1.0M210.9 314.4h1.0M196.8 293.2h1.0M210.5 304.6h1.0M190.8 307.9h1.0M193.6 315.1h1.0M232.9 292.6h1.0M187.6 318.6h1.0M188.6 323.6h1.0M204.9 323.8h1.0M237.5 304.8h1.0M202.6 289.2h1.0M200.6 320.4h1.0M231.1 288.6h1.0M191.9 323.7h1.0M184.6 310.1h1.0M233.4 314.8h1.0M242.6 300.3h1.0M223.7 293.3h1.0M244.1 312.7h1.0M228.2 299.3h1.0M194.4 305.9h1.0M226.4 284.5h1.0M196.5 319.9h1.0M213.3 312h1.0M221.5 321.9h1.0M209.9 324.4h1.0M215 324h1.0M236.6 315.2h1.0M205.5 293.1h1.0M225.6 310.3h1.0M199.2 328.8h1.0M236.8 278.4h1.0M231.6 281h1.0M230.9 321h1.0M240.3 285.9h1.0M193.4 311.9h1.0M245.7 300.3h1.0M221.5 317.2h1.0M217.6 306.7h1.0M250.7 309.3h1.0M192.2 301.3h1.0M194.4 299.9h1.0M189 316h1.0M210.4 301.6h1.0M248.9 312.7h1.0M221.6 323.5h1.0M213.9 293h1.0M246.7 281.9h1.0M233.1 276.1h1.0M231.9 283h1.0M246.4 290h1.0M251.9 290.4h1.0M198.7 313.5h1.0M205.8 319.1h1.0M224.3 301.3h1.0M207.9 327.7h1.0M221.6 313.4h1.0M251.5 306.3h1.0M227.8 286.6h1.0M232.2 289.8h1.0M242.7 308.7h1.0M216.3 282.1h1.0M214.9 318.2h1.0M198.3 318.1h1.0M209.9 298.2h1.0M242.2 281.6h1.0M244.7 287h1.0M204.4 321.7h1.0M205.4 316.2h1.0M214 327h1.0M204.1 303.8h1.0M223.7 300.3h1.0M233.4 278h1.0M217.9 286.1h1.0M222.8 313.3h1.0M257.2 297.7h1.0M229.2 312.9h1.0M225.9 293.3h1.0M212.1 327.2h1.0M231.9 308h1.0M193.2 326.5h1.0M216.4 302.5h1.0M209.9 302.7h1.0M199.5 300.4h1.0M247.6 280h1.0M235.4 307.2h1.0M252.8 301.4h1.0M255.4 303.7h1.0M246.3 280.7h1.0M245.1 311.8h1.0M205.6 287.3h1.0M203.7 287.6h1.0M196.1 302.1h1.0M197.5 308.9h1.0M207.4 326.5h1.0M227.4 295h1.0M246.6 299h1.0M240.7 291.5h1.0M243.4 313.9h1.0M210.3 321.4h1.0M235.7 297.1h1.0M236 312.6h1.0M202.9 309.7h1.0M249.2 309.6h1.0M232.8 285.8h1.0M231.9 291h1.0M187.1 310.9h1.0M186.4 308.1h1.0M233.7 308.6h1.0M251.9 283.9h1.0M200.2 307.5h1.0M222.4 320h1.0M242.5 280.3h1.0M203.4 307.2h1.0M248 291.7h1.0M225.2 295.2h1.0M222 309.2h1.0M197.4 302.5h1.0M251.4 299.9h1.0M244.4 303.4h1.0M218.1 316.1h1.0M218.7 289h1.0M192.5 296.3h1.0M205.3 304.2h1.0M193 300.2h1.0M197.1 317.5h1.0M201.9 316.3h1.0M189.3 310h1.0M219.5 311.6h1.0M225.7 290h1.0M235.4 300.8h1.0M208.4 317.5h1.0M229.9 287.2h1.0M241.7 283h1.0M227.3 315.1h1.0M198.6 309.5h1.0M236.5 301.7h1.0M224.6 286.6h1.0M249.8 306.2h1.0M185 305.3h1.0M191.5 309.1h1.0M220.3 320.2h1.0M211.7 317h1.0M214 290.2h1.0M250.5 290.1h1.0M187.2 312.6h1.0M193.1 318h1.0M212.7 298.2h1.0M233 302.4h1.0M215.6 283.5h1.0M229.5 321.5h1.0M247.5 296h1.0M187.9 296.6h1.0M222 285.5h1.0M240.1 313.4h1.0M242.6 307.2h1.0M249.5 283.1h1.0M232.6 319.2h1.0M229.4 294.4h1.0M224 302.8h1.0M210.6 323.4h1.0M206.4 306.7h1.0M231.5 301.2h1.0M235.6 317h1.0M226.8 311.1h1.0M245.9 296.6h1.0M201.2 322.4h1.0M218.3 323.9h1.0M245.3 305.2h1.0M211.7 310h1.0M233.6 295h1.0M216.2 298.9h1.0M245 292.9h1.0M221.8 296.6h1.0M196.4 295.3h1.0M224.1 311.1h1.0M206.3 313.9h1.0M232.9 279.2h1.0M241.1 303.2h1.0M240.9 314.3h1.0M211.7 296.2h1.0M227.3 280.3h1.0M197.9 290.4h1.0M242.6 292.6h1.0M219.5 309.3h1.0M222 283.8h1.0M205.3 299h1.0M206.9 298.9h1.0M243.3 305.7h1.0M190.6 317.1h1.0M230 291.1h1.0M217.1 288.3h1.0M192.3 298.9h1.0M225.4 283.3h1.0M184.3 313.4h1.0M189.3 317.6h1.0M186.6 319.4h1.0M187.9 302.5h1.0M196 322.2h1.0M206.8 291.7h1.0M233.8 318.5h1.0M186.8 306.7h1.0M200.2 315.5h1.0M245.1 285.5h1.0M184.3 302.3h1.0M218.8 290.3h1.0M223.9 322.3h1.0M223.4 309.4h1.0M201.6 328.3h1.0M251.5 296.1h1.0M234.1 300.1h1.0M213.4 285.6h1.0M204 311.5h1.0M206.6 297.5h1.0M229.8 311.2h1.0M247.9 306.4h1.0M208.1 286.3h1.0M253.4 296.9h1.0M212.1 312.4h1.0M247.7 286.8h1.0M213.1 296.8h1.0M187.1 317.3h1.0M195.8 298.4h1.0M193.8 323h1.0M201.6 315.1h1.0M247 294.1h1.0M221.2 290.3h1.0M208 313.8h1.0M217 301.1h1.0M230.7 308.6h1.0M245.6 307.8h1.0M198.3 326.6h1.0M189.3 319h1.0M254.8 289.3h1.0M190.1 301.2h1.0M217.4 318.5h1.0M196.5 300.2h1.0M214.1 320.8h1.0M235.4 309.3h1.0M206.1 309.8h1.0M248.6 295.2h1.0M201.2 296.1h1.0M204.2 293h1.0M198.2 325h1.0M243.9 299.9h1.0M231.9 277.9h1.0M187.9 320h1.0M205 297.7h1.0M227.9 291.9h1.0M246.1 314.3h1.0M242.4 304h1.0M229.9 303.8h1.0M215.2 319.3h1.0M216.8 315.9h1.0M213.8 325.6h1.0M237.4 299.5h1.0M228.5 300.5h1.0M215.1 301.5h1.0M193.3 319.6h1.0M226.7 319h1.0M229 277.5h1.0M245.3 295.1h1.0M235.8 284.9h1.0M229.3 282.2h1.0M220.1 294.2h1.0M206.6 293.2h1.0M223.2 283.7h1.0M253.7 305.7h1.0M217.1 314.8h1.0M195.7 327.6h1.0M213.5 284.2h1.0M207.7 315.2h1.0M220 323.1h1.0M228.8 318.6h1.0M231.2 316.7h1.0M209.5 314.5h1.0M198.6 315h1.0M237.1 303.1h1.0M225.4 314.8h1.0M253.2 304.5h1.0M209 310.6h1.0M253.9 286.1h1.0M235.8 281h1.0M248.3 301.6h1.0M191.3 320.4h1.0M253 288.3h1.0M240.6 282.3h1.0M191 310.9h1.0M192.9 322h1.0M234.2 290h1.0M226.8 291.4h1.0M213.3 304.6h1.0M199.4 318.2h1.0M186.8 303.2h1.0M222.8 299h1.0M222.9 307.3h1.0M214.7 284.8h1.0M226.8 321.3h1.0M197.9 307.3h1.0M193 294.1h1.0M241.3 295.5h1.0M227.6 277.9h1.0M195.2 307.2h1.0M207.7 310.7h1.0M206 326.8h1.0M229.7 279.1h1.0M243.7 280.6h1.0M231.4 306.9h1.0M228.6 315.4h1.0M234.5 281h1.0M223.7 321.1h1.0M256.4 304.3h1.0M218.9 301.7h1.0M205 289.8h1.0M236.9 289.1h1.0M217.6 312.1h1.0M196.2 318.6h1.0M200.4 325.5h1.0M186.3 304.8h1.0M240.7 306.4h1.0M237.6 313h1.0M235.4 290.2h1.0M219.1 297.8h1.0M186.2 309.9h1.0M222.9 302h1.0M228 304.7h1.0M198.6 299h1.0M225.8 279.3h1.0M208.5 323.6h1.0M234.5 287.7h1.0M218.8 282.8h1.0M232.5 304h1.0M221.3 280.8h1.0M231.5 296.2h1.0M240.9 281.2h1.0M185.8 313.5h1.0M249.4 300.4h1.0M210.1 294.3h1.0M215.4 288.1h1.0M224.3 297.9h1.0M216.4 285h1.0M233.2 293.9h1.0M217.8 284.4h1.0M237.1 281.6h1.0M217.4 283h1.0M243.8 307.6h1.0M185.1 311.3h1.0M182.1 300.2h1.0M183.9 299.4h1.0M184.9 297.4h1.0M186.2 296.5h1.0M187.6 294.9h1.0M188.9 293.1h1.0M190.2 291.6h1.0M191.9 291.1h1.0M193.4 289.8h1.0M195.4 288.9h1.0M197.4 287.6h1.0M199.2 287.2h1.0M200.8 285.9h1.0M202.4 284.8h1.0M204.3 284.4h1.0M206.6 283.7h1.0M208 282.5h1.0M209.9 281.8h1.0M211.9 281.5h1.0M213.4 280.2h1.0M215.4 279.7h1.0M216.9 278.7h1.0M218.9 277.8h1.0M221.3 277.4h1.0M222.5 276.4h1.0M225.1 276h1.0M226.6 275h1.0M228.9 274.6h1.0M230.4 274.6h1.0M232.5 273.6h1.0M234.3 273.3h1.0M236.6 273.2h1.0M238 273.9h1.0M240.3 273.9h1.0M242.5 274.5h1.0M244.3 275h1.0M245.6 275.1h1.0M247.8 276.5h1.0M249.4 278.1h1.0M250.9 278.8h1.0M252.4 280.5h1.0M254.1 281.7h1.0M255.9 282.4h1.0M257.1 284.1h1.0M258.6 286.1h1.0M258.5 287.1h1.0M259.4 289.7h1.0M260.1 291.6h1.0M260.4 293.2h1.0M261.6 295.1h1.0M261.6 297.4h1.0M262.2 298.9h1.0M262 301.5h1.0M261.4 302.9h1.0M261.1 305.3h1.0M261.2 307.4h1.0M260.2 308.8h1.0M260.4 310.9h1.0M258.8 312.3h1.0M256.6 313.7h1.0M254.5 314.2h1.0M253.5 315h1.0M251.9 316.5h1.0M250.1 317.5h1.0M248.5 319h1.0M246.6 318.9h1.0M245.1 319.9h1.0M242.7 320.8h1.0M240.4 321.2h1.0M239.1 322.2h1.0M237 322.7h1.0M235.1 323h1.0M232.9 323.8h1.0M231.6 324.9h1.0M229.4 325.7h1.0M228 326.4h1.0M225.8 327.1h1.0M223.9 327.8h1.0M222.1 328.4h1.0M220.2 328.9h1.0M218.3 329.8h1.0M216.1 329.7h1.0M214.5 330.5h1.0M213 331.4h1.0M210 331.6h1.0M208.7 332.4h1.0M206.9 332.3h1.0M204.5 332.2h1.0M202.5 332.4h1.0M200.8 332.5h1.0M198.9 332.1h1.0M197.1 332h1.0M194.8 331.5h1.0M193.7 330.5h1.0M191.6 329.8h1.0M190 328.3h1.0M188.6 326.8h1.0M187.1 325.7h1.0M186.1 324h1.0M185.3 321.6h1.0M184.3 320.4h1.0M184 318.3h1.0M183.3 316.6h1.0M183.3 314.4h1.0M183 312.5h1.0M182.7 310.7h1.0M182.4 308.5h1.0M182.4 306.4h1.0M181.9 304.7h1.0M182.2 302.6h1.0" stroke="#c4c4c4" stroke-width="1.0" fill="none" opacity="0.78"/>
<text x="191.7" y="270.6" font-size="12.9" fill="#fff"><tspan font-style="italic">n</tspan> = 4485</text>
<path d="M221.6 405.6h1.0M247.3 377.1h1.0M232 379.5h1.0M206.8 399.1h1.0M201.7 399.9h1.0M211 407.1h1.0M205.4 408.1h1.0M187.1 417h1.0M206.6 431.1h1.0M247.8 388.7h1.0M228.3 402.7h1.0M254.6 373.3h1.0M217.5 422h1.0M186.7 426.5h1.0M190.6 415.1h1.0M239.4 388.1h1.0M204.4 425h1.0M257.7 373.1h1.0M207.1 426.9h1.0M212.2 425.8h1.0M217.9 403.5h1.0M221.5 417.7h1.0M202.3 403.2h1.0M245.1 375.8h1.0M204.3 431.9h1.0M198.4 423.9h1.0M240.2 372.6h1.0M187.9 407.2h1.0M233.5 383.4h1.0M193.9 409.2h1.0M208.6 398.1h1.0M216.6 397h1.0M208.1 415.3h1.0M199.8 408.4h1.0M222 391.6h1.0M252.2 380.4h1.0M219.5 388.5h1.0M224.3 408.9h1.0M184.8 419.5h1.0M214.5 394.6h1.0M207.1 411.9h1.0M205.3 423.6h1.0M227.7 384.9h1.0M251 384.8h1.0M232.4 393h1.0M202.7 421.6h1.0M250.2 379.1h1.0M242.6 374.7h1.0M191.2 422.2h1.0M231.8 386.1h1.0M192.8 401.2h1.0M250.3 388.9h1.0M255 381.2h1.0M189.7 410.6h1.0M228.8 396.2h1.0M246.9 370.3h1.0M249.9 387.1h1.0M196.3 402.6h1.0M191.8 430.8h1.0M239.5 377.7h1.0M248.8 376h1.0M237.1 389.1h1.0M230.3 399.9h1.0M214.8 416h1.0M219.3 391h1.0M216.4 393.7h1.0M197.3 424.4h1.0M199.5 406.4h1.0M213.8 403.8h1.0M210.6 430.7h1.0M205.3 411.3h1.0M197.1 403.4h1.0M211.3 403.7h1.0M255.3 367.9h1.0M241.7 396h1.0M245.4 393.3h1.0M209.4 403.1h1.0M205.5 431.8h1.0M198.7 398.3h1.0M215.6 417.2h1.0M249.7 390.7h1.0M232.9 397.7h1.0M189.9 418.4h1.0M236 394.5h1.0M245.2 384.9h1.0M231 397.2h1.0M214.9 408.8h1.0M194.9 418.2h1.0M228.9 394.9h1.0M206.6 415h1.0M247.5 375.1h1.0M245.6 377.9h1.0M217 414.5h1.0M241.4 375.8h1.0M238.6 398.4h1.0M190.4 430h1.0M255.2 371.7h1.0M217.4 420.5h1.0M192.6 421.8h1.0M214.7 425.5h1.0M224 398.4h1.0M230 394.1h1.0M248.6 387.5h1.0M201 424.2h1.0M241.1 381.7h1.0M199.8 415.7h1.0M241 377.8h1.0M209.1 429.1h1.0M236.8 385.7h1.0M189.8 416h1.0M202.9 407.1h1.0M239 373.5h1.0M220.5 408.5h1.0M203.8 429.5h1.0M217.6 411.1h1.0M237.3 396.9h1.0M192.2 424.5h1.0M253.2 370.6h1.0M223.2 388.1h1.0M225.3 401.5h1.0M215.1 405.9h1.0M224.2 407.6h1.0M212.2 423.1h1.0M217.7 392.7h1.0M211.3 424.1h1.0M184.8 417.9h1.0M186.4 411.7h1.0M234.1 376.1h1.0M189.4 414.8h1.0M243.8 387.5h1.0M231.4 404.8h1.0M210.8 406h1.0M244.6 372.9h1.0M200.4 418h1.0M212.1 429.1h1.0M225.6 410h1.0M209.5 424.1h1.0M215.6 391h1.0M230.5 379.8h1.0M192.4 406.3h1.0M225.5 397.5h1.0M236.1 400.9h1.0M207.3 423.4h1.0M223.1 397.3h1.0M212.8 398.8h1.0M196 412.9h1.0M188.5 413.8h1.0M252.2 369h1.0M218.7 401.3h1.0M189.7 426.4h1.0M210.6 421.5h1.0M195.8 420.3h1.0M223.6 390.1h1.0M195.9 429.3h1.0M251.6 373.4h1.0M211.9 415.8h1.0M208.1 420.2h1.0M226 400.3h1.0M202 397.5h1.0M213.1 428.4h1.0M253.3 381.1h1.0M215.5 423.2h1.0M192.7 417.8h1.0M205.1 404.1h1.0M200.9 403.6h1.0M240.3 378.8h1.0M246.2 379.5h1.0M231.6 401.7h1.0M193.9 403.3h1.0M239.9 397h1.0M218.7 395.3h1.0M212.7 397.1h1.0M236.3 377.5h1.0M205.7 420.5h1.0M188.6 420.9h1.0M227.4 381.1h1.0M231.4 382.8h1.0M213.2 408.7h1.0M220.7 397.2h1.0M191.5 428.1h1.0M237.9 388.2h1.0M243 373.4h1.0M188 423h1.0M212.8 390.9h1.0M244.5 376.8h1.0M202 426.6h1.0M188.5 408.6h1.0M192.6 414.3h1.0M254.7 384h1.0M240.7 399.7h1.0M197.6 413.2h1.0M197.4 406.1h1.0M202.2 430.4h1.0M254.6 382.5h1.0M217.5 405.3h1.0M241.4 386.8h1.0M190 407.9h1.0M240.9 392.3h1.0M192.6 407.5h1.0M198.9 428.2h1.0M201.7 429h1.0M200 414h1.0M251.4 377.6h1.0M198.6 417.4h1.0M201.2 406.1h1.0M217.5 407.4h1.0M250.7 381.7h1.0M216.1 401.3h1.0M213.2 420.3h1.0M213.1 401.7h1.0M249.9 380.3h1.0M191.5 423.4h1.0M204.1 410.4h1.0M256.8 370.4h1.0M243.6 384h1.0M185.5 425.1h1.0M221.5 409.4h1.0M221.7 411h1.0M198.5 402.9h1.0M198.7 425.3h1.0M221.9 401.7h1.0M201.7 425.3h1.0M237.8 393.3h1.0M238.9 382.1h1.0M236.5 391.2h1.0M242.5 386.1h1.0M204.2 411.8h1.0M222 412.8h1.0M250 376.6h1.0M241.5 380.4h1.0M185.4 414h1.0M243.2 395.3h1.0M212.4 414.6h1.0M203.1 425.1h1.0M246.3 389.5h1.0M195.3 408.8h1.0M228.8 380.9h1.0M185.3 421.3h1.0M230.2 392.4h1.0M244.4 391.9h1.0M224.4 384.3h1.0M243.8 379.7h1.0M227.6 391.9h1.0M248.8 383.2h1.0M248.8 368.6h1.0M243.4 370.4h1.0M206.1 416.9h1.0M218.4 389.7h1.0M198.9 413h1.0M250.7 382.9h1.0M223.9 403.8h1.0M208.5 418.9h1.0M186.8 419.9h1.0M209.6 413.7h1.0M203.2 405.2h1.0M185.5 411h1.0M219.4 402.5h1.0M225 413.2h1.0M222.6 407.4h1.0M238.1 379.5h1.0M228.7 382.1h1.0M202.3 413.7h1.0M200.4 426.1h1.0M205.9 413h1.0M214 400.3h1.0M210.7 409.4h1.0M220.8 406.9h1.0M214.7 413.6h1.0M218.3 399.7h1.0M208.8 410.5h1.0M255.5 377.7h1.0M244.1 390.2h1.0M194.9 414.2h1.0M189.3 431.7h1.0M202.2 420.1h1.0M230.7 390.1h1.0M256.3 373.6h1.0M209.8 426.8h1.0M189.5 412.8h1.0M251.6 386.3h1.0M235.2 383.9h1.0M205.2 400.5h1.0M213.1 413.3h1.0M227.8 405.2h1.0M237.8 374.8h1.0M209.4 422.9h1.0M211 397h1.0M200.6 407.4h1.0M253.8 375.2h1.0M227.9 386.5h1.0M202.4 408.4h1.0M234 400.4h1.0M210.2 408.4h1.0M197.6 408.7h1.0M225.7 407.8h1.0M185.7 415.7h1.0M219.7 394.3h1.0M210.4 417.4h1.0M217 429.1h1.0M224.4 395.7h1.0M209.3 421.7h1.0M201.1 402.4h1.0M222.6 395.1h1.0M238.5 400.6h1.0M196.8 414.3h1.0M194.4 412.7h1.0M242.5 390.2h1.0M225.1 392.4h1.0M230.8 394.9h1.0M218 397.9h1.0M248.3 385.8h1.0M200.1 421.1h1.0M245 387.4h1.0M203.5 414.4h1.0M186.4 418.3h1.0M208.4 412h1.0M208.8 409.2h1.0M226.1 403.9h1.0M195.4 399.4h1.0M245 368h1.0M253.7 378.4h1.0M251.9 379.1h1.0M245 380.6h1.0M214.8 401.7h1.0M189.1 428.2h1.0M217.1 426.7h1.0M236.5 375.6h1.0M208.1 430.9h1.0M250.2 375.2h1.0M187.6 411.6h1.0M192.5 403.1h1.0M247 380.5h1.0M235.3 395.5h1.0M207.3 403.8h1.0M241.3 372.2h1.0M195.2 416.6h1.0M215 407.6h1.0M232.3 390.6h1.0M222.5 393.9h1.0M187.2 414.6h1.0M215.3 397.4h1.0M232.4 405.3h1.0M207.9 402h1.0M195 400.9h1.0M193.9 427.6h1.0M208.3 426.9h1.0M236.1 402.2h1.0M249.8 385.3h1.0M189.9 423.1h1.0M205 413.8h1.0M227.1 390.2h1.0M229.8 403.2h1.0M200.7 411.9h1.0M242.4 388.1h1.0M203 423.3h1.0M199.9 403h1.0M235.3 379.7h1.0M187.5 427.5h1.0M192.7 411.6h1.0M195.8 432.4h1.0M235.4 376.1h1.0M212.3 405.2h1.0M239.9 385.8h1.0M196.2 410.8h1.0M245.5 369.5h1.0M230.2 383h1.0M257 374.6h1.0M199.2 431.1h1.0M193.4 423.3h1.0M205.4 415.4h1.0M213.4 422.5h1.0M189.5 404.9h1.0M242.6 393.8h1.0M212.3 410.3h1.0M226.4 408.8h1.0M218.9 414.5h1.0M240 390.3h1.0M210.7 394.7h1.0M203.1 396.5h1.0M197.7 410.4h1.0M193.1 413h1.0M198.8 400.4h1.0M224.7 411.3h1.0M256.2 381.8h1.0M234.2 393.3h1.0M197.4 428.3h1.0M249.9 367.1h1.0M209.5 405.6h1.0M202.5 431.7h1.0M229.3 388.8h1.0M200.6 400.8h1.0M201 398.6h1.0M214.2 393h1.0M236.4 383.2h1.0M203.7 418h1.0M238 376.7h1.0M216.5 399.3h1.0M206.9 394.3h1.0M225.6 390.9h1.0M195 409.9h1.0M232.8 400.7h1.0M210.2 392.8h1.0M225.1 386.3h1.0M238.6 380.8h1.0M235.1 381.1h1.0M249.7 370.1h1.0M188 424.3h1.0M207.1 429.1h1.0M254.9 379.1h1.0M255.2 370h1.0M196.1 406.5h1.0M240.2 395.6h1.0M207.9 405.2h1.0M247.8 393.3h1.0M231.1 387.6h1.0M257.6 379.2h1.0M243.2 385.1h1.0M246.3 395h1.0M194.3 415.7h1.0M216.2 427.5h1.0M215.8 410h1.0M233.4 381.4h1.0M236.1 396.9h1.0M197 404.6h1.0M229.2 399.6h1.0M209.5 400.8h1.0M235.8 387.3h1.0M233.8 391.6h1.0M197.4 432.5h1.0M236.4 392.8h1.0M192.7 428.9h1.0M221.3 387.8h1.0M220.9 415.6h1.0M198.9 407.5h1.0M199.7 398.9h1.0M234.3 389.2h1.0M214.4 430.1h1.0M202.1 411.4h1.0M209.5 395.3h1.0M211 414.2h1.0M190.1 421.9h1.0M252.1 384h1.0M184.9 412.9h1.0M211.8 393.3h1.0M228.5 387.5h1.0M218.1 427.9h1.0M246.5 386.1h1.0M217.1 413.1h1.0M230.4 406.6h1.0M247.9 367.8h1.0M220 410.3h1.0M206.9 420.5h1.0M193.4 426.5h1.0M229.5 401.8h1.0M187.3 430.5h1.0M192.6 408.7h1.0M200.6 405.1h1.0M240.6 382.8h1.0M197.1 429.5h1.0M213.5 424.5h1.0M194.3 431.7h1.0M214.1 396.9h1.0M197.1 398.7h1.0M212.5 392.1h1.0M208.5 425.5h1.0M241.4 373.3h1.0M202.2 402h1.0M234.5 398h1.0M217.1 388.5h1.0M251.4 368h1.0M215.9 419.6h1.0M199 429.7h1.0M222.1 390.1h1.0M230.3 386.8h1.0M231.7 381.4h1.0M241.7 370.8h1.0M208.1 406.7h1.0M199.5 427.1h1.0M236.3 380.7h1.0M194 421.8h1.0M233.1 377.5h1.0M193.5 424.5h1.0M247.1 378.6h1.0M194.8 425.2h1.0M220.1 419.3h1.0M220.4 421.6h1.0M186.2 423.1h1.0M207.9 413.4h1.0M219.6 399.6h1.0M212 395.1h1.0M188.9 430.4h1.0M232.4 388.2h1.0M200.1 428.8h1.0M198 418.6h1.0M223.4 402.5h1.0M219.6 422.6h1.0M219.1 417.1h1.0M219.6 420.4h1.0M227.3 407.2h1.0M234.8 401.4h1.0M227.2 400.8h1.0M195.2 427.6h1.0M241.7 398.7h1.0M233.2 404.1h1.0M240.1 398.7h1.0M249.3 381.3h1.0M233.4 386.2h1.0M210.3 415.8h1.0M211.3 399.7h1.0M246.6 372h1.0M241.6 383.7h1.0M227.1 394.3h1.0M253.6 367.7h1.0M247.8 371.3h1.0M234.9 390.5h1.0M210 399.8h1.0M214.5 411.6h1.0M200.5 397.2h1.0M228.8 390.3h1.0M248.8 389.6h1.0M198.5 405.3h1.0M230 385h1.0M204.1 416.5h1.0M208.3 400.8h1.0M221.8 386.7h1.0M249.3 373.1h1.0M218.4 424.4h1.0M189 419.8h1.0M206.2 418.3h1.0M241.4 390.9h1.0M191.9 404.3h1.0M237.1 400.2h1.0M207.6 424.6h1.0M220.4 393.2h1.0M206.6 397.5h1.0M194 407.7h1.0M250.4 374h1.0M251.7 388.3h1.0M210.9 425.8h1.0M194.6 430h1.0M198.9 410.4h1.0M212.1 400.7h1.0M216.9 395h1.0M188.5 425.7h1.0M220 390.1h1.0M193.2 420.5h1.0M239.6 376.6h1.0M211.6 402.2h1.0M235.6 399.6h1.0M200.5 430.6h1.0M221.8 403.2h1.0M203.9 427.3h1.0M244.5 381.8h1.0M197.8 415.4h1.0M193.5 404.8h1.0M206.6 402.8h1.0M212.8 402.9h1.0M204.1 406h1.0M233.8 388.1h1.0M235.3 382.5h1.0M210.3 411.5h1.0M195.3 411.8h1.0M185.5 427h1.0M201.3 422.8h1.0M208 421.9h1.0M224 393.4h1.0M202.1 416.5h1.0M238 386.1h1.0M213.4 426.7h1.0M227.2 409.6h1.0M204.4 422.5h1.0M197.5 421.1h1.0M214.2 405.1h1.0M219.3 404.9h1.0M230.5 381.6h1.0M257.3 380.7h1.0M227 406.1h1.0M192.3 415.8h1.0M218.4 425.7h1.0M196.9 400h1.0M204.1 397.1h1.0M249.8 378.1h1.0M251.8 370.2h1.0M238.5 391.2h1.0M214.3 427.8h1.0M232.1 378.2h1.0M188 429.6h1.0M215.7 412.7h1.0M242.8 371.8h1.0M229.8 397.1h1.0M207.2 419.1h1.0M246.4 392.7h1.0M206.3 425.6h1.0M213.6 414.4h1.0M226.3 387.4h1.0M224.2 414.9h1.0M216 426.3h1.0M204.1 408.3h1.0M213.5 416.8h1.0M219.1 407.9h1.0M242.4 378.5h1.0M223.9 401.5h1.0M198.9 421.1h1.0M228.7 408.5h1.0M245.5 391.5h1.0M224.7 400.5h1.0M198.7 419.8h1.0M218.3 413.4h1.0M237.3 382.5h1.0M228 383.1h1.0M237 378.8h1.0M206.9 395.6h1.0M197.3 426.6h1.0M226.8 396.4h1.0M211.6 418.1h1.0M229 391.5h1.0M225.9 389.5h1.0M238.6 395h1.0M200.8 416.4h1.0M210.2 412.7h1.0M247.5 363.6h1.0M249.6 363.9h1.0M251.5 364.5h1.0M253.8 364.8h1.0M255.8 364.5h1.0M257.3 365.9h1.0M259 367.9h1.0M259.6 368.9h1.0M260.7 371.2h1.0M262.2 373.2h1.0M261.6 375.3h1.0M261.6 377.6h1.0M260.4 379.1h1.0M260.3 381.6h1.0M260.2 383.5h1.0M258.8 385.2h1.0M257.3 386.7h1.0M255.8 388.6h1.0M254.1 390.2h1.0M253 391.7h1.0M251.4 393.9h1.0M250 394.9h1.0M248.7 396.9h1.0M247.2 398.5h1.0M245.6 400.1h1.0M243.8 401.2h1.0M242.4 402.1h1.0M240.5 403.8h1.0M239.1 404.9h1.0M237.3 406h1.0M235.3 407.8h1.0M233.2 408.8h1.0M232 409.8h1.0M230.3 411.4h1.0M229.5 413.1h1.0M228 415.2h1.0M227.1 416.8h1.0M226.2 418.4h1.0M224.7 420.5h1.0M223.6 422.2h1.0M222.9 424.8h1.0M222.4 426.5h1.0M220.9 428.1h1.0M220.6 430.7h1.0M219.1 432.4h1.0M217.8 433.2h1.0M215 433.3h1.0M213.4 433.6h1.0M211.2 434.2h1.0M209 434.5h1.0M207.1 434.8h1.0M204.6 434.8h1.0M203 435.1h1.0M200.5 435.5h1.0M198.3 436h1.0M196.4 435.7h1.0M194.2 435.4h1.0M191.9 435.5h1.0M189.5 435.4h1.0M187.7 435h1.0M185.7 435.2h1.0M184.2 434h1.0M183.6 431.5h1.0M183.1 429.2h1.0M182.4 427.5h1.0M181.9 425.5h1.0M181.2 423.8h1.0M181.2 421.1h1.0M181.6 418.8h1.0M182 417h1.0M182.1 415h1.0M181.7 412.5h1.0M182.4 410.6h1.0M182.8 408.7h1.0M183.6 406.6h1.0M185.2 404.9h1.0M187 403.9h1.0M188.1 402.3h1.0M189.3 400.7h1.0M191.4 398.5h1.0M192.6 397.4h1.0M194.8 396.6h1.0M196.1 396.1h1.0M198.4 394.7h1.0M200.1 394.1h1.0M202.8 393.3h1.0M204.3 392.4h1.0M206.5 391.6h1.0M208.6 390.5h1.0M210.3 389.1h1.0M211.9 388.5h1.0M213.9 387h1.0M215.7 386h1.0M217.7 384.7h1.0M219.3 383h1.0M221.2 382.4h1.0M223 381.1h1.0M224.6 379.6h1.0M226.2 378.4h1.0M228.2 377.3h1.0M229.9 376.2h1.0M231.8 374.9h1.0M233.7 373.6h1.0M235.2 372.7h1.0M236.9 371.6h1.0M238.5 370.1h1.0M240 369h1.0M242.8 367.7h1.0M243.8 366.4h1.0M245.8 364.6h1.0" stroke="#c4c4c4" stroke-width="1.0" fill="none" opacity="0.78"/>
<text x="191.7" y="366.1" font-size="12.9" fill="#fff"><tspan font-style="italic">n</tspan> = 4163</text>
<path d="M342.4 287.5h1.0M287.4 310.5h1.0M307.4 308.2h1.0M285.3 310h1.0M287.9 302.1h1.0M323.7 311.2h1.0M337.3 288.2h1.0M318.7 277.2h1.0M340.3 286.1h1.0M331.2 297.9h1.0M303.9 306.1h1.0M295.4 320.5h1.0M333 284.5h1.0M336.1 299.6h1.0M347.9 289.7h1.0M339.5 289.1h1.0M301.5 315.7h1.0M326.1 284.4h1.0M344.1 309.5h1.0M288.8 312.1h1.0M294.6 306.3h1.0M329.2 298.1h1.0M291.5 301.3h1.0M297.9 312.6h1.0M294.2 305.7h1.0M318 297.8h1.0M350.7 298h1.0M311.7 310.6h1.0M302.1 295.8h1.0M313.2 311.3h1.0M346.4 302.6h1.0M305.2 301.2h1.0M289.9 311.3h1.0M330.5 316.1h1.0M346.2 301.7h1.0M317.9 289.4h1.0M350.2 299.1h1.0M320.4 304.6h1.0M298.2 294.7h1.0M331.7 315.1h1.0M298.5 315.8h1.0M300.2 311.5h1.0M334.5 274.4h1.0M304.1 302.2h1.0M335.6 280h1.0M317 275.9h1.0M339.5 297.2h1.0M346.7 303h1.0M349 296.2h1.0M351.2 285.7h1.0M338.7 274.4h1.0M332.7 286.8h1.0M342.1 307.5h1.0M297.5 323.4h1.0M317.6 325.2h1.0M313.6 289.8h1.0M321.4 320.9h1.0M307.7 303.7h1.0M317.2 291.6h1.0M314.1 282.9h1.0M313.3 295.9h1.0M295.6 310h1.0M310.2 297.1h1.0M312.7 315.4h1.0M340.6 296.5h1.0M308.7 309.3h1.0M328.8 274.7h1.0M343.6 299.4h1.0M299.4 305.7h1.0M342.6 294.3h1.0M290.6 317.8h1.0M305.5 307.5h1.0M305.9 298.2h1.0M319.8 310.2h1.0M308.6 322.6h1.0M335.9 286.2h1.0M290.5 308.2h1.0M341.8 283h1.0M333.4 305.3h1.0M351 301.8h1.0M308.4 306.3h1.0M318.4 281.5h1.0M333.2 309.9h1.0M346.6 284.2h1.0M324.8 312.8h1.0M320.9 295.5h1.0M315.5 325.6h1.0M307.3 298.7h1.0M348.4 300.5h1.0M300.8 294.8h1.0M325.4 307.8h1.0M303.6 319.9h1.0M290.7 312.1h1.0M314 311.8h1.0M322.9 293.6h1.0M305.1 316.9h1.0M311.2 319.2h1.0M353.6 286h1.0M326.1 281.8h1.0M292.8 310.5h1.0M316.5 321.9h1.0M355.7 290.2h1.0M300.4 303.3h1.0M334.6 276.5h1.0M318.5 284.3h1.0M345.7 289.2h1.0M299.4 316.8h1.0M336.8 294.8h1.0M334.2 291.4h1.0M294.2 308.6h1.0M316.7 314.2h1.0M290.3 303.5h1.0M346 291.9h1.0M314.3 306.8h1.0M308.6 306.5h1.0M298.3 298.4h1.0M329.8 310.1h1.0M311.9 307.2h1.0M347.7 301.4h1.0M287.8 306.1h1.0M318.1 286.2h1.0M341.1 292.7h1.0M291.3 319.3h1.0M355.5 293.1h1.0M317.9 306.7h1.0M299.8 307h1.0M312 313.6h1.0M329.6 291.1h1.0M296.9 319.4h1.0M347.6 297.9h1.0M344.6 285.9h1.0M351.5 290.5h1.0M311.7 306.1h1.0M337.8 287.9h1.0M299.2 308.8h1.0M303.8 293.8h1.0M332 293.8h1.0M338.7 277.9h1.0M295.9 307.2h1.0M305.4 295.2h1.0M334.3 315.7h1.0M295.4 298.1h1.0M353.5 303.2h1.0M347.1 289.9h1.0M348 296.5h1.0M337.2 307.4h1.0M310.8 289.2h1.0M328.1 289h1.0M340.3 286.9h1.0M297.9 296.7h1.0M345.4 280.5h1.0M315.3 282.5h1.0M319.1 311.3h1.0M322.7 278.4h1.0M336.6 308.1h1.0M357.9 287.4h1.0M297 314.9h1.0M289.7 303.6h1.0M316.3 322.6h1.0M355.3 292.3h1.0M315.5 276.6h1.0M322.9 317.6h1.0M310.4 313.4h1.0M294 317.6h1.0M339.8 310.1h1.0M295.2 314.4h1.0M287.9 306.3h1.0M338.3 295.7h1.0M310.8 302.7h1.0M302.6 304.5h1.0M291 309.8h1.0M286 313.2h1.0M331.1 294.5h1.0M358.7 296.1h1.0M324.9 313.9h1.0M292.7 316.4h1.0M354.2 294.7h1.0M311.1 304.2h1.0M331.2 311.8h1.0M350.3 281.1h1.0M307.3 318.1h1.0M326 294.3h1.0M359.4 291.3h1.0M329.7 279.4h1.0M354.6 293.6h1.0M289.2 303.2h1.0M317.1 296.7h1.0M342.1 291.7h1.0M336.8 290.8h1.0M311.8 280.5h1.0M302.8 322.3h1.0M325.2 298.7h1.0M309.3 324.4h1.0M346.3 285.1h1.0M314.4 324.4h1.0M302 308.2h1.0M339.7 312.6h1.0M324.4 281.7h1.0M325.7 318.6h1.0M309.8 315.1h1.0M315.6 281.7h1.0M353.2 294.1h1.0M307.1 311.4h1.0M317.8 318.8h1.0M344.8 301.9h1.0M327 314.4h1.0M333.3 286.4h1.0M311.7 297.9h1.0M285.6 313.5h1.0M300.5 307.4h1.0M296.3 313.7h1.0M330.8 304.1h1.0M309.9 317.7h1.0M307.4 321.5h1.0M344.7 283.6h1.0M343.3 288.6h1.0M311.5 312.8h1.0M315.2 287.1h1.0M331.4 276.8h1.0M315.3 320.5h1.0M321.3 289.3h1.0M349.8 296.2h1.0M354.7 287.3h1.0M335.3 278.8h1.0M297.6 302.7h1.0M296.1 304.8h1.0M317.5 279.8h1.0M332.1 298.1h1.0M304 306.9h1.0M322.6 293.1h1.0M326.4 294.7h1.0M311.1 303h1.0M322.5 276.8h1.0M306.6 309.7h1.0M314.8 288.3h1.0M315.9 294.1h1.0M300.7 315.8h1.0M320.4 287h1.0M337.3 309.5h1.0M319.8 289.9h1.0M342.8 283.9h1.0M313.2 296.8h1.0M341.6 277h1.0M313.2 308.5h1.0M332.7 281.2h1.0M348 288.7h1.0M306.2 293.6h1.0M309.5 317.3h1.0M314.4 315.8h1.0M345.1 282.9h1.0M310.7 314.3h1.0M345.3 291.5h1.0M342.3 281.9h1.0M322.9 289.1h1.0M291.1 300h1.0M330.4 302.4h1.0M323.4 315.6h1.0M287.7 315.5h1.0M304.1 323.7h1.0M341.8 299.8h1.0M321.2 307.8h1.0M320 316.3h1.0M318.7 315.9h1.0M345.9 286.4h1.0M332 299.9h1.0M341.2 293.9h1.0M312.7 307.8h1.0M331.3 289.4h1.0M347.7 282.7h1.0M342.9 297.3h1.0M339.4 307.5h1.0M322.1 274.8h1.0M338 287.2h1.0M343.9 303.7h1.0M339.8 305.3h1.0M336.4 310.4h1.0M288.6 316.4h1.0M298.4 310h1.0M327.2 296h1.0M319.2 292.4h1.0M345.3 304.7h1.0M318.4 314.5h1.0M342.5 296h1.0M319.9 316.8h1.0M339.5 289h1.0M349.5 286.7h1.0M295.3 301.5h1.0M338.4 280.8h1.0M328.7 274.5h1.0M320.8 289.8h1.0M325.6 292.2h1.0M345 293.3h1.0M295.6 309.5h1.0M319.8 280.8h1.0M356.7 292.3h1.0M297.2 303.8h1.0M300.2 297.1h1.0M303.6 308.2h1.0M285.9 309.7h1.0M332.6 286.1h1.0M296.8 304h1.0M321.4 284.4h1.0M350 292.3h1.0M301.1 292.1h1.0M317.2 312.6h1.0M350.5 290.5h1.0M305.8 303.5h1.0M315.1 309.6h1.0M311.4 289h1.0M331.8 299.5h1.0M334.5 281.1h1.0M341.1 305.8h1.0M348.2 287.3h1.0M301.5 318.7h1.0M295.1 307.1h1.0M325 310h1.0M318.5 293.1h1.0M299.9 314.5h1.0M314.3 296.2h1.0M303 304.2h1.0M291.6 305.5h1.0M331.1 290.8h1.0M318 291h1.0M325.7 296.1h1.0M295.8 297.2h1.0M354.7 294.4h1.0M290.2 309.4h1.0M313.3 284.8h1.0M323.5 314.1h1.0M308.7 302.9h1.0M323.2 293.4h1.0M304.4 323.6h1.0M320.5 314.1h1.0M340.2 287.6h1.0M355.8 285.7h1.0M332.9 287.5h1.0M295.1 320.5h1.0M284.4 305.7h1.0M315.3 308.5h1.0M310.5 309.3h1.0M344.2 280.3h1.0M338.1 303.6h1.0M357.4 289.7h1.0M307.1 312.6h1.0M303.2 313.2h1.0M313.3 293.1h1.0M325.6 282.6h1.0M332.2 288.9h1.0M293.4 315.4h1.0M289.8 300.1h1.0M318 310.1h1.0M329.1 274.7h1.0M337 279.6h1.0M346.4 295.6h1.0M327.5 294.9h1.0M352.2 286.7h1.0M340 296.5h1.0M295.3 315.2h1.0M347 297.3h1.0M307 305.3h1.0M334.2 288.5h1.0M297 303.7h1.0M337.7 294.9h1.0M356.8 289h1.0M330.7 281.2h1.0M336.2 301.7h1.0M329.9 309h1.0M345.4 278.2h1.0M304.5 324h1.0M314.5 319.6h1.0M290.2 313.3h1.0M354.4 286.2h1.0M321.2 310.6h1.0M299.7 319.2h1.0M343.8 281.6h1.0M329.9 308.6h1.0M322.7 299.4h1.0M302.1 297.8h1.0M322 320h1.0M317.4 316.7h1.0M317.6 298.9h1.0M303.1 302.2h1.0M308.5 291h1.0M335.8 301.4h1.0M349.2 284.8h1.0M291.1 315.5h1.0M352.3 299.9h1.0M311.1 321.7h1.0M313.6 306.7h1.0M293.4 307.8h1.0M307.5 320.4h1.0M309.2 292.2h1.0M332.9 288.2h1.0M283.3 306.1h1.0M307.9 314.7h1.0M306.8 313.7h1.0M299.2 312.4h1.0M302.6 301.4h1.0M317.6 294.9h1.0M296.7 318.6h1.0M306 302.2h1.0M312.1 303.4h1.0M337.8 275.5h1.0M341.7 287.9h1.0M287 307.8h1.0M284.8 303.9h1.0M309.7 300.3h1.0M344.2 280h1.0M331.5 296.7h1.0M348.9 294h1.0M317.9 322.3h1.0M355.4 296.5h1.0M325.6 285.3h1.0M303.7 298.9h1.0M353.7 300.8h1.0M295.9 310.8h1.0M333.9 314.8h1.0M331.7 277.3h1.0M349.9 288.1h1.0M323 308.6h1.0M348.3 283.4h1.0M334.4 299.1h1.0M301.8 311h1.0M316.2 314.8h1.0M349.6 283.1h1.0M324.5 296.7h1.0M291.8 306.8h1.0M314.6 282.5h1.0M329.8 292.8h1.0" stroke="#c4c4c4" stroke-width="1.0" fill="none" opacity="0.85"/>
<text x="285.7" y="270.6" font-size="12.9" fill="#fff"><tspan font-style="italic">n</tspan> = 477</text>
<path d="M304.9 416.2h1.0M345 377.6h1.0M297.3 405.3h1.0M323.2 392.7h1.0M332.4 380.3h1.0M317.2 400.8h1.0M331.7 380.5h1.0M340 370.1h1.0M354.1 371h1.0M325 389.5h1.0M329.8 393.7h1.0M345.9 380.3h1.0M317.1 410.4h1.0M298 415.3h1.0M308.7 401.2h1.0M329.4 391.1h1.0M289.1 420h1.0M318.5 406.3h1.0M288.9 409.2h1.0M322.7 387.1h1.0M329.7 376h1.0M352.7 367.7h1.0M292.1 404.9h1.0M331.6 391.1h1.0M321.5 386.8h1.0M322.5 400h1.0M307 427.3h1.0M314.9 394.5h1.0M321.5 394.7h1.0M323.9 390.1h1.0M302.7 420.1h1.0M350.1 377.3h1.0M281.6 413.8h1.0M295.2 406.1h1.0M323.6 392.3h1.0M353.1 379.2h1.0M321.5 401.8h1.0M337.6 371.4h1.0M298.1 402.1h1.0M304.7 405.2h1.0M337.5 385.2h1.0M300.3 418.7h1.0M300.2 401.2h1.0M338.6 375h1.0M327.2 384.8h1.0M350.5 391.8h1.0M311.1 421.2h1.0M304.7 419h1.0M294.8 418.9h1.0M347.2 382.2h1.0M281.2 410.8h1.0M338.4 378.2h1.0M314.3 419.1h1.0M346.8 371.8h1.0M340.8 391.1h1.0M337.9 398.3h1.0M346 368.5h1.0M345.5 383.8h1.0M338.9 380.8h1.0M305.7 421.6h1.0M328.1 403.3h1.0M323.9 393.9h1.0M356.6 372.8h1.0M350.6 371.4h1.0M310.9 399.3h1.0M353.6 382.7h1.0M347.2 370.4h1.0M291.5 418.5h1.0M306.7 420.3h1.0M324.1 395.5h1.0M345 389.6h1.0M323 397.7h1.0M296.3 423.2h1.0M292.6 420.7h1.0M304 411.8h1.0M329.9 391.5h1.0M299.3 413.3h1.0M330.2 383.7h1.0M335.2 388.9h1.0M340.5 382.1h1.0M316.3 423.5h1.0M312 422.7h1.0M335.8 385h1.0M308.3 395.1h1.0M333.1 376.4h1.0M349.7 384.3h1.0M331.4 387.5h1.0M351.9 366.4h1.0M297.7 403.8h1.0M302.5 403.8h1.0M347 383.9h1.0M294.2 410.9h1.0M291.8 407.9h1.0M349.5 372.7h1.0M344.9 391.8h1.0M314.5 413.7h1.0M278.3 413.3h1.0M338.4 379.1h1.0M341.8 388.3h1.0M293.1 406.2h1.0M344.3 377.6h1.0M339.4 397.4h1.0M299.9 423.2h1.0M349.7 372.5h1.0M296.8 415.3h1.0M318.5 386.7h1.0M311 395.6h1.0M297.7 401.7h1.0M310.6 396.2h1.0M342.6 377.4h1.0M315 410.9h1.0M330.7 387.4h1.0M300.5 405.5h1.0M334.5 399.9h1.0M314.3 415.2h1.0M344.6 384.7h1.0M352.8 383.2h1.0M309.2 416.8h1.0M280.7 409.5h1.0M338.1 388.4h1.0M337 390.7h1.0M328.4 398.5h1.0M345.4 374.8h1.0M303.4 423.9h1.0M344.4 374.8h1.0M286.3 406.2h1.0M299.4 404.5h1.0M315.9 395.8h1.0M354.1 378.2h1.0M344.4 383h1.0M303.2 420h1.0M334.8 401.2h1.0M335.1 385.9h1.0M283.1 407.6h1.0M307.7 425h1.0M327.8 392.6h1.0M297.7 422.2h1.0M353.9 374.3h1.0M302.9 415h1.0M322.2 415.4h1.0M300 416.4h1.0M325.2 386.9h1.0M293 429.6h1.0M294.6 402.4h1.0M353.2 361.7h1.0M286.2 407.8h1.0M349.9 367.3h1.0M304.9 426.8h1.0M319.9 400.1h1.0M334.4 384.2h1.0M346.8 376.2h1.0M322.4 403h1.0M297.3 427.3h1.0M352.2 377.9h1.0M325.9 384.3h1.0M341 387.7h1.0M328.5 382.2h1.0M334.1 383.6h1.0M293.8 413.6h1.0M349.9 370.5h1.0M318.6 395.2h1.0M348.6 382.9h1.0M335.5 382.6h1.0M309 402.8h1.0M277.1 410.2h1.0M327.3 396.3h1.0M327.6 385.1h1.0M327.8 392.1h1.0M351.3 370.7h1.0M342.8 364.9h1.0M310 393.3h1.0M348.5 366.3h1.0M312.9 422.8h1.0M316.3 418h1.0M357 377h1.0M345.6 374.3h1.0M351.5 368.9h1.0M350.2 374.8h1.0M326.8 387h1.0M325.6 401.6h1.0M303.2 421.5h1.0M331.8 394.6h1.0M337.4 386.8h1.0M294.9 425.6h1.0M288.4 404.4h1.0M310.6 427.1h1.0M342.1 373.5h1.0M331.1 376.4h1.0M347 377h1.0M300.6 400.4h1.0M340.9 385.6h1.0M338.4 379.6h1.0M341.2 375.7h1.0M349.9 363h1.0M316.3 396.1h1.0M302.4 400h1.0M308.1 414.6h1.0M298.7 420.8h1.0M288.3 408h1.0M359.5 370.7h1.0M300.6 416.6h1.0M321.6 408.6h1.0M361.1 377.2h1.0M303.7 399.8h1.0M340.6 379.6h1.0M319.2 410.3h1.0M302 427.9h1.0M297.1 412.7h1.0M325.9 382.1h1.0M291.4 403.9h1.0M337.8 377.8h1.0M320.4 390.1h1.0M352.4 373h1.0M289.7 407.9h1.0M325.3 389.2h1.0M285.6 403.5h1.0M336.6 384.9h1.0M313.5 393.1h1.0M329.2 384.4h1.0M284.3 411.9h1.0M354.2 373.2h1.0M292.1 423.6h1.0M350.4 373.6h1.0M307.9 419.2h1.0M306 428.8h1.0M293.7 408.9h1.0M337.9 387.2h1.0M311.9 400.9h1.0M332.8 384.5h1.0M341.6 379.8h1.0M331.1 389.9h1.0M357.9 373.1h1.0M338.5 384.5h1.0M310.2 397.8h1.0M309.1 424.7h1.0M300.7 399.8h1.0M294.7 404h1.0M325.4 385.8h1.0M352.4 377.9h1.0M293.8 422.5h1.0M313.5 406.4h1.0M298 420.7h1.0M334.6 377.2h1.0M295.8 426.3h1.0M292.9 399.5h1.0M301.3 400h1.0M334.6 374.4h1.0M288.1 406.2h1.0M349.6 378.4h1.0M326.6 390.9h1.0M354.8 364.8h1.0M341.2 385.2h1.0M333 378.5h1.0M333.2 394.7h1.0M306.1 420.4h1.0M328.3 388.2h1.0M319.1 384.1h1.0M346.3 387.9h1.0M331.3 375.4h1.0M308.7 397.6h1.0M339.7 384.3h1.0M317.4 416.3h1.0M294.4 403.8h1.0M290.5 425.2h1.0M353.3 368.5h1.0M308.5 425.3h1.0M298.9 408.5h1.0M340.9 366.6h1.0M359.4 366.6h1.0M328.3 400.3h1.0M286.1 423.4h1.0M295.2 399.2h1.0M319.2 408.3h1.0M331 397h1.0M316.5 411.1h1.0M313.8 422.4h1.0M310.1 400.5h1.0M321.1 394.3h1.0M281.1 407.3h1.0M326.6 390h1.0M345.3 381.9h1.0M317 395.3h1.0M312.2 420.3h1.0M294.5 417.7h1.0M306.2 396.8h1.0M329.4 381.5h1.0M334.7 391.7h1.0M305.2 401.9h1.0M326.1 397h1.0M344.5 370.5h1.0M299.4 404.8h1.0M348.4 369.3h1.0M295.9 407.7h1.0M294.1 424.7h1.0M337.8 371.2h1.0M320.9 397.9h1.0M340 377.5h1.0M302.6 417h1.0M285.7 406.3h1.0M297.7 398.9h1.0M306 399.3h1.0M316 407.6h1.0M331.5 390.4h1.0M336.8 391.7h1.0M319.2 403.1h1.0M324.5 405.9h1.0M314.9 388.4h1.0M336 392.9h1.0M284.3 410.4h1.0M348.4 366.2h1.0M332 394.7h1.0" stroke="#c4c4c4" stroke-width="1.0" fill="none" opacity="0.85"/>
<text x="285.7" y="366.1" font-size="12.9" fill="#fff"><tspan font-style="italic">n</tspan> = 346</text>
<path d="M427.6 282.4h1.0M385.4 319.1h1.0M416.8 316.5h1.0M397.9 317.2h1.0M427 279.8h1.0M400.8 323.1h1.0M412.6 311.4h1.0M407.2 290.8h1.0M436.8 297.3h1.0M415.2 314.9h1.0M389 299.4h1.0M407.7 318.1h1.0M432.6 286.2h1.0M455.7 289.7h1.0M406.7 316.3h1.0M413.3 318.6h1.0M416.3 293.4h1.0M439.8 284.9h1.0M390.1 317.9h1.0M410 284.5h1.0M424.1 282.8h1.0M397.9 310.2h1.0M434.7 286.1h1.0M414.7 313h1.0M402.1 293.5h1.0M421 305.2h1.0M413.4 281h1.0M385.4 305.2h1.0M424.8 274.5h1.0M451.9 289.6h1.0M398.5 318.2h1.0M402.2 295.5h1.0M395.3 303.8h1.0M404.8 307.6h1.0M405.9 301.4h1.0M438.5 290.4h1.0M404.5 324.1h1.0M426.8 307.8h1.0M416.9 279.9h1.0M412.6 316.9h1.0M443.3 281.1h1.0M434.3 289.9h1.0M394.6 324.9h1.0M399.8 294.3h1.0M424.4 296.7h1.0M393.1 316.4h1.0M412.7 281.9h1.0M433.7 309.8h1.0M420.8 316h1.0M382.6 306.7h1.0M385.9 297.9h1.0M411.7 294.2h1.0M427.9 290.1h1.0M398.4 315.4h1.0M431.8 292h1.0M444.8 285.5h1.0M428.4 306.9h1.0M387.8 307.9h1.0M411.7 295.9h1.0M431.5 313h1.0M418.6 278.8h1.0M389.2 320.2h1.0M442 289h1.0M442.2 282.6h1.0M430.7 298.3h1.0M445.7 292.2h1.0M433.9 302.9h1.0M430 298.6h1.0M416.1 316.8h1.0M425.7 317.6h1.0M401.9 314.1h1.0M410.5 309.5h1.0M445.7 302.7h1.0M404 309.2h1.0M392.1 304h1.0M388.8 302h1.0M411.2 279.1h1.0M419.3 305.4h1.0M404.6 310.7h1.0M385.5 306.2h1.0M411.5 302.8h1.0M436.2 296.4h1.0M411.3 319.7h1.0M400.7 322.1h1.0M433.6 278.6h1.0M432.5 290.6h1.0M394.7 313.4h1.0M440.5 288.8h1.0M429 302.1h1.0M442.7 290.4h1.0M435.3 307.3h1.0M453 295.1h1.0M394.4 309.5h1.0M424.8 291.4h1.0M443 297.8h1.0M403.6 312.6h1.0M422.7 274.9h1.0M402.2 319h1.0M394.1 315.9h1.0M397.9 303.1h1.0M392.7 315.3h1.0M441 283.1h1.0M404 295h1.0M428.4 312.3h1.0M386.3 315.6h1.0M394.6 306.4h1.0M418.6 313.2h1.0M410.2 289.8h1.0M428.4 291.3h1.0M408.2 306.5h1.0M419.3 288.5h1.0M453.6 285.1h1.0M380 302.1h1.0M394.1 313.3h1.0M387.3 317.9h1.0M404.5 320.6h1.0M417.8 293.5h1.0M394.9 299.9h1.0M409.4 318.7h1.0M399.9 320.4h1.0M404.4 304h1.0M424.9 306.8h1.0M407.7 286.9h1.0M427.1 273.7h1.0M450.9 289.5h1.0M431.7 290.6h1.0M435.2 295.6h1.0M409.2 325.5h1.0M389.9 297h1.0M388.2 302.6h1.0M405.3 302.5h1.0M457.2 286.8h1.0M384.2 303.5h1.0M428 287h1.0M401.8 291.8h1.0M399.2 313.7h1.0M439.5 297.1h1.0M436.7 276.4h1.0M443.8 289h1.0M402.4 318h1.0M437.5 283.2h1.0M411 319.9h1.0M446.8 297.3h1.0M448 294.2h1.0M386.3 320.3h1.0M412.8 307.7h1.0M397.7 325.4h1.0M404.9 317.1h1.0M416.7 287.2h1.0M394.8 319.5h1.0M395.9 321h1.0M396.8 308h1.0M400 313.4h1.0M409.7 307.7h1.0M412.2 292h1.0M400.6 293.5h1.0M435.1 285.7h1.0M433.6 278.1h1.0M447.7 293.7h1.0M426 285.9h1.0M436.9 308.5h1.0M415.9 315.3h1.0M450.6 291.7h1.0M433.6 297.7h1.0M383.6 317.2h1.0M381.3 301.7h1.0M400.5 301.5h1.0M440.7 305.7h1.0M381.7 311.9h1.0M427.5 295.5h1.0M449.3 298h1.0M411.4 288.5h1.0M441.8 298.2h1.0M416.7 278.2h1.0M395.4 307.1h1.0M394.2 299.8h1.0M411.5 325.1h1.0M437 301.9h1.0M393.6 321.4h1.0M427.3 298.7h1.0M419.8 298.8h1.0M427.6 298.1h1.0M398.5 316.5h1.0M436.7 286.5h1.0M456.4 288.3h1.0M390.7 321.3h1.0M450.1 293.4h1.0M427.3 292.1h1.0M395.6 307.2h1.0M432 294.3h1.0M440.8 296.2h1.0M449.1 282.4h1.0M438.8 306.1h1.0M437.1 285.7h1.0M401.2 326.4h1.0M446.6 292.4h1.0M436.6 284.6h1.0M417.1 313.6h1.0M401.9 303.4h1.0M442.9 284.9h1.0M405.7 317.8h1.0M440.5 293.2h1.0M408.1 299.6h1.0M419.6 274.1h1.0M385.9 300.3h1.0M437.1 290.7h1.0M430.7 280.1h1.0M448.6 295.3h1.0M397.7 310.7h1.0M434.1 277.7h1.0M388.5 310.2h1.0M401.4 295.3h1.0M398.1 311h1.0M391.4 292.6h1.0M413 315h1.0M422.9 308.9h1.0M417.7 309.9h1.0M414.1 283.5h1.0M428.2 311.5h1.0M429.7 299.1h1.0M402.3 315.8h1.0M405.4 300h1.0M438 298.3h1.0M390.3 314.3h1.0M424.6 308.3h1.0M413.7 311.5h1.0M413.8 294.4h1.0M389.9 304.4h1.0M413.7 281.4h1.0M422 278.7h1.0M443.7 305h1.0M426.9 272.6h1.0M419.9 295.1h1.0M432.7 312h1.0M452.9 293.7h1.0M397.3 313h1.0M384.5 300.4h1.0M386.3 310.1h1.0M399.8 314h1.0M451.4 283.1h1.0M382.4 316h1.0M444.6 300.7h1.0M436.3 285.2h1.0M427.1 281.6h1.0M444.8 298.8h1.0M443.1 296.6h1.0M417.7 277.7h1.0M433.8 297.6h1.0M389.5 311.9h1.0M415.6 289.8h1.0M413 279.5h1.0M444.7 293.7h1.0M411.4 281.6h1.0M441.1 295.2h1.0M442.4 304.3h1.0M417.4 290.7h1.0M395.8 304.4h1.0M393.4 298.4h1.0M409.5 298.5h1.0M399.8 297.9h1.0M434.5 311.1h1.0M422 293.2h1.0M431.9 289.9h1.0M436.3 309.1h1.0M390.2 306.9h1.0M411.5 286.4h1.0M433.1 289.9h1.0M431.6 306.5h1.0M437.5 287.9h1.0M409.4 323.3h1.0M432.2 310.7h1.0M406.9 312.9h1.0M446.4 301.4h1.0M421.1 316.7h1.0M448.2 288.5h1.0M399.8 305.9h1.0M424.1 277.1h1.0M433.8 292.4h1.0M400.4 309.4h1.0M428.9 295.8h1.0M435.6 300.4h1.0M389.9 296.8h1.0M415.9 296h1.0M424.7 287.3h1.0M416.1 280.2h1.0M414.2 315.1h1.0M437.4 295.1h1.0M390.4 312.9h1.0M390.1 310.6h1.0M435.1 300.1h1.0M390.4 318.6h1.0M394.8 297.1h1.0M393.5 318.9h1.0M391.4 301.6h1.0M438.4 298.3h1.0M432 303.6h1.0M454.3 296.4h1.0M406.8 310.3h1.0M421.5 308.7h1.0M427.8 300.7h1.0M417.9 280h1.0M436.6 303h1.0M416.9 291.3h1.0M409.4 290.8h1.0M397.8 320.4h1.0M429 308.8h1.0M419.4 290.8h1.0M449.1 282.3h1.0M393.4 309.4h1.0M384.3 311.7h1.0M429.2 298h1.0M411.6 291.9h1.0M439.6 301.3h1.0M426.6 274h1.0M422.6 277.6h1.0M442.7 302.9h1.0M409.9 321.9h1.0M442.6 280.6h1.0M427 290.1h1.0M413.8 319h1.0" stroke="#c4c4c4" stroke-width="1.0" fill="none" opacity="0.85"/>
<text x="381.4" y="270.6" font-size="12.9" fill="#fff"><tspan font-style="italic">n</tspan> = 356</text>
<path d="M403 423.5h1.0M432.1 377.8h1.0M381.5 406.3h1.0M420.4 385.1h1.0M428.4 386.7h1.0M416.5 411.6h1.0M437.8 379.6h1.0M429.8 389.9h1.0M432.2 393.9h1.0M422.1 393.1h1.0M402.6 419.9h1.0M442.5 373.4h1.0M406.3 396.7h1.0M442.1 367.5h1.0M415.8 392.6h1.0M438.6 371.1h1.0M406.7 395.4h1.0M439.3 379.2h1.0M428.1 391.9h1.0M444.2 382h1.0M427.9 395.2h1.0M392.7 422.1h1.0M419.4 393.7h1.0M399.7 412.6h1.0M408.8 411.3h1.0M449.1 376.3h1.0M446.7 367.1h1.0M401.4 425h1.0M431.1 391.7h1.0M380.5 410h1.0M410.7 408.5h1.0M377.4 411.7h1.0M402.8 398.9h1.0M434.5 393.6h1.0M398.1 405.2h1.0M401.3 415h1.0M428.8 383.2h1.0M442.8 383.7h1.0M405.6 393.1h1.0M445.3 372.7h1.0M446.4 374.6h1.0M419.4 395.4h1.0M414.2 390.2h1.0M436.9 376.4h1.0M439.7 384.2h1.0M425.8 392.7h1.0M429.9 374.7h1.0M373.3 412.6h1.0M389 402.2h1.0M448.1 368.4h1.0M446.4 370.2h1.0M393.8 406.4h1.0M431.2 386.9h1.0M451.5 367.8h1.0M391.2 405h1.0M384.6 411.1h1.0M432 377h1.0M403.1 413.2h1.0M417.3 405.4h1.0M435.6 389.8h1.0M402.7 419.7h1.0M385.9 409.4h1.0M422.6 383.2h1.0M425.4 384.5h1.0M434.9 381.5h1.0M445.6 383.1h1.0M421.1 382.7h1.0M419.2 391.8h1.0M378.7 409h1.0M430.2 379.1h1.0M389.3 414.3h1.0M391.1 412.8h1.0M419.4 404.4h1.0M403.4 402.4h1.0M425.6 388.2h1.0M404.7 421.9h1.0M392.9 402.1h1.0M434 389.1h1.0M450.9 371.7h1.0M410 390.1h1.0M432.7 392.9h1.0M429.4 381.8h1.0M425.9 379.3h1.0M445.1 377.3h1.0M381.7 414.9h1.0M448.7 374.7h1.0M430.9 380.1h1.0M425.6 399.7h1.0M421.2 385.9h1.0M441.7 368.7h1.0M394.2 415.6h1.0M447.5 362.5h1.0M385.1 422h1.0M405.1 399.8h1.0M437.1 382.7h1.0M426.3 399.5h1.0M448.1 372h1.0M419.7 401.7h1.0M437.4 382.8h1.0M449.3 371.3h1.0M395.5 416.7h1.0M438.7 382.8h1.0M415.5 409.9h1.0M431.7 371.2h1.0M415.6 397.2h1.0M438.6 390h1.0M391 419.2h1.0M431.9 373.8h1.0M437.7 373h1.0M413.9 406.5h1.0M441.8 381.4h1.0M395.8 402.3h1.0M430.4 378.3h1.0M399.6 426.6h1.0M385.8 406.3h1.0M430.2 388.2h1.0M432.4 376.9h1.0M413.8 393.2h1.0M394.4 413.7h1.0M415.2 392h1.0M411.1 416.9h1.0M415.3 408.7h1.0M419.4 389.2h1.0M413.4 395.9h1.0M431.2 391.7h1.0M439.8 368.8h1.0M404.4 429.1h1.0M384.2 405.7h1.0M411.4 393.3h1.0M441.2 369.4h1.0M391.4 422.1h1.0M457.3 369h1.0M442.1 372.8h1.0M399.1 415.8h1.0M395 412.9h1.0M423.8 391.1h1.0M408.9 393.8h1.0M379.6 419.4h1.0M407.4 417.6h1.0M403.7 401.2h1.0M430.3 386.1h1.0M390.9 404.8h1.0M439.8 373.8h1.0M380.3 411.4h1.0M387.6 410h1.0M391.6 412.2h1.0M439.5 374h1.0M384.1 406.5h1.0M413.3 387.7h1.0M427.1 382.6h1.0M403.3 395.4h1.0M414.8 405.1h1.0M413.3 423.6h1.0M417.1 393.6h1.0M398.8 401.7h1.0M381.1 405.6h1.0M398.9 424.4h1.0M405.2 400.3h1.0M402.7 398.9h1.0M414.4 407.9h1.0M389.9 426.5h1.0M429.6 384h1.0M386.4 414.3h1.0M377 415.7h1.0M420.5 400.7h1.0M403.2 412.6h1.0M418.1 389.3h1.0M445.8 378.3h1.0M405.3 423.1h1.0M399.3 399.1h1.0M403.6 413.2h1.0M449.9 374.3h1.0M436.9 370.1h1.0M385.7 403.3h1.0M412 392.9h1.0M415.6 390.2h1.0M439.1 385.7h1.0M415.9 387.2h1.0M408.9 426h1.0M398.9 419.8h1.0M439.9 376h1.0M378.5 406.6h1.0M437.6 374.3h1.0M437.5 386.1h1.0M438.1 389.8h1.0M395 416.4h1.0M436.9 389.2h1.0M434.6 374.3h1.0M455 379.8h1.0M441.8 375.6h1.0M383.1 420.1h1.0M454.6 361.6h1.0M449.1 373.1h1.0M412.2 395.5h1.0M406.1 426.3h1.0M397 400.6h1.0M397.2 415.8h1.0M411.1 413.3h1.0M389.8 428.2h1.0M392.1 400h1.0M390.4 407.5h1.0M420.8 387.6h1.0M402.2 421.1h1.0M445.6 368.6h1.0M400.6 402.4h1.0M426.3 391.5h1.0M444.3 375.9h1.0M440.8 382.2h1.0M400.1 420.2h1.0M408.4 413.1h1.0M395.4 398.3h1.0M423.2 381.3h1.0M441.3 384.3h1.0M407.9 421.9h1.0M413.8 390.8h1.0M437.2 369.9h1.0M445.4 382.1h1.0M431.9 385h1.0M438.8 373h1.0M443.9 372h1.0M435.4 387.2h1.0M414.3 395.4h1.0M424.9 395.5h1.0M436.8 369.8h1.0M419 383.3h1.0M395.4 405.1h1.0M398.1 403.2h1.0M380.8 414.2h1.0M419 391.6h1.0M435.6 377.2h1.0M437.2 380.6h1.0M386.7 423.4h1.0M409 398.4h1.0M404.4 419h1.0M449.4 362.3h1.0M407.6 393.9h1.0M434.7 385.3h1.0M398.6 398.7h1.0M433.7 382.4h1.0M420.5 396.6h1.0M421.9 390.3h1.0M390.5 417.2h1.0M427.2 388.5h1.0M413.5 401.5h1.0M404.9 420.9h1.0M382.4 404.5h1.0M402.5 394.7h1.0M422.5 389.7h1.0M412.2 394.3h1.0M395 420.1h1.0M435.9 365.4h1.0M423.6 393.9h1.0M389.1 402.7h1.0M424.1 376.9h1.0M395.5 401.1h1.0M408.5 411.2h1.0M444.8 379.2h1.0M417.2 396.4h1.0M423 387.7h1.0M398.7 416.6h1.0M431.8 396.3h1.0M432.1 391.7h1.0M392.9 405.4h1.0M433 381.7h1.0M400.4 416.1h1.0M405.6 426.2h1.0M427.8 387.4h1.0" stroke="#c4c4c4" stroke-width="1.0" fill="none" opacity="0.85"/>
<text x="381.4" y="366.1" font-size="12.9" fill="#fff"><tspan font-style="italic">n</tspan> = 297</text>
<path d="M549.2 287.8h1.0M511.7 319.6h1.0M549.2 291h1.0M505.8 283.9h1.0M530.2 308.8h1.0M487.2 316.6h1.0M538 298.3h1.0M508.5 285.2h1.0M512.2 318.6h1.0M499.2 293.7h1.0M498 319.6h1.0M522.1 291.5h1.0M481.1 303h1.0M514 308.9h1.0M522.4 305.7h1.0M517.6 306.1h1.0M497.9 309.2h1.0M515.2 278.8h1.0M503.3 315.5h1.0M515.1 316.8h1.0M524.4 278.6h1.0M507.5 307h1.0M538.5 287.7h1.0M484.5 310.8h1.0M508.8 294.7h1.0M500.4 303.6h1.0M538.9 299h1.0M479.4 309h1.0M477.9 318h1.0M526.7 287.8h1.0M497.2 314.4h1.0M529.9 302.7h1.0M535.2 288.4h1.0M490.2 310.5h1.0M494.4 324.1h1.0M490.4 315.9h1.0M529.7 294.6h1.0M514.1 289.3h1.0M523 303.7h1.0M519.1 282.6h1.0M534.7 306.6h1.0M490.7 307.8h1.0M528.7 295.3h1.0M494.2 310h1.0M527.6 297h1.0M516.9 311.8h1.0M530.2 282.5h1.0M497.8 311.8h1.0M491.6 306.8h1.0M528.3 280.8h1.0M484.1 317.7h1.0M475.3 313.7h1.0M536 286.2h1.0M503.2 295.1h1.0M485.8 317.6h1.0M520.3 275.9h1.0M508.8 282.1h1.0M515.4 317.4h1.0M519.8 294.5h1.0M499.3 316.9h1.0M505.8 299.1h1.0M510.3 313.5h1.0M507.1 307h1.0M537.3 294.5h1.0M485.8 297.6h1.0M503 304.4h1.0M502.3 291.2h1.0M512.3 284.7h1.0M533.3 309h1.0M510.8 293.6h1.0M544.6 286.3h1.0M525.1 296.3h1.0M479.4 304.1h1.0M500.9 323.8h1.0M518.7 298.8h1.0M486.8 311.7h1.0M501.9 306.5h1.0M475.3 307.1h1.0M517 305.9h1.0M475.2 308.3h1.0M499.5 294.7h1.0M528.3 285.5h1.0M532.2 299.9h1.0M513.6 298.1h1.0M529.5 305.6h1.0M513.3 294.9h1.0M495.2 313.5h1.0M485.2 307.7h1.0M520.2 273.5h1.0M504.5 289.2h1.0M535.3 300.6h1.0M529.1 280h1.0M504.8 322.4h1.0M541.9 291.6h1.0M489.7 311h1.0M480.2 319.3h1.0M490.4 309.9h1.0M521.8 309.3h1.0M530.4 294.1h1.0M551.2 289.6h1.0M503.4 284.1h1.0M497.8 305.2h1.0M519.1 278.9h1.0M531.5 276h1.0M483.1 315.4h1.0M483.1 321.9h1.0M513.9 291.3h1.0M488.4 292.6h1.0M535.1 293.2h1.0M529.6 290h1.0M496.3 300.2h1.0M500.5 312h1.0M487.3 299h1.0M492.5 318.1h1.0M498.9 322.9h1.0M479.3 300.2h1.0M535.6 309.3h1.0M493.9 300.5h1.0M484 298.1h1.0M502.1 320h1.0M481.6 301.5h1.0M510.6 294h1.0M544.6 296.4h1.0M528.6 301.8h1.0M499.1 321.8h1.0M522.7 293.4h1.0M496.1 322.6h1.0M484.1 317.7h1.0M509.7 281.5h1.0M501.5 315.1h1.0M506.2 317.7h1.0M481.4 306.4h1.0M483.1 304.6h1.0M513.7 315.2h1.0M478.6 317.1h1.0M535.5 277.8h1.0M502.1 308.7h1.0M505.5 320.8h1.0M538.3 300.8h1.0M485.6 307.2h1.0M536.5 284.3h1.0M479.1 311h1.0M494.1 303.6h1.0M504 297.6h1.0M532.4 282.9h1.0M527.2 292.7h1.0M522.2 294.4h1.0M516.1 287.2h1.0M525.8 276.8h1.0M543.9 286.7h1.0M517.7 294.9h1.0M525.9 307.9h1.0M539.7 297.5h1.0M493.1 315.9h1.0M543.9 292.9h1.0M522.9 277.1h1.0M494 302.5h1.0M494.8 295.5h1.0M486.3 316.2h1.0M517.9 311.9h1.0M537.3 299.4h1.0M536.1 304.6h1.0M492.6 321.4h1.0M533.5 278.8h1.0M486.6 323.3h1.0M491.4 299.2h1.0M541.8 294.2h1.0M518.8 316.7h1.0M505.8 313.7h1.0M488.7 305.8h1.0M480.6 311.1h1.0M506.6 280.1h1.0M538.5 291.5h1.0M508.7 309.8h1.0M533.7 284.6h1.0M500.2 309.2h1.0M540.7 285.3h1.0M503.8 312.7h1.0M504.5 312h1.0M477.3 314h1.0M509.9 278.8h1.0M510.5 319h1.0M493.8 306.6h1.0M528.9 277.7h1.0M538 289.3h1.0M517.4 290.5h1.0M510.1 288.7h1.0M509.2 279.3h1.0M539.6 294.3h1.0M536.8 289.4h1.0M507.6 281.7h1.0M507.8 309.5h1.0M496 320.9h1.0M518.6 311.6h1.0M488.5 320.8h1.0M511.6 283.3h1.0M546.8 291.3h1.0M522.6 275.3h1.0M546 295.4h1.0M529.5 289.9h1.0M512.3 322h1.0M533.1 286.3h1.0M535 302.3h1.0M492.7 297.1h1.0M521.4 297.5h1.0M485.4 314.1h1.0M476.8 304.5h1.0M513.9 313.6h1.0M512.6 284.4h1.0M513.3 286.5h1.0M537.1 292.7h1.0M489.7 318.2h1.0M498.2 302.7h1.0M545.8 297h1.0M490.9 317.5h1.0M549.3 291.9h1.0M541.9 297.2h1.0M492 294.8h1.0M535.9 283.5h1.0M519 303.5h1.0M529 296.6h1.0M502.6 319h1.0M545.4 290.4h1.0M528 290.4h1.0M526 300.7h1.0M505 316.3h1.0M526.7 297.6h1.0M475.8 304.2h1.0M537 294.4h1.0M509.2 286.9h1.0" stroke="#c4c4c4" stroke-width="1.0" fill="none" opacity="0.85"/>
<text x="477.1" y="270.6" font-size="12.9" fill="#fff"><tspan font-style="italic">n</tspan> = 256</text>
<path d="M532.7 384.3h1.0M522.1 390.8h1.0M517.8 393.3h1.0M505.2 420.1h1.0M529.9 386.9h1.0M540.5 373h1.0M515 400.5h1.0M540.2 369.1h1.0M526.2 384.5h1.0M506.1 407.1h1.0M526.8 390.8h1.0M485.8 423.9h1.0M529 384.9h1.0M546 373.3h1.0M493.7 419.1h1.0M513 399.9h1.0M525.6 380.6h1.0M518.8 391.2h1.0M511.4 390.6h1.0M497.5 397h1.0M493 418.8h1.0M481.3 420.6h1.0M484.6 406.7h1.0M529.9 393.9h1.0M529.4 383.2h1.0M521.8 396h1.0M482.4 402.8h1.0M516.5 403h1.0M479.9 408.4h1.0M526.5 388.3h1.0M492 397.4h1.0M473.1 415.4h1.0M538.2 365.2h1.0M542.4 370.9h1.0M495.9 415.6h1.0M505.5 394.6h1.0M502.8 397.7h1.0M482 406.5h1.0M529.2 379.1h1.0M535.5 381.4h1.0M510.1 398.5h1.0M508.6 409.7h1.0M490.2 400.2h1.0M475.5 410.9h1.0M522 394.3h1.0M508.8 403.2h1.0M526.4 371.4h1.0M497.3 401.9h1.0M508.9 395.1h1.0M529.3 375.5h1.0M509.4 406.8h1.0M489.9 417.7h1.0M484.9 407.2h1.0M488.5 418.1h1.0M488.9 405.7h1.0M493.7 421.4h1.0M506.4 421.5h1.0M534.7 369.2h1.0M511.1 387.1h1.0M506.8 396.2h1.0M476.8 418.4h1.0M540.7 374.1h1.0M474.2 409.3h1.0M501.5 395.3h1.0M489.4 405.4h1.0M527.4 377.8h1.0M511.9 404.4h1.0M550.3 372h1.0M543.9 373h1.0M496 427.3h1.0M506.4 414.3h1.0M519.8 384.7h1.0M526.1 395.5h1.0M529.7 389.7h1.0M521.3 379.6h1.0M532.4 376.1h1.0M485 404.8h1.0M511.8 390.3h1.0M540.4 368.6h1.0M510.6 388.6h1.0M484.9 405.6h1.0M475.4 421.4h1.0M487.8 425h1.0M508.6 419.9h1.0M511.4 411.3h1.0M543.2 362h1.0M497.6 402.6h1.0M504.9 401.7h1.0M529.2 379.5h1.0M536.3 374.5h1.0M520.5 389.4h1.0M515.7 398h1.0M485.2 419.6h1.0M530.2 384.8h1.0M535.8 369.7h1.0M494.6 425.3h1.0M539.7 379.7h1.0M528 392.8h1.0M505.6 412.2h1.0M480.5 402.5h1.0M485.1 423.9h1.0M514.1 392.8h1.0M541.2 375h1.0M510.4 412h1.0M524.5 379.5h1.0M512.6 408.6h1.0M522.2 383h1.0M496.4 424.4h1.0M529.4 384.9h1.0M500.6 394.2h1.0M483.2 408h1.0M505.8 409h1.0M549.6 379.5h1.0M545 372.1h1.0M535.6 374.2h1.0M542.1 380.4h1.0M539.6 367.9h1.0M519.8 398.3h1.0M526.2 375.6h1.0M533.7 372h1.0M484.7 422.1h1.0M546.7 387.8h1.0M505.5 416.1h1.0M534.4 379.3h1.0M524.7 389.1h1.0M541.2 377.9h1.0M531.2 378.1h1.0M496 402.3h1.0M504.3 421.6h1.0M497.9 421.1h1.0M499.2 398.4h1.0M541.8 362.1h1.0M493.2 420.5h1.0M515.9 394.2h1.0M539 372.1h1.0M547.5 364.8h1.0M477 423.4h1.0M512.7 396.3h1.0M537.8 367h1.0M504 415.5h1.0M481.4 412h1.0M479 408.8h1.0M484.9 427h1.0M536.1 384.5h1.0M536 373.8h1.0M535.8 380.1h1.0M489.7 426h1.0M520.7 386.5h1.0M540.3 379.4h1.0M506.1 418.3h1.0M492.6 401.5h1.0M533.9 388.2h1.0M476.7 409.9h1.0M498 412.6h1.0M480.2 409.7h1.0M517.6 396.4h1.0M527.4 382.6h1.0M489 398.5h1.0M529.1 383.9h1.0M502.2 424.4h1.0M524.2 390.4h1.0M472.2 408.5h1.0M538.3 393.1h1.0M543.8 375.6h1.0M532.7 379.1h1.0M515.4 386.2h1.0M531.1 376.2h1.0M502.5 418.7h1.0M485.3 403.1h1.0M493.4 399.7h1.0M513.3 385.3h1.0M494.8 422.1h1.0M487.1 419.3h1.0M517.7 401.4h1.0M500.9 395h1.0M497.2 416.5h1.0M501.5 420.3h1.0M485.2 406h1.0M485.6 408.5h1.0M541.8 376.9h1.0M493 413.5h1.0M522.2 397.1h1.0M501.1 412.7h1.0M492.6 401.3h1.0M479.7 425.2h1.0M521.1 393.4h1.0M498.8 427.4h1.0M530.4 382.2h1.0M489.4 401.1h1.0M512.7 395.1h1.0M503 392.5h1.0M548.7 371.7h1.0M513.4 398.6h1.0M495.2 414.7h1.0M503.2 395.6h1.0M496.3 423.5h1.0M525 385.1h1.0M539 364h1.0M499.8 415.8h1.0M517.4 393.6h1.0M508.4 392.4h1.0M514.1 401.6h1.0M535.8 371.2h1.0M485.7 414.1h1.0M472.6 410.6h1.0M493.4 394.9h1.0M543.4 366.2h1.0M481.4 423.8h1.0M545.2 367.8h1.0M520 399.3h1.0M535.8 375.2h1.0M487.7 421h1.0M482.3 404.9h1.0M530.4 391.5h1.0M537.4 364.5h1.0M544.3 363.2h1.0M487.5 407.7h1.0M527.9 395.8h1.0M506.8 392.9h1.0M475.7 404.7h1.0M475.8 405.6h1.0M542.6 373.1h1.0M492.9 428.5h1.0M518.6 383.4h1.0M523 379h1.0M523.2 386h1.0M474.5 413.3h1.0M498.9 435.1h1.0M477.5 412.8h1.0M506.1 413.7h1.0M489.3 429.9h1.0M538.8 390.1h1.0M544.4 365.7h1.0M508.8 395.1h1.0M523.2 378.3h1.0M526.1 381.7h1.0M498 399.2h1.0M494.7 428.7h1.0M533.3 386.3h1.0M535.5 383.7h1.0M499.7 430.6h1.0" stroke="#c4c4c4" stroke-width="1.0" fill="none" opacity="0.85"/>
<text x="477.1" y="366.1" font-size="12.9" fill="#fff"><tspan font-style="italic">n</tspan> = 268</text>
<path d="M642.2 292.1h1.0M599.2 282.8h1.0M587.7 319h1.0M582.3 312.9h1.0M585.1 309.6h1.0M641.9 288.9h1.0M595.5 290.1h1.0M612.7 297.7h1.0M588.8 318.1h1.0M627.4 280.6h1.0M643.2 288.7h1.0M616.2 307.6h1.0M584.8 309.6h1.0M578 309.8h1.0M575.4 310.2h1.0M645.3 286.6h1.0M602.3 320.2h1.0M599.3 305.1h1.0M582.3 302.9h1.0M646 292.5h1.0M575.3 308.3h1.0M621.1 280.5h1.0M624.4 276.4h1.0M585.2 320.3h1.0M602.2 291.1h1.0M634.7 282.5h1.0M616.5 315.5h1.0M603.8 320.4h1.0M611.6 294.3h1.0M643.6 288.9h1.0M609.3 281.1h1.0M634 284.2h1.0M588.7 323.3h1.0M630 298h1.0M616.3 311.1h1.0M639.5 282.5h1.0M624.5 295h1.0M624.7 279.6h1.0M584 316.6h1.0M628.5 306.4h1.0M630.6 284.6h1.0M620.9 277.6h1.0M590.2 306.7h1.0M627.6 296.7h1.0M644.6 285.7h1.0M630 296.2h1.0M629.6 293.1h1.0M599.6 287.3h1.0M604.5 311.6h1.0M634.8 280.8h1.0M641.6 291.4h1.0M599.3 325.1h1.0M605.3 289.3h1.0M615.9 283.9h1.0M632.7 288.6h1.0M618.3 297.8h1.0M583.2 316.2h1.0M617.4 285.3h1.0M591.2 309.7h1.0M620.6 296.7h1.0M589.4 309.8h1.0M573.5 308.2h1.0M578.2 308.6h1.0M594.5 309.5h1.0M602.2 320.4h1.0M578.5 303.7h1.0M573 312.2h1.0M593.7 315.2h1.0M631.8 284h1.0M637.1 296.9h1.0M638.1 303.3h1.0M593.9 320.9h1.0M621.5 291.5h1.0M635.3 294.1h1.0M628.5 291.5h1.0M589 295.9h1.0M638.7 300.7h1.0M642.8 294.2h1.0M637.9 289.2h1.0M624.6 301.7h1.0M619.3 306.6h1.0M633 307.2h1.0M599.8 300.9h1.0M591.8 315.8h1.0M625.3 303.4h1.0M610.1 276.7h1.0M607.6 308h1.0M622.6 278.2h1.0M633.5 297h1.0M631.6 294.7h1.0M601.7 296.9h1.0M619.3 290.7h1.0M598.9 316.7h1.0M604.1 312.4h1.0M597.3 300.2h1.0M590.5 315.6h1.0M592.5 291.7h1.0M610.9 288.9h1.0M620.5 285.5h1.0M630 287.8h1.0M606.5 312.7h1.0M633.2 297.1h1.0M623.8 304.5h1.0M605.7 313h1.0M591 297.6h1.0M632 280.1h1.0M595.9 319.6h1.0M580.9 311.3h1.0M604 321.4h1.0M604.2 315.6h1.0M628.9 286h1.0M574.5 306.5h1.0M582.6 301.8h1.0M624.8 297.6h1.0M586.9 307.1h1.0M588.8 324.5h1.0M633.5 296.6h1.0M594.2 316.2h1.0M625.8 309.1h1.0M633.1 285.3h1.0M605.5 278.6h1.0M593.8 292.5h1.0M573 301.1h1.0M588.3 309.3h1.0M587.6 310.6h1.0M601.5 285.8h1.0M611.3 306.5h1.0M600.9 305.4h1.0M644.6 294.2h1.0M615.7 291.5h1.0M616 277.6h1.0M625.4 301h1.0M611.2 312h1.0M621.5 288.3h1.0M621.1 309.1h1.0M576.3 307.8h1.0M592.3 314.2h1.0M577 300h1.0M573.6 301.7h1.0M592.4 313.1h1.0M612.7 305.6h1.0M605.6 285.4h1.0M605.4 310.4h1.0M583.1 295.8h1.0M590.4 317.1h1.0M581.6 315.8h1.0M595.2 301.9h1.0M616.6 280.4h1.0M601.7 289.5h1.0M611.5 290.3h1.0M609 289.1h1.0M619.3 289.9h1.0M620.9 293.9h1.0M627.2 289.7h1.0M603.4 284.9h1.0M633.2 304.1h1.0M634.3 291.3h1.0M587.6 304.3h1.0" stroke="#c4c4c4" stroke-width="1.0" fill="none" opacity="0.85"/>
<text x="572.8" y="270.6" font-size="12.9" fill="#fff"><tspan font-style="italic">n</tspan> = 176</text>
<path d="M633.7 380.8h1.0M627 381.1h1.0M641.2 368.2h1.0M589.3 419.7h1.0M624.8 375.1h1.0M628.9 374.2h1.0M576 404.9h1.0M606.7 391.5h1.0M635.3 371.1h1.0M618 400h1.0M638.6 375.3h1.0M589.5 421.2h1.0M599.1 391h1.0M616.1 397.5h1.0M612.4 390.6h1.0M566.6 408.8h1.0M635.1 377.1h1.0M582.7 419.9h1.0M597.6 394.9h1.0M621.5 380.2h1.0M613.3 397.5h1.0M623.2 385.3h1.0M621 396.1h1.0M604.4 389.7h1.0M610.5 396.6h1.0M603.7 393.2h1.0M606 399.4h1.0M575.5 423.9h1.0M634.3 362.7h1.0M623.7 378.2h1.0M571.2 404.7h1.0M584.5 425.3h1.0M609.4 394.6h1.0M619.8 389.6h1.0M637.4 373.5h1.0M603.9 404h1.0M585.4 416.7h1.0M634.5 384.7h1.0M627.7 373.9h1.0M619.1 389.4h1.0M624.4 389.3h1.0M614.7 385.1h1.0M638 377.8h1.0M591.1 398.8h1.0M611.7 382.9h1.0M614.3 396.4h1.0M591.2 414.7h1.0M581.4 421.1h1.0M581.1 405.1h1.0M586.5 396.6h1.0M570.1 411h1.0M607.5 401.1h1.0M612 403h1.0M629 375.5h1.0M617.3 396.1h1.0M589 396.6h1.0M604.6 407.7h1.0M615.5 384.7h1.0M609.2 392.7h1.0M602.2 408.9h1.0M631.9 382h1.0M611.5 404.5h1.0M578 407.6h1.0M591.5 419.5h1.0M573.9 413.2h1.0M629.1 384.1h1.0M639.3 379.8h1.0M608.1 422.5h1.0M619.8 384h1.0M607.1 383h1.0M594 391.3h1.0M635.5 376.9h1.0M607.9 405.5h1.0M627.4 390.1h1.0M593.5 417.6h1.0M607.5 393.3h1.0M637.1 371.9h1.0M589 402.3h1.0M573 401h1.0M582.2 416.5h1.0M616.8 389.7h1.0M612.7 391.6h1.0M602.8 396.5h1.0M611.7 387.9h1.0M582.6 401.5h1.0M622.4 390.7h1.0M589 404.2h1.0M597.2 422.4h1.0M627.5 392.6h1.0M592.7 420.5h1.0M588.9 418.8h1.0M592.3 397.2h1.0M625 383.6h1.0M597.1 418.7h1.0M638.4 363.4h1.0M615.8 412.8h1.0M604.4 392.5h1.0M644.1 381.6h1.0M596.3 414.9h1.0M622.8 387.8h1.0M589.7 416.6h1.0M607.4 388h1.0M608.2 399.7h1.0M629.2 369.4h1.0M630.7 376.6h1.0M576.4 419.4h1.0M623.4 384.7h1.0M597 423h1.0M573.8 408.4h1.0M599.6 418.5h1.0M585.7 422.5h1.0M631.4 388.4h1.0M613.1 400.6h1.0M576.3 406.8h1.0M589 414.1h1.0M619.8 378h1.0M609.3 397.9h1.0M621.5 387.2h1.0M601.9 394.8h1.0M624.3 371.1h1.0M583.7 423.7h1.0M607.1 410.2h1.0M594.8 414.6h1.0M600.9 411.7h1.0M615 393.3h1.0M599.8 426.2h1.0M593.6 422.4h1.0M573.9 407h1.0M613.3 389.2h1.0M609.2 393.1h1.0M583.1 402.6h1.0M625.6 393.6h1.0M626.8 388.4h1.0M629.8 378.8h1.0M640.7 362.5h1.0M592.8 430.5h1.0M563.5 424.1h1.0M572.9 406.8h1.0M598 395.1h1.0M592.2 394.8h1.0M642.6 367.5h1.0M598.2 392.1h1.0M607.2 407.5h1.0M622.5 382.6h1.0M625.7 371.9h1.0M632 373.9h1.0M587.6 423h1.0M621.8 382.9h1.0M581 420.5h1.0M644.2 377.1h1.0M637.7 383.5h1.0M584.1 407.3h1.0M626.3 385.2h1.0M615.8 396.1h1.0M626.5 372.7h1.0M639.7 369.4h1.0M588.6 402.9h1.0M624.9 388.7h1.0M581.4 406.1h1.0M608.3 405.2h1.0M586.7 419.8h1.0M603 392.4h1.0M627.2 385.8h1.0M635.5 375.8h1.0M585.6 404.4h1.0M585.7 422h1.0M624 392.8h1.0M579.7 424.4h1.0M587.4 423.7h1.0M625.5 386.2h1.0M617.3 396.9h1.0M610.8 399.5h1.0M636.5 370.8h1.0M605.5 403.9h1.0M633.6 373.8h1.0M585.4 405.2h1.0M603.7 411.7h1.0M578.2 403.5h1.0M579.6 409.7h1.0M570.7 412.2h1.0M594.8 421.1h1.0M607.3 396.1h1.0M623.8 387.2h1.0M596.1 418.1h1.0M574.9 409.8h1.0M591.6 400.3h1.0M586.7 425.3h1.0M639.9 365.2h1.0M634.2 365h1.0M645.6 370.5h1.0M596.2 398.3h1.0M581 419.7h1.0M583.1 426.3h1.0M608.7 385.3h1.0M621.8 393.2h1.0M618.2 382.5h1.0M629.8 371.7h1.0M580.3 419h1.0M576 418.9h1.0M610.6 394.8h1.0M621.5 394.8h1.0M630.5 368.2h1.0M599.5 413.9h1.0M610.7 398.2h1.0M631.3 369.2h1.0M585.5 417.8h1.0M591.3 419.2h1.0M638.6 377.3h1.0M613.4 396.2h1.0M633.4 387.8h1.0M566.5 410.6h1.0M601.6 391.5h1.0M589.7 420h1.0M637.7 379h1.0M620.2 401h1.0M638.3 376.7h1.0M621.7 393.7h1.0" stroke="#c4c4c4" stroke-width="1.0" fill="none" opacity="0.85"/>
<text x="572.8" y="366.1" font-size="12.9" fill="#fff"><tspan font-style="italic">n</tspan> = 242</text>
</g>
</svg>
</body></html>
